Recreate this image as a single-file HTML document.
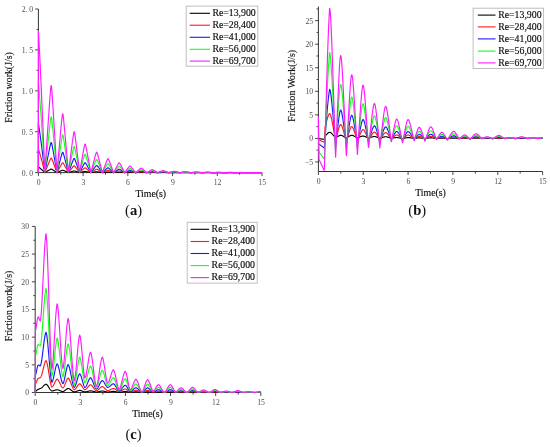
<!DOCTYPE html>
<html lang="en">
<head>
<meta charset="utf-8">
<title>Friction work versus time</title>
<style>
html,body{margin:0;padding:0;background:#fff;}
body{width:550px;height:447px;overflow:hidden;font-family:"Liberation Serif","Noto Serif CJK SC",serif;}
svg{display:block;}
</style>
</head>
<body>
<svg width="550" height="447" viewBox="0 0 550 447">
<rect width="550" height="447" fill="#fff"/>
<path d="M38.40 9.00 V172.60 H262.00" fill="none" stroke="#333" stroke-width="1"/>
<path d="M38.40 172.60 h-3.3 M38.40 131.70 h-3.3 M38.40 90.80 h-3.3 M38.40 49.90 h-3.3 M38.40 9.00 h-3.3 M38.40 152.15 h-1.9 M38.40 111.25 h-1.9 M38.40 70.35 h-1.9 M38.40 29.45 h-1.9 M38.40 172.60 v3.5 M83.12 172.60 v3.5 M127.84 172.60 v3.5 M172.56 172.60 v3.5 M217.28 172.60 v3.5 M262.00 172.60 v3.5 M60.76 172.60 v2.1 M105.48 172.60 v2.1 M150.20 172.60 v2.1 M194.92 172.60 v2.1 M239.64 172.60 v2.1" fill="none" stroke="#333" stroke-width="0.9"/>
<g font-family='"Liberation Serif", "Noto Serif CJK SC", serif' font-size="7.4" fill="#505050">
<text transform="translate(33.2 175.5) scale(1.04 1)" text-anchor="end">0. 0</text>
<text transform="translate(33.2 134.6) scale(1.04 1)" text-anchor="end">0. 5</text>
<text transform="translate(33.2 93.7) scale(1.04 1)" text-anchor="end">1. 0</text>
<text transform="translate(33.2 52.8) scale(1.04 1)" text-anchor="end">1. 5</text>
<text transform="translate(33.2 11.9) scale(1.04 1)" text-anchor="end">2. 0</text>
<text transform="translate(38.6 184.6) scale(1.04 1)" text-anchor="middle">0</text>
<text transform="translate(83.3 184.6) scale(1.04 1)" text-anchor="middle">3</text>
<text transform="translate(128.0 184.6) scale(1.04 1)" text-anchor="middle">6</text>
<text transform="translate(172.8 184.6) scale(1.04 1)" text-anchor="middle">9</text>
<text transform="translate(217.5 184.6) scale(1.04 1)" text-anchor="middle">12</text>
<text transform="translate(262.2 184.6) scale(1.04 1)" text-anchor="middle">15</text>
</g>
<g fill="none" stroke-width="1.15" stroke-linejoin="round" stroke-linecap="butt">
<path d="M38.40 172.60 L38.40 166.94 L38.62 167.10 L38.85 167.26 L39.07 167.43 L39.29 167.60 L39.52 167.77 L39.74 167.95 L39.97 168.13 L40.19 168.31 L40.41 168.50 L40.64 168.68 L40.86 168.88 L41.08 169.07 L41.31 169.27 L41.53 169.47 L41.75 169.67 L41.98 169.87 L42.20 170.08 L42.42 170.29 L42.65 170.50 L42.87 170.71 L43.10 170.93 L43.32 171.14 L43.54 171.36 L43.77 171.58 L43.99 171.79 L44.21 172.01 L44.44 172.23 L44.66 172.45 L44.88 172.56 L45.11 172.42 L45.33 172.29 L45.56 172.16 L45.78 172.03 L46.00 171.89 L46.23 171.76 L46.45 171.63 L46.67 171.50 L46.90 171.37 L47.12 171.23 L47.34 171.10 L47.57 170.97 L47.79 170.84 L48.01 170.71 L48.24 170.58 L48.46 170.45 L48.69 170.32 L48.91 170.19 L49.13 170.06 L49.36 169.93 L49.58 169.81 L49.80 169.68 L50.03 169.56 L50.25 169.44 L50.47 169.33 L50.70 169.23 L50.92 169.16 L51.15 169.12 L51.37 169.13 L51.59 169.20 L51.82 169.30 L52.04 169.42 L52.26 169.55 L52.49 169.68 L52.71 169.82 L52.93 169.96 L53.16 170.10 L53.38 170.25 L53.60 170.39 L53.83 170.54 L54.05 170.68 L54.28 170.83 L54.50 170.98 L54.72 171.12 L54.95 171.27 L55.17 171.42 L55.39 171.57 L55.62 171.71 L55.84 171.86 L56.06 172.01 L56.29 172.16 L56.51 172.30 L56.74 172.45 L56.96 172.60 L57.18 172.50 L57.41 172.40 L57.63 172.30 L57.85 172.20 L58.08 172.10 L58.30 172.00 L58.52 171.90 L58.75 171.80 L58.97 171.70 L59.19 171.60 L59.42 171.50 L59.64 171.40 L59.87 171.31 L60.09 171.21 L60.31 171.11 L60.54 171.01 L60.76 170.91 L60.98 170.82 L61.21 170.72 L61.43 170.63 L61.65 170.54 L61.88 170.45 L62.10 170.37 L62.33 170.30 L62.55 170.25 L62.77 170.25 L63.00 170.28 L63.22 170.34 L63.44 170.42 L63.67 170.51 L63.89 170.60 L64.11 170.69 L64.34 170.78 L64.56 170.88 L64.78 170.98 L65.01 171.08 L65.23 171.17 L65.46 171.27 L65.68 171.37 L65.90 171.47 L66.13 171.57 L66.35 171.67 L66.57 171.77 L66.80 171.87 L67.02 171.97 L67.24 172.07 L67.47 172.17 L67.69 172.27 L67.92 172.37 L68.14 172.47 L68.36 172.57 L68.59 172.55 L68.81 172.48 L69.03 172.41 L69.26 172.35 L69.48 172.28 L69.70 172.21 L69.93 172.14 L70.15 172.07 L70.37 172.00 L70.60 171.93 L70.82 171.86 L71.05 171.79 L71.27 171.72 L71.49 171.66 L71.72 171.59 L71.94 171.52 L72.16 171.45 L72.39 171.38 L72.61 171.32 L72.83 171.25 L73.06 171.19 L73.28 171.13 L73.51 171.07 L73.73 171.02 L73.95 170.98 L74.18 170.96 L74.40 170.98 L74.62 171.02 L74.85 171.08 L75.07 171.14 L75.29 171.20 L75.52 171.27 L75.74 171.34 L75.96 171.41 L76.19 171.48 L76.41 171.56 L76.64 171.63 L76.86 171.70 L77.08 171.77 L77.31 171.85 L77.53 171.92 L77.75 171.99 L77.98 172.06 L78.20 172.14 L78.42 172.21 L78.65 172.28 L78.87 172.36 L79.10 172.43 L79.32 172.50 L79.54 172.58 L79.77 172.57 L79.99 172.51 L80.21 172.46 L80.44 172.41 L80.66 172.36 L80.88 172.31 L81.11 172.26 L81.33 172.21 L81.55 172.16 L81.78 172.11 L82.00 172.05 L82.23 172.00 L82.45 171.95 L82.67 171.90 L82.90 171.85 L83.12 171.80 L83.34 171.75 L83.57 171.70 L83.79 171.65 L84.01 171.61 L84.24 171.56 L84.46 171.52 L84.69 171.48 L84.91 171.46 L85.13 171.46 L85.36 171.47 L85.58 171.50 L85.80 171.54 L86.03 171.58 L86.25 171.62 L86.47 171.67 L86.70 171.71 L86.92 171.76 L87.14 171.81 L87.37 171.85 L87.59 171.90 L87.82 171.95 L88.04 171.99 L88.26 172.04 L88.49 172.09 L88.71 172.14 L88.93 172.18 L89.16 172.23 L89.38 172.28 L89.60 172.33 L89.83 172.38 L90.05 172.42 L90.28 172.47 L90.50 172.52 L90.72 172.57 L90.95 172.59 L91.17 172.55 L91.39 172.52 L91.62 172.49 L91.84 172.45 L92.06 172.42 L92.29 172.38 L92.51 172.35 L92.73 172.31 L92.96 172.28 L93.18 172.25 L93.41 172.21 L93.63 172.18 L93.85 172.14 L94.08 172.11 L94.30 172.08 L94.52 172.04 L94.75 172.01 L94.97 171.98 L95.19 171.94 L95.42 171.91 L95.64 171.88 L95.87 171.85 L96.09 171.82 L96.31 171.80 L96.54 171.79 L96.76 171.78 L96.98 171.79 L97.21 171.82 L97.43 171.84 L97.65 171.87 L97.88 171.91 L98.10 171.94 L98.32 171.97 L98.55 172.01 L98.77 172.04 L99.00 172.08 L99.22 172.11 L99.44 172.14 L99.67 172.18 L99.89 172.21 L100.11 172.25 L100.34 172.28 L100.56 172.32 L100.78 172.35 L101.01 172.39 L101.23 172.42 L101.46 172.46 L101.68 172.49 L101.90 172.53 L102.13 172.56 L102.35 172.60 L102.57 172.58 L102.80 172.55 L103.02 172.53 L103.24 172.50 L103.47 172.48 L103.69 172.46 L103.91 172.43 L104.14 172.41 L104.36 172.39 L104.59 172.36 L104.81 172.34 L105.03 172.31 L105.26 172.29 L105.48 172.27 L105.70 172.24 L105.93 172.22 L106.15 172.20 L106.37 172.17 L106.60 172.15 L106.82 172.13 L107.05 172.11 L107.27 172.09 L107.49 172.07 L107.72 172.05 L107.94 172.04 L108.16 172.05 L108.39 172.06 L108.61 172.07 L108.83 172.09 L109.06 172.12 L109.28 172.14 L109.50 172.16 L109.73 172.18 L109.95 172.21 L110.18 172.23 L110.40 172.25 L110.62 172.28 L110.85 172.30 L111.07 172.33 L111.29 172.35 L111.52 172.37 L111.74 172.40 L111.96 172.42 L112.19 172.45 L112.41 172.47 L112.64 172.50 L112.86 172.52 L113.08 172.54 L113.31 172.57 L113.53 172.59 L113.75 172.59 L113.98 172.57 L114.20 172.55 L114.42 172.54 L114.65 172.52 L114.87 172.50 L115.09 172.49 L115.32 172.47 L115.54 172.45 L115.77 172.43 L115.99 172.42 L116.21 172.40 L116.44 172.38 L116.66 172.37 L116.88 172.35 L117.11 172.33 L117.33 172.32 L117.55 172.30 L117.78 172.28 L118.00 172.27 L118.23 172.25 L118.45 172.24 L118.67 172.22 L118.90 172.21 L119.12 172.21 L119.34 172.21 L119.57 172.22 L119.79 172.23 L120.01 172.24 L120.24 172.26 L120.46 172.28 L120.68 172.29 L120.91 172.31 L121.13 172.33 L121.36 172.34 L121.58 172.36 L121.80 172.38 L122.03 172.40 L122.25 172.41 L122.47 172.43 L122.70 172.45 L122.92 172.47 L123.14 172.48 L123.37 172.50 L123.59 172.52 L123.82 172.54 L124.04 172.55 L124.26 172.57 L124.49 172.59 L124.71 172.60 L124.93 172.58 L125.16 172.57 L125.38 172.56 L125.60 172.55 L125.83 172.54 L126.05 172.53 L126.27 172.51 L126.50 172.50 L126.72 172.49 L126.95 172.48 L127.17 172.47 L127.39 172.46 L127.62 172.44 L127.84 172.43 L128.06 172.42 L128.29 172.41 L128.51 172.40 L128.73 172.39 L128.96 172.38 L129.18 172.37 L129.41 172.36 L129.63 172.35 L129.85 172.34 L130.08 172.34 L130.30 172.34 L130.52 172.35 L130.75 172.36 L130.97 172.37 L131.19 172.38 L131.42 172.39 L131.64 172.40 L131.86 172.41 L132.09 172.42 L132.31 172.43 L132.54 172.44 L132.76 172.45 L132.98 172.46 L133.21 172.47 L133.43 172.49 L133.65 172.50 L133.88 172.51 L134.10 172.52 L134.32 172.53 L134.55 172.54 L134.77 172.55 L135.00 172.57 L135.22 172.58 L135.44 172.59 L135.67 172.60 L135.89 172.59 L136.11 172.58 L136.34 172.58 L136.56 172.57 L136.78 172.56 L137.01 172.55 L137.23 172.55 L137.45 172.54 L137.68 172.53 L137.90 172.52 L138.13 172.51 L138.35 172.51 L138.57 172.50 L138.80 172.49 L139.02 172.48 L139.24 172.48 L139.47 172.47 L139.69 172.46 L139.91 172.45 L140.14 172.45 L140.36 172.44 L140.59 172.43 L140.81 172.43 L141.03 172.42 L141.26 172.42 L141.48 172.42 L141.70 172.43 L141.93 172.43 L142.15 172.44 L142.37 172.45 L142.60 172.45 L142.82 172.46 L143.04 172.47 L143.27 172.48 L143.49 172.48 L143.72 172.49 L143.94 172.50 L144.16 172.51 L144.39 172.52 L144.61 172.52 L144.83 172.53 L145.06 172.54 L145.28 172.55 L145.50 172.56 L145.73 172.56 L145.95 172.57 L146.18 172.58 L146.40 172.59 L146.62 172.59 L146.85 172.60 L147.07 172.59 L147.29 172.59 L147.52 172.58 L147.74 172.58 L147.96 172.57 L148.19 172.57 L148.41 172.56 L148.63 172.56 L148.86 172.55 L149.08 172.55 L149.31 172.54 L149.53 172.54 L149.75 172.53 L149.98 172.53 L150.20 172.52 L150.42 172.52 L150.65 172.51 L150.87 172.51 L151.09 172.50 L151.32 172.50 L151.54 172.49 L151.77 172.49 L151.99 172.48 L152.21 172.48 L152.44 172.48 L152.66 172.49 L152.88 172.49 L153.11 172.49 L153.33 172.50 L153.55 172.50 L153.78 172.51 L154.00 172.51 L154.22 172.52 L154.45 172.52 L154.67 172.53 L154.90 172.53 L155.12 172.54 L155.34 172.54 L155.57 172.55 L155.79 172.55 L156.01 172.56 L156.24 172.56 L156.46 172.57 L156.68 172.58 L156.91 172.58 L157.13 172.59 L157.36 172.59 L157.58 172.60 L157.80 172.60 L158.03 172.60 L158.25 172.59 L158.47 172.59 L158.70 172.58 L158.92 172.58 L159.14 172.58 L159.37 172.57 L159.59 172.57 L159.81 172.57 L160.04 172.56 L160.26 172.56 L160.49 172.56 L160.71 172.55 L160.93 172.55 L161.16 172.54 L161.38 172.54 L161.60 172.54 L161.83 172.53 L162.05 172.53 L162.27 172.53 L162.50 172.52 L162.72 172.52 L162.95 172.52 L163.17 172.52 L163.39 172.52 L163.62 172.52 L163.84 172.52 L164.06 172.53 L164.29 172.53 L164.51 172.53 L164.73 172.54 L164.96 172.54 L165.18 172.54 L165.40 172.55 L165.63 172.55 L165.85 172.55 L166.08 172.56 L166.30 172.56 L166.52 172.57 L166.75 172.57 L166.97 172.57 L167.19 172.58 L167.42 172.58 L167.64 172.58 L167.86 172.59 L168.09 172.59 L168.31 172.59 L168.54 172.60 L168.76 172.60 L168.98 172.60 L169.21 172.59 L169.43 172.59 L169.65 172.59 L169.88 172.59 L170.10 172.59 L170.32 172.58 L170.55 172.58 L170.77 172.58 L170.99 172.58 L171.22 172.57 L171.44 172.57 L171.67 172.57 L171.89 172.57 L172.11 172.56 L172.34 172.56 L172.56 172.56 L172.78 172.56 L173.01 172.56 L173.23 172.55 L173.45 172.55 L173.68 172.55 L173.90 172.55 L174.13 172.55 L174.35 172.55 L174.57 172.55 L174.80 172.55 L175.02 172.55 L175.24 172.55 L175.47 172.56 L175.69 172.56 L175.91 172.56 L176.14 172.56 L176.36 172.57 L176.58 172.57 L176.81 172.57 L177.03 172.57 L177.26 172.57 L177.48 172.58 L177.70 172.58 L177.93 172.58 L178.15 172.58 L178.37 172.59 L178.60 172.59 L178.82 172.59 L179.04 172.59 L179.27 172.59 L179.49 172.60 L179.72 172.60 L179.94 172.60 L180.16 172.60 L180.39 172.60 L180.61 172.59 L180.83 172.59 L181.06 172.59 L181.28 172.59 L181.50 172.59 L181.73 172.59 L181.95 172.58 L182.17 172.58 L182.40 172.58 L182.62 172.58 L182.85 172.58 L183.07 172.58 L183.29 172.58 L183.52 172.57 L183.74 172.57 L183.96 172.57 L184.19 172.57 L184.41 172.57 L184.63 172.57 L184.86 172.57 L185.08 172.56 L185.31 172.56 L185.53 172.56 L185.75 172.56 L185.98 172.57 L186.20 172.57 L186.42 172.57 L186.65 172.57 L186.87 172.57 L187.09 172.57 L187.32 172.57 L187.54 172.58 L187.76 172.58 L187.99 172.58 L188.21 172.58 L188.44 172.58 L188.66 172.58 L188.88 172.59 L189.11 172.59 L189.33 172.59 L189.55 172.59 L189.78 172.59 L190.00 172.59 L190.22 172.59 L190.45 172.60 L190.67 172.60 L190.90 172.60 L191.12 172.60 L191.34 172.60 L191.57 172.60 L191.79 172.60 L192.01 172.59 L192.24 172.59 L192.46 172.59 L192.68 172.59 L192.91 172.59 L193.13 172.59 L193.35 172.59 L193.58 172.59 L193.80 172.59 L194.03 172.58 L194.25 172.58 L194.47 172.58 L194.70 172.58 L194.92 172.58 L195.14 172.58 L195.37 172.58 L195.59 172.58 L195.81 172.58 L196.04 172.57 L196.26 172.57 L196.49 172.57 L196.71 172.57 L196.93 172.57 L197.16 172.58 L197.38 172.58 L197.60 172.58 L197.83 172.58 L198.05 172.58 L198.27 172.58 L198.50 172.58 L198.72 172.58 L198.94 172.58 L199.17 172.58 L199.39 172.59 L199.62 172.59 L199.84 172.59 L200.06 172.59 L200.29 172.59 L200.51 172.59 L200.73 172.59 L200.96 172.59 L201.18 172.60 L201.40 172.60 L201.63 172.60 L201.85 172.60 L202.08 172.60 L202.30 172.60 L202.52 172.60 L202.75 172.60 L202.97 172.60 L203.19 172.60 L203.42 172.60 L203.64 172.59 L203.86 172.59 L204.09 172.59 L204.31 172.59 L204.53 172.59 L204.76 172.59 L204.98 172.59 L205.21 172.59 L205.43 172.59 L205.65 172.59 L205.88 172.59 L206.10 172.59 L206.32 172.58 L206.55 172.58 L206.77 172.58 L206.99 172.58 L207.22 172.58 L207.44 172.58 L207.67 172.58 L207.89 172.58 L208.11 172.58 L208.34 172.58 L208.56 172.58 L208.78 172.58 L209.01 172.58 L209.23 172.58 L209.45 172.59 L209.68 172.59 L209.90 172.59 L210.12 172.59 L210.35 172.59 L210.57 172.59 L210.80 172.59 L211.02 172.59 L211.24 172.59 L211.47 172.59 L211.69 172.59 L211.91 172.59 L212.14 172.60 L212.36 172.60 L212.58 172.60 L212.81 172.60 L213.03 172.60 L213.26 172.60 L213.48 172.60 L213.70 172.60 L213.93 172.60 L214.15 172.60 L214.37 172.60 L214.60 172.60 L214.82 172.60 L215.04 172.60 L215.27 172.60 L215.49 172.59 L215.71 172.59 L215.94 172.59 L216.16 172.59 L216.39 172.59 L216.61 172.59 L216.83 172.59 L217.06 172.59 L217.28 172.59 L217.50 172.59 L217.73 172.59 L217.95 172.59 L218.17 172.59 L218.40 172.59 L218.62 172.59 L218.85 172.59 L219.07 172.59 L219.29 172.59 L219.52 172.59 L219.74 172.59 L219.96 172.59 L220.19 172.59 L220.41 172.59 L220.63 172.59 L220.86 172.59 L221.08 172.59 L221.30 172.59 L221.53 172.59 L221.75 172.59 L221.98 172.59 L222.20 172.59 L222.42 172.59 L222.65 172.60 L222.87 172.60 L223.09 172.60 L223.32 172.60 L223.54 172.60 L223.76 172.60 L223.99 172.60 L224.21 172.60 L224.44 172.60 L224.66 172.60 L224.88 172.60 L225.11 172.60 L225.33 172.60 L225.55 172.60 L225.78 172.60 L226.00 172.60 L226.22 172.60 L226.45 172.60 L226.67 172.60 L226.89 172.60 L227.12 172.60 L227.34 172.59 L227.57 172.59 L227.79 172.59 L228.01 172.59 L228.24 172.59 L228.46 172.59 L228.68 172.59 L228.91 172.59 L229.13 172.59 L229.35 172.59 L229.58 172.59 L229.80 172.59 L230.03 172.59 L230.25 172.59 L230.47 172.59 L230.70 172.59 L230.92 172.59 L231.14 172.59 L231.37 172.59 L231.59 172.59 L231.81 172.59 L232.04 172.59 L232.26 172.59 L232.48 172.59 L232.71 172.59 L232.93 172.59 L233.16 172.60 L233.38 172.60 L233.60 172.60 L233.83 172.60 L234.05 172.60 L234.27 172.60 L234.50 172.60 L234.72 172.60 L234.94 172.60 L235.17 172.60 L235.39 172.60 L235.62 172.60 L235.84 172.60 L236.06 172.60 L236.29 172.60 L236.51 172.60 L236.73 172.60 L236.96 172.60 L237.18 172.60 L237.40 172.60 L237.63 172.60 L237.85 172.60 L238.07 172.60 L238.30 172.60 L238.52 172.60 L238.75 172.60 L238.97 172.60 L239.19 172.60 L239.42 172.60 L239.64 172.60 L239.86 172.59 L240.09 172.59 L240.31 172.59 L240.53 172.59 L240.76 172.59 L240.98 172.59 L241.21 172.59 L241.43 172.59 L241.65 172.59 L241.88 172.59 L242.10 172.59 L242.32 172.59 L242.55 172.59 L242.77 172.59 L242.99 172.60 L243.22 172.60 L243.44 172.60 L243.66 172.60 L243.89 172.60 L244.11 172.60 L244.34 172.60 L244.56 172.60 L244.78 172.60 L245.01 172.60 L245.23 172.60 L245.45 172.60 L245.68 172.60 L245.90 172.60 L246.12 172.60 L246.35 172.60 L246.57 172.60 L246.80 172.60 L247.02 172.60 L247.24 172.60 L247.47 172.60 L247.69 172.60 L247.91 172.60 L248.14 172.60 L248.36 172.60 L248.58 172.60 L248.81 172.60 L249.03 172.60 L249.25 172.60 L249.48 172.60 L249.70 172.60 L249.93 172.60 L250.15 172.60 L250.37 172.60 L250.60 172.60 L250.82 172.60 L251.04 172.60 L251.27 172.60 L251.49 172.60 L251.71 172.60 L251.94 172.60 L252.16 172.60 L252.39 172.60 L252.61 172.60 L252.83 172.60 L253.06 172.60 L253.28 172.60 L253.50 172.60 L253.73 172.60 L253.95 172.60 L254.17 172.60 L254.40 172.60 L254.62 172.60 L254.84 172.60 L255.07 172.60 L255.29 172.60 L255.52 172.60 L255.74 172.60 L255.96 172.60 L256.19 172.60 L256.41 172.60 L256.63 172.60 L256.86 172.60 L257.08 172.60 L257.30 172.60 L257.53 172.60 L257.75 172.60 L257.98 172.60 L258.20 172.60 L258.42 172.60 L258.65 172.60 L258.87 172.60 L259.09 172.60 L259.32 172.60 L259.54 172.60 L259.76 172.60 L259.99 172.60 L260.21 172.60 L260.43 172.60 L260.66 172.60 L260.88 172.60 L261.11 172.60 L261.33 172.60 L261.55 172.60 L261.78 172.60 L262.00 172.60" stroke="#000000"/>
<path d="M38.40 172.60 L38.40 149.11 L38.62 149.77 L38.85 150.45 L39.07 151.14 L39.29 151.84 L39.52 152.56 L39.74 153.29 L39.97 154.04 L40.19 154.80 L40.41 155.57 L40.64 156.35 L40.86 157.15 L41.08 157.96 L41.31 158.77 L41.53 159.60 L41.75 160.44 L41.98 161.29 L42.20 162.15 L42.42 163.01 L42.65 163.89 L42.87 164.77 L43.10 165.66 L43.32 166.55 L43.54 167.45 L43.77 168.35 L43.99 169.26 L44.21 170.17 L44.44 171.08 L44.66 171.99 L44.88 172.42 L45.11 171.87 L45.33 171.32 L45.56 170.77 L45.78 170.22 L46.00 169.67 L46.23 169.12 L46.45 168.57 L46.67 168.03 L46.90 167.48 L47.12 166.93 L47.34 166.39 L47.57 165.84 L47.79 165.30 L48.01 164.75 L48.24 164.21 L48.46 163.67 L48.69 163.13 L48.91 162.59 L49.13 162.06 L49.36 161.53 L49.58 161.01 L49.80 160.49 L50.03 159.98 L50.25 159.50 L50.47 159.04 L50.70 158.63 L50.92 158.32 L51.15 158.15 L51.37 158.20 L51.59 158.47 L51.82 158.89 L52.04 159.39 L52.26 159.92 L52.49 160.49 L52.71 161.06 L52.93 161.65 L53.16 162.24 L53.38 162.84 L53.60 163.44 L53.83 164.05 L54.05 164.65 L54.28 165.26 L54.50 165.87 L54.72 166.48 L54.95 167.09 L55.17 167.70 L55.39 168.31 L55.62 168.92 L55.84 169.53 L56.06 170.15 L56.29 170.76 L56.51 171.37 L56.74 171.99 L56.96 172.60 L57.18 172.19 L57.41 171.77 L57.63 171.36 L57.85 170.94 L58.08 170.53 L58.30 170.11 L58.52 169.70 L58.75 169.29 L58.97 168.87 L59.19 168.46 L59.42 168.05 L59.64 167.64 L59.87 167.23 L60.09 166.82 L60.31 166.41 L60.54 166.00 L60.76 165.60 L60.98 165.20 L61.21 164.80 L61.43 164.41 L61.65 164.03 L61.88 163.67 L62.10 163.33 L62.33 163.05 L62.55 162.86 L62.77 162.83 L63.00 162.97 L63.22 163.23 L63.44 163.55 L63.67 163.91 L63.89 164.28 L64.11 164.67 L64.34 165.06 L64.56 165.46 L64.78 165.87 L65.01 166.27 L65.23 166.68 L65.46 167.09 L65.68 167.50 L65.90 167.91 L66.13 168.32 L66.35 168.73 L66.57 169.15 L66.80 169.56 L67.02 169.97 L67.24 170.39 L67.47 170.80 L67.69 171.22 L67.92 171.63 L68.14 172.05 L68.36 172.46 L68.59 172.41 L68.81 172.12 L69.03 171.83 L69.26 171.54 L69.48 171.26 L69.70 170.97 L69.93 170.68 L70.15 170.39 L70.37 170.11 L70.60 169.82 L70.82 169.53 L71.05 169.25 L71.27 168.96 L71.49 168.68 L71.72 168.39 L71.94 168.11 L72.16 167.83 L72.39 167.55 L72.61 167.28 L72.83 167.00 L73.06 166.74 L73.28 166.48 L73.51 166.24 L73.73 166.03 L73.95 165.87 L74.18 165.81 L74.40 165.88 L74.62 166.05 L74.85 166.28 L75.07 166.53 L75.29 166.81 L75.52 167.09 L75.74 167.38 L75.96 167.67 L76.19 167.97 L76.41 168.27 L76.64 168.57 L76.86 168.87 L77.08 169.17 L77.31 169.47 L77.53 169.77 L77.75 170.07 L77.98 170.37 L78.20 170.68 L78.42 170.98 L78.65 171.28 L78.87 171.59 L79.10 171.89 L79.32 172.19 L79.54 172.50 L79.77 172.46 L79.99 172.25 L80.21 172.03 L80.44 171.82 L80.66 171.61 L80.88 171.40 L81.11 171.18 L81.33 170.97 L81.55 170.76 L81.78 170.55 L82.00 170.34 L82.23 170.13 L82.45 169.92 L82.67 169.71 L82.90 169.50 L83.12 169.29 L83.34 169.08 L83.57 168.88 L83.79 168.68 L84.01 168.48 L84.24 168.29 L84.46 168.12 L84.69 167.97 L84.91 167.87 L85.13 167.85 L85.36 167.92 L85.58 168.04 L85.80 168.19 L86.03 168.36 L86.25 168.54 L86.47 168.73 L86.70 168.92 L86.92 169.11 L87.14 169.30 L87.37 169.50 L87.59 169.69 L87.82 169.89 L88.04 170.09 L88.26 170.28 L88.49 170.48 L88.71 170.68 L88.93 170.88 L89.16 171.08 L89.38 171.27 L89.60 171.47 L89.83 171.67 L90.05 171.87 L90.28 172.07 L90.50 172.27 L90.72 172.47 L90.95 172.55 L91.17 172.41 L91.39 172.27 L91.62 172.13 L91.84 171.98 L92.06 171.84 L92.29 171.70 L92.51 171.56 L92.73 171.42 L92.96 171.28 L93.18 171.13 L93.41 170.99 L93.63 170.85 L93.85 170.71 L94.08 170.57 L94.30 170.43 L94.52 170.29 L94.75 170.15 L94.97 170.02 L95.19 169.88 L95.42 169.75 L95.64 169.62 L95.87 169.49 L96.09 169.38 L96.31 169.28 L96.54 169.22 L96.76 169.21 L96.98 169.26 L97.21 169.35 L97.43 169.46 L97.65 169.59 L97.88 169.72 L98.10 169.86 L98.32 170.00 L98.55 170.14 L98.77 170.28 L99.00 170.42 L99.22 170.57 L99.44 170.71 L99.67 170.85 L99.89 171.00 L100.11 171.14 L100.34 171.29 L100.56 171.43 L100.78 171.58 L101.01 171.73 L101.23 171.87 L101.46 172.02 L101.68 172.16 L101.90 172.31 L102.13 172.45 L102.35 172.60 L102.57 172.50 L102.80 172.40 L103.02 172.30 L103.24 172.20 L103.47 172.10 L103.69 172.01 L103.91 171.91 L104.14 171.81 L104.36 171.71 L104.59 171.61 L104.81 171.51 L105.03 171.41 L105.26 171.31 L105.48 171.22 L105.70 171.12 L105.93 171.02 L106.15 170.93 L106.37 170.83 L106.60 170.74 L106.82 170.64 L107.05 170.55 L107.27 170.47 L107.49 170.39 L107.72 170.33 L107.94 170.29 L108.16 170.30 L108.39 170.35 L108.61 170.42 L108.83 170.50 L109.06 170.59 L109.28 170.68 L109.50 170.78 L109.73 170.87 L109.95 170.97 L110.18 171.07 L110.40 171.17 L110.62 171.26 L110.85 171.36 L111.07 171.46 L111.29 171.56 L111.52 171.66 L111.74 171.76 L111.96 171.86 L112.19 171.96 L112.41 172.06 L112.64 172.16 L112.86 172.26 L113.08 172.37 L113.31 172.47 L113.53 172.57 L113.75 172.55 L113.98 172.48 L114.20 172.41 L114.42 172.34 L114.65 172.27 L114.87 172.20 L115.09 172.13 L115.32 172.06 L115.54 171.99 L115.77 171.92 L115.99 171.84 L116.21 171.77 L116.44 171.70 L116.66 171.63 L116.88 171.56 L117.11 171.49 L117.33 171.43 L117.55 171.36 L117.78 171.29 L118.00 171.22 L118.23 171.16 L118.45 171.10 L118.67 171.04 L118.90 171.00 L119.12 170.97 L119.34 170.98 L119.57 171.01 L119.79 171.06 L120.01 171.12 L120.24 171.19 L120.46 171.26 L120.68 171.32 L120.91 171.39 L121.13 171.46 L121.36 171.54 L121.58 171.61 L121.80 171.68 L122.03 171.75 L122.25 171.82 L122.47 171.90 L122.70 171.97 L122.92 172.04 L123.14 172.11 L123.37 172.19 L123.59 172.26 L123.82 172.33 L124.04 172.41 L124.26 172.48 L124.49 172.55 L124.71 172.58 L124.93 172.54 L125.16 172.49 L125.38 172.44 L125.60 172.39 L125.83 172.34 L126.05 172.29 L126.27 172.24 L126.50 172.20 L126.72 172.15 L126.95 172.10 L127.17 172.05 L127.39 172.00 L127.62 171.95 L127.84 171.91 L128.06 171.86 L128.29 171.81 L128.51 171.76 L128.73 171.72 L128.96 171.67 L129.18 171.63 L129.41 171.59 L129.63 171.55 L129.85 171.52 L130.08 171.51 L130.30 171.52 L130.52 171.55 L130.75 171.59 L130.97 171.62 L131.19 171.67 L131.42 171.71 L131.64 171.76 L131.86 171.80 L132.09 171.85 L132.31 171.89 L132.54 171.94 L132.76 171.99 L132.98 172.03 L133.21 172.08 L133.43 172.13 L133.65 172.17 L133.88 172.22 L134.10 172.27 L134.32 172.32 L134.55 172.36 L134.77 172.41 L135.00 172.46 L135.22 172.51 L135.44 172.55 L135.67 172.60 L135.89 172.57 L136.11 172.53 L136.34 172.50 L136.56 172.47 L136.78 172.44 L137.01 172.40 L137.23 172.37 L137.45 172.34 L137.68 172.31 L137.90 172.28 L138.13 172.24 L138.35 172.21 L138.57 172.18 L138.80 172.15 L139.02 172.11 L139.24 172.08 L139.47 172.05 L139.69 172.02 L139.91 171.99 L140.14 171.96 L140.36 171.93 L140.59 171.90 L140.81 171.88 L141.03 171.86 L141.26 171.85 L141.48 171.86 L141.70 171.88 L141.93 171.90 L142.15 171.93 L142.37 171.96 L142.60 171.99 L142.82 172.02 L143.04 172.05 L143.27 172.09 L143.49 172.12 L143.72 172.15 L143.94 172.18 L144.16 172.22 L144.39 172.25 L144.61 172.28 L144.83 172.31 L145.06 172.35 L145.28 172.38 L145.50 172.41 L145.73 172.45 L145.95 172.48 L146.18 172.51 L146.40 172.55 L146.62 172.58 L146.85 172.59 L147.07 172.57 L147.29 172.55 L147.52 172.53 L147.74 172.51 L147.96 172.48 L148.19 172.46 L148.41 172.44 L148.63 172.42 L148.86 172.40 L149.08 172.38 L149.31 172.36 L149.53 172.33 L149.75 172.31 L149.98 172.29 L150.20 172.27 L150.42 172.25 L150.65 172.23 L150.87 172.21 L151.09 172.19 L151.32 172.17 L151.54 172.15 L151.77 172.13 L151.99 172.12 L152.21 172.11 L152.44 172.11 L152.66 172.12 L152.88 172.14 L153.11 172.16 L153.33 172.18 L153.55 172.20 L153.78 172.22 L154.00 172.24 L154.22 172.26 L154.45 172.28 L154.67 172.30 L154.90 172.32 L155.12 172.35 L155.34 172.37 L155.57 172.39 L155.79 172.41 L156.01 172.43 L156.24 172.45 L156.46 172.48 L156.68 172.50 L156.91 172.52 L157.13 172.54 L157.36 172.56 L157.58 172.59 L157.80 172.59 L158.03 172.58 L158.25 172.56 L158.47 172.55 L158.70 172.53 L158.92 172.52 L159.14 172.50 L159.37 172.49 L159.59 172.47 L159.81 172.46 L160.04 172.44 L160.26 172.43 L160.49 172.41 L160.71 172.40 L160.93 172.38 L161.16 172.37 L161.38 172.35 L161.60 172.34 L161.83 172.32 L162.05 172.31 L162.27 172.30 L162.50 172.28 L162.72 172.27 L162.95 172.26 L163.17 172.26 L163.39 172.26 L163.62 172.27 L163.84 172.28 L164.06 172.30 L164.29 172.31 L164.51 172.32 L164.73 172.34 L164.96 172.35 L165.18 172.37 L165.40 172.38 L165.63 172.40 L165.85 172.41 L166.08 172.43 L166.30 172.44 L166.52 172.46 L166.75 172.47 L166.97 172.49 L167.19 172.50 L167.42 172.52 L167.64 172.53 L167.86 172.55 L168.09 172.56 L168.31 172.58 L168.54 172.59 L168.76 172.60 L168.98 172.59 L169.21 172.58 L169.43 172.57 L169.65 172.56 L169.88 172.55 L170.10 172.54 L170.32 172.53 L170.55 172.52 L170.77 172.51 L170.99 172.50 L171.22 172.49 L171.44 172.48 L171.67 172.47 L171.89 172.46 L172.11 172.45 L172.34 172.44 L172.56 172.44 L172.78 172.43 L173.01 172.42 L173.23 172.41 L173.45 172.40 L173.68 172.39 L173.90 172.39 L174.13 172.38 L174.35 172.38 L174.57 172.39 L174.80 172.39 L175.02 172.40 L175.24 172.41 L175.47 172.42 L175.69 172.43 L175.91 172.44 L176.14 172.45 L176.36 172.46 L176.58 172.46 L176.81 172.47 L177.03 172.48 L177.26 172.49 L177.48 172.50 L177.70 172.51 L177.93 172.52 L178.15 172.53 L178.37 172.54 L178.60 172.55 L178.82 172.56 L179.04 172.57 L179.27 172.58 L179.49 172.59 L179.72 172.60 L179.94 172.60 L180.16 172.59 L180.39 172.58 L180.61 172.58 L180.83 172.57 L181.06 172.56 L181.28 172.56 L181.50 172.55 L181.73 172.54 L181.95 172.54 L182.17 172.53 L182.40 172.52 L182.62 172.52 L182.85 172.51 L183.07 172.51 L183.29 172.50 L183.52 172.49 L183.74 172.49 L183.96 172.48 L184.19 172.47 L184.41 172.47 L184.63 172.46 L184.86 172.46 L185.08 172.45 L185.31 172.45 L185.53 172.45 L185.75 172.45 L185.98 172.46 L186.20 172.46 L186.42 172.47 L186.65 172.48 L186.87 172.48 L187.09 172.49 L187.32 172.49 L187.54 172.50 L187.76 172.51 L187.99 172.51 L188.21 172.52 L188.44 172.53 L188.66 172.53 L188.88 172.54 L189.11 172.55 L189.33 172.55 L189.55 172.56 L189.78 172.57 L190.00 172.57 L190.22 172.58 L190.45 172.58 L190.67 172.59 L190.90 172.60 L191.12 172.60 L191.34 172.59 L191.57 172.59 L191.79 172.58 L192.01 172.58 L192.24 172.57 L192.46 172.57 L192.68 172.56 L192.91 172.56 L193.13 172.55 L193.35 172.55 L193.58 172.54 L193.80 172.54 L194.03 172.54 L194.25 172.53 L194.47 172.53 L194.70 172.52 L194.92 172.52 L195.14 172.51 L195.37 172.51 L195.59 172.50 L195.81 172.50 L196.04 172.50 L196.26 172.49 L196.49 172.49 L196.71 172.49 L196.93 172.49 L197.16 172.50 L197.38 172.50 L197.60 172.51 L197.83 172.51 L198.05 172.51 L198.27 172.52 L198.50 172.52 L198.72 172.53 L198.94 172.53 L199.17 172.54 L199.39 172.54 L199.62 172.55 L199.84 172.55 L200.06 172.56 L200.29 172.56 L200.51 172.57 L200.73 172.57 L200.96 172.57 L201.18 172.58 L201.40 172.58 L201.63 172.59 L201.85 172.59 L202.08 172.60 L202.30 172.60 L202.52 172.59 L202.75 172.59 L202.97 172.59 L203.19 172.58 L203.42 172.58 L203.64 172.58 L203.86 172.57 L204.09 172.57 L204.31 172.57 L204.53 172.56 L204.76 172.56 L204.98 172.56 L205.21 172.55 L205.43 172.55 L205.65 172.54 L205.88 172.54 L206.10 172.54 L206.32 172.53 L206.55 172.53 L206.77 172.53 L206.99 172.52 L207.22 172.52 L207.44 172.52 L207.67 172.52 L207.89 172.52 L208.11 172.52 L208.34 172.52 L208.56 172.53 L208.78 172.53 L209.01 172.53 L209.23 172.54 L209.45 172.54 L209.68 172.54 L209.90 172.55 L210.12 172.55 L210.35 172.55 L210.57 172.56 L210.80 172.56 L211.02 172.56 L211.24 172.57 L211.47 172.57 L211.69 172.57 L211.91 172.58 L212.14 172.58 L212.36 172.58 L212.58 172.59 L212.81 172.59 L213.03 172.60 L213.26 172.60 L213.48 172.60 L213.70 172.60 L213.93 172.59 L214.15 172.59 L214.37 172.59 L214.60 172.59 L214.82 172.58 L215.04 172.58 L215.27 172.58 L215.49 172.58 L215.71 172.57 L215.94 172.57 L216.16 172.57 L216.39 172.57 L216.61 172.57 L216.83 172.56 L217.06 172.56 L217.28 172.56 L217.50 172.56 L217.73 172.55 L217.95 172.55 L218.17 172.55 L218.40 172.55 L218.62 172.55 L218.85 172.55 L219.07 172.55 L219.29 172.55 L219.52 172.55 L219.74 172.55 L219.96 172.55 L220.19 172.55 L220.41 172.56 L220.63 172.56 L220.86 172.56 L221.08 172.56 L221.30 172.57 L221.53 172.57 L221.75 172.57 L221.98 172.57 L222.20 172.58 L222.42 172.58 L222.65 172.58 L222.87 172.58 L223.09 172.59 L223.32 172.59 L223.54 172.59 L223.76 172.59 L223.99 172.59 L224.21 172.60 L224.44 172.60 L224.66 172.60 L224.88 172.60 L225.11 172.60 L225.33 172.59 L225.55 172.59 L225.78 172.59 L226.00 172.59 L226.22 172.59 L226.45 172.58 L226.67 172.58 L226.89 172.58 L227.12 172.58 L227.34 172.58 L227.57 172.58 L227.79 172.57 L228.01 172.57 L228.24 172.57 L228.46 172.57 L228.68 172.57 L228.91 172.57 L229.13 172.56 L229.35 172.56 L229.58 172.56 L229.80 172.56 L230.03 172.56 L230.25 172.56 L230.47 172.56 L230.70 172.56 L230.92 172.56 L231.14 172.56 L231.37 172.57 L231.59 172.57 L231.81 172.57 L232.04 172.57 L232.26 172.57 L232.48 172.57 L232.71 172.58 L232.93 172.58 L233.16 172.58 L233.38 172.58 L233.60 172.58 L233.83 172.59 L234.05 172.59 L234.27 172.59 L234.50 172.59 L234.72 172.59 L234.94 172.59 L235.17 172.60 L235.39 172.60 L235.62 172.60 L235.84 172.60 L236.06 172.60 L236.29 172.60 L236.51 172.60 L236.73 172.59 L236.96 172.59 L237.18 172.59 L237.40 172.59 L237.63 172.59 L237.85 172.59 L238.07 172.59 L238.30 172.59 L238.52 172.59 L238.75 172.58 L238.97 172.58 L239.19 172.58 L239.42 172.58 L239.64 172.58 L239.86 172.58 L240.09 172.58 L240.31 172.58 L240.53 172.57 L240.76 172.57 L240.98 172.57 L241.21 172.57 L241.43 172.57 L241.65 172.57 L241.88 172.57 L242.10 172.58 L242.32 172.58 L242.55 172.58 L242.77 172.58 L242.99 172.58 L243.22 172.58 L243.44 172.58 L243.66 172.58 L243.89 172.58 L244.11 172.59 L244.34 172.59 L244.56 172.59 L244.78 172.59 L245.01 172.59 L245.23 172.59 L245.45 172.59 L245.68 172.59 L245.90 172.59 L246.12 172.60 L246.35 172.60 L246.57 172.60 L246.80 172.60 L247.02 172.60 L247.24 172.60 L247.47 172.60 L247.69 172.60 L247.91 172.60 L248.14 172.59 L248.36 172.59 L248.58 172.59 L248.81 172.59 L249.03 172.59 L249.25 172.59 L249.48 172.59 L249.70 172.59 L249.93 172.59 L250.15 172.59 L250.37 172.59 L250.60 172.59 L250.82 172.58 L251.04 172.58 L251.27 172.58 L251.49 172.58 L251.71 172.58 L251.94 172.58 L252.16 172.58 L252.39 172.58 L252.61 172.58 L252.83 172.58 L253.06 172.58 L253.28 172.58 L253.50 172.58 L253.73 172.58 L253.95 172.58 L254.17 172.58 L254.40 172.59 L254.62 172.59 L254.84 172.59 L255.07 172.59 L255.29 172.59 L255.52 172.59 L255.74 172.59 L255.96 172.59 L256.19 172.59 L256.41 172.59 L256.63 172.59 L256.86 172.60 L257.08 172.60 L257.30 172.60 L257.53 172.60 L257.75 172.60 L257.98 172.60 L258.20 172.60 L258.42 172.60 L258.65 172.60 L258.87 172.60 L259.09 172.60 L259.32 172.60 L259.54 172.60 L259.76 172.60 L259.99 172.59 L260.21 172.59 L260.43 172.59 L260.66 172.59 L260.88 172.59 L261.11 172.59 L261.33 172.59 L261.55 172.59 L261.78 172.59 L262.00 172.59" stroke="#ff1a1a"/>
<path d="M38.40 172.60 L38.40 123.64 L38.62 125.02 L38.85 126.43 L39.07 127.87 L39.29 129.34 L39.52 130.83 L39.74 132.36 L39.97 133.91 L40.19 135.49 L40.41 137.10 L40.64 138.73 L40.86 140.39 L41.08 142.08 L41.31 143.78 L41.53 145.51 L41.75 147.26 L41.98 149.03 L42.20 150.82 L42.42 152.62 L42.65 154.44 L42.87 156.28 L43.10 158.13 L43.32 159.99 L43.54 161.86 L43.77 163.75 L43.99 165.64 L44.21 167.53 L44.44 169.43 L44.66 171.33 L44.88 172.22 L45.11 171.07 L45.33 169.93 L45.56 168.78 L45.78 167.64 L46.00 166.50 L46.23 165.35 L46.45 164.21 L46.67 163.07 L46.90 161.93 L47.12 160.79 L47.34 159.65 L47.57 158.51 L47.79 157.38 L48.01 156.24 L48.24 155.11 L48.46 153.98 L48.69 152.86 L48.91 151.74 L49.13 150.63 L49.36 149.52 L49.58 148.43 L49.80 147.36 L50.03 146.31 L50.25 145.29 L50.47 144.34 L50.70 143.49 L50.92 142.83 L51.15 142.48 L51.37 142.58 L51.59 143.15 L51.82 144.02 L52.04 145.06 L52.26 146.18 L52.49 147.35 L52.71 148.55 L52.93 149.78 L53.16 151.01 L53.38 152.26 L53.60 153.51 L53.83 154.77 L54.05 156.03 L54.28 157.30 L54.50 158.57 L54.72 159.84 L54.95 161.11 L55.17 162.38 L55.39 163.66 L55.62 164.93 L55.84 166.21 L56.06 167.49 L56.29 168.76 L56.51 170.04 L56.74 171.32 L56.96 172.60 L57.18 171.74 L57.41 170.87 L57.63 170.01 L57.85 169.14 L58.08 168.28 L58.30 167.42 L58.52 166.55 L58.75 165.69 L58.97 164.83 L59.19 163.97 L59.42 163.11 L59.64 162.25 L59.87 161.40 L60.09 160.55 L60.31 159.70 L60.54 158.85 L60.76 158.01 L60.98 157.17 L61.21 156.34 L61.43 155.53 L61.65 154.74 L61.88 153.98 L62.10 153.28 L62.33 152.69 L62.55 152.30 L62.77 152.24 L63.00 152.53 L63.22 153.07 L63.44 153.74 L63.67 154.48 L63.89 155.26 L64.11 156.07 L64.34 156.89 L64.56 157.73 L64.78 158.57 L65.01 159.41 L65.23 160.26 L65.46 161.11 L65.68 161.97 L65.90 162.83 L66.13 163.68 L66.35 164.54 L66.57 165.40 L66.80 166.27 L67.02 167.13 L67.24 167.99 L67.47 168.85 L67.69 169.72 L67.92 170.58 L68.14 171.45 L68.36 172.31 L68.59 172.20 L68.81 171.60 L69.03 171.00 L69.26 170.40 L69.48 169.80 L69.70 169.20 L69.93 168.60 L70.15 168.00 L70.37 167.40 L70.60 166.81 L70.82 166.21 L71.05 165.61 L71.27 165.02 L71.49 164.43 L71.72 163.84 L71.94 163.25 L72.16 162.66 L72.39 162.08 L72.61 161.50 L72.83 160.93 L73.06 160.38 L73.28 159.84 L73.51 159.34 L73.73 158.90 L73.95 158.57 L74.18 158.45 L74.40 158.59 L74.62 158.94 L74.85 159.42 L75.07 159.96 L75.29 160.53 L75.52 161.12 L75.74 161.72 L75.96 162.33 L76.19 162.95 L76.41 163.57 L76.64 164.19 L76.86 164.82 L77.08 165.44 L77.31 166.07 L77.53 166.70 L77.75 167.33 L77.98 167.96 L78.20 168.59 L78.42 169.22 L78.65 169.86 L78.87 170.49 L79.10 171.12 L79.32 171.76 L79.54 172.39 L79.77 172.30 L79.99 171.86 L80.21 171.42 L80.44 170.97 L80.66 170.53 L80.88 170.09 L81.11 169.65 L81.33 169.21 L81.55 168.76 L81.78 168.32 L82.00 167.88 L82.23 167.44 L82.45 167.01 L82.67 166.57 L82.90 166.13 L83.12 165.70 L83.34 165.27 L83.57 164.84 L83.79 164.42 L84.01 164.01 L84.24 163.62 L84.46 163.26 L84.69 162.94 L84.91 162.74 L85.13 162.70 L85.36 162.84 L85.58 163.10 L85.80 163.42 L86.03 163.77 L86.25 164.15 L86.47 164.53 L86.70 164.93 L86.92 165.33 L87.14 165.73 L87.37 166.13 L87.59 166.54 L87.82 166.95 L88.04 167.36 L88.26 167.77 L88.49 168.18 L88.71 168.60 L88.93 169.01 L89.16 169.42 L89.38 169.84 L89.60 170.25 L89.83 170.66 L90.05 171.08 L90.28 171.49 L90.50 171.91 L90.72 172.32 L90.95 172.50 L91.17 172.20 L91.39 171.91 L91.62 171.61 L91.84 171.32 L92.06 171.02 L92.29 170.72 L92.51 170.43 L92.73 170.13 L92.96 169.84 L93.18 169.54 L93.41 169.25 L93.63 168.96 L93.85 168.66 L94.08 168.37 L94.30 168.08 L94.52 167.79 L94.75 167.50 L94.97 167.21 L95.19 166.93 L95.42 166.65 L95.64 166.38 L95.87 166.12 L96.09 165.88 L96.31 165.68 L96.54 165.55 L96.76 165.53 L96.98 165.63 L97.21 165.82 L97.43 166.06 L97.65 166.32 L97.88 166.60 L98.10 166.88 L98.32 167.17 L98.55 167.47 L98.77 167.76 L99.00 168.06 L99.22 168.36 L99.44 168.66 L99.67 168.96 L99.89 169.26 L100.11 169.56 L100.34 169.87 L100.56 170.17 L100.78 170.47 L101.01 170.78 L101.23 171.08 L101.46 171.38 L101.68 171.69 L101.90 171.99 L102.13 172.30 L102.35 172.60 L102.57 172.39 L102.80 172.19 L103.02 171.98 L103.24 171.77 L103.47 171.57 L103.69 171.36 L103.91 171.15 L104.14 170.95 L104.36 170.74 L104.59 170.54 L104.81 170.33 L105.03 170.13 L105.26 169.92 L105.48 169.72 L105.70 169.51 L105.93 169.31 L106.15 169.11 L106.37 168.91 L106.60 168.71 L106.82 168.52 L107.05 168.33 L107.27 168.15 L107.49 167.99 L107.72 167.86 L107.94 167.79 L108.16 167.81 L108.39 167.90 L108.61 168.05 L108.83 168.22 L109.06 168.41 L109.28 168.60 L109.50 168.80 L109.73 169.00 L109.95 169.20 L110.18 169.40 L110.40 169.61 L110.62 169.82 L110.85 170.02 L111.07 170.23 L111.29 170.44 L111.52 170.65 L111.74 170.86 L111.96 171.06 L112.19 171.27 L112.41 171.48 L112.64 171.69 L112.86 171.90 L113.08 172.11 L113.31 172.32 L113.53 172.53 L113.75 172.50 L113.98 172.35 L114.20 172.21 L114.42 172.06 L114.65 171.91 L114.87 171.76 L115.09 171.61 L115.32 171.47 L115.54 171.32 L115.77 171.17 L115.99 171.03 L116.21 170.88 L116.44 170.73 L116.66 170.59 L116.88 170.44 L117.11 170.30 L117.33 170.15 L117.55 170.01 L117.78 169.87 L118.00 169.73 L118.23 169.59 L118.45 169.47 L118.67 169.35 L118.90 169.26 L119.12 169.21 L119.34 169.22 L119.57 169.29 L119.79 169.40 L120.01 169.52 L120.24 169.66 L120.46 169.80 L120.68 169.94 L120.91 170.09 L121.13 170.23 L121.36 170.38 L121.58 170.53 L121.80 170.68 L122.03 170.83 L122.25 170.98 L122.47 171.13 L122.70 171.28 L122.92 171.44 L123.14 171.59 L123.37 171.74 L123.59 171.89 L123.82 172.04 L124.04 172.19 L124.26 172.35 L124.49 172.50 L124.71 172.57 L124.93 172.46 L125.16 172.36 L125.38 172.26 L125.60 172.16 L125.83 172.06 L126.05 171.96 L126.27 171.86 L126.50 171.76 L126.72 171.66 L126.95 171.56 L127.17 171.45 L127.39 171.35 L127.62 171.25 L127.84 171.15 L128.06 171.06 L128.29 170.96 L128.51 170.86 L128.73 170.76 L128.96 170.67 L129.18 170.58 L129.41 170.49 L129.63 170.41 L129.85 170.36 L130.08 170.34 L130.30 170.36 L130.52 170.41 L130.75 170.48 L130.97 170.57 L131.19 170.66 L131.42 170.75 L131.64 170.84 L131.86 170.94 L132.09 171.03 L132.31 171.13 L132.54 171.23 L132.76 171.32 L132.98 171.42 L133.21 171.52 L133.43 171.62 L133.65 171.71 L133.88 171.81 L134.10 171.91 L134.32 172.01 L134.55 172.11 L134.77 172.21 L135.00 172.30 L135.22 172.40 L135.44 172.50 L135.67 172.60 L135.89 172.53 L136.11 172.46 L136.34 172.40 L136.56 172.33 L136.78 172.26 L137.01 172.19 L137.23 172.13 L137.45 172.06 L137.68 171.99 L137.90 171.92 L138.13 171.86 L138.35 171.79 L138.57 171.72 L138.80 171.65 L139.02 171.59 L139.24 171.52 L139.47 171.46 L139.69 171.39 L139.91 171.33 L140.14 171.26 L140.36 171.20 L140.59 171.15 L140.81 171.10 L141.03 171.06 L141.26 171.04 L141.48 171.06 L141.70 171.10 L141.93 171.15 L142.15 171.21 L142.37 171.27 L142.60 171.33 L142.82 171.40 L143.04 171.46 L143.27 171.53 L143.49 171.60 L143.72 171.66 L143.94 171.73 L144.16 171.80 L144.39 171.87 L144.61 171.94 L144.83 172.01 L145.06 172.07 L145.28 172.14 L145.50 172.21 L145.73 172.28 L145.95 172.35 L146.18 172.42 L146.40 172.49 L146.62 172.55 L146.85 172.58 L147.07 172.54 L147.29 172.50 L147.52 172.45 L147.74 172.41 L147.96 172.36 L148.19 172.32 L148.41 172.27 L148.63 172.23 L148.86 172.18 L149.08 172.14 L149.31 172.09 L149.53 172.05 L149.75 172.00 L149.98 171.96 L150.20 171.91 L150.42 171.87 L150.65 171.83 L150.87 171.78 L151.09 171.74 L151.32 171.70 L151.54 171.66 L151.77 171.63 L151.99 171.60 L152.21 171.58 L152.44 171.59 L152.66 171.61 L152.88 171.64 L153.11 171.68 L153.33 171.72 L153.55 171.76 L153.78 171.80 L154.00 171.85 L154.22 171.89 L154.45 171.93 L154.67 171.98 L154.90 172.02 L155.12 172.07 L155.34 172.11 L155.57 172.16 L155.79 172.21 L156.01 172.25 L156.24 172.30 L156.46 172.34 L156.68 172.39 L156.91 172.43 L157.13 172.48 L157.36 172.52 L157.58 172.57 L157.80 172.59 L158.03 172.56 L158.25 172.53 L158.47 172.49 L158.70 172.46 L158.92 172.43 L159.14 172.40 L159.37 172.37 L159.59 172.34 L159.81 172.31 L160.04 172.27 L160.26 172.24 L160.49 172.21 L160.71 172.18 L160.93 172.15 L161.16 172.12 L161.38 172.09 L161.60 172.06 L161.83 172.03 L162.05 172.00 L162.27 171.97 L162.50 171.94 L162.72 171.92 L162.95 171.90 L163.17 171.89 L163.39 171.90 L163.62 171.92 L163.84 171.94 L164.06 171.97 L164.29 171.99 L164.51 172.02 L164.73 172.05 L164.96 172.08 L165.18 172.11 L165.40 172.14 L165.63 172.17 L165.85 172.21 L166.08 172.24 L166.30 172.27 L166.52 172.30 L166.75 172.33 L166.97 172.36 L167.19 172.39 L167.42 172.42 L167.64 172.45 L167.86 172.49 L168.09 172.52 L168.31 172.55 L168.54 172.58 L168.76 172.59 L168.98 172.57 L169.21 172.55 L169.43 172.53 L169.65 172.51 L169.88 172.49 L170.10 172.47 L170.32 172.45 L170.55 172.43 L170.77 172.41 L170.99 172.39 L171.22 172.37 L171.44 172.35 L171.67 172.33 L171.89 172.31 L172.11 172.30 L172.34 172.28 L172.56 172.26 L172.78 172.24 L173.01 172.22 L173.23 172.20 L173.45 172.18 L173.68 172.17 L173.90 172.15 L174.13 172.15 L174.35 172.15 L174.57 172.16 L174.80 172.17 L175.02 172.19 L175.24 172.21 L175.47 172.22 L175.69 172.24 L175.91 172.26 L176.14 172.28 L176.36 172.30 L176.58 172.32 L176.81 172.34 L177.03 172.36 L177.26 172.38 L177.48 172.40 L177.70 172.42 L177.93 172.44 L178.15 172.46 L178.37 172.48 L178.60 172.49 L178.82 172.51 L179.04 172.53 L179.27 172.55 L179.49 172.57 L179.72 172.59 L179.94 172.59 L180.16 172.58 L180.39 172.56 L180.61 172.55 L180.83 172.54 L181.06 172.52 L181.28 172.51 L181.50 172.50 L181.73 172.48 L181.95 172.47 L182.17 172.46 L182.40 172.44 L182.62 172.43 L182.85 172.42 L183.07 172.40 L183.29 172.39 L183.52 172.38 L183.74 172.36 L183.96 172.35 L184.19 172.34 L184.41 172.32 L184.63 172.31 L184.86 172.30 L185.08 172.29 L185.31 172.29 L185.53 172.29 L185.75 172.30 L185.98 172.31 L186.20 172.32 L186.42 172.33 L186.65 172.34 L186.87 172.35 L187.09 172.37 L187.32 172.38 L187.54 172.39 L187.76 172.41 L187.99 172.42 L188.21 172.43 L188.44 172.45 L188.66 172.46 L188.88 172.47 L189.11 172.49 L189.33 172.50 L189.55 172.51 L189.78 172.53 L190.00 172.54 L190.22 172.55 L190.45 172.57 L190.67 172.58 L190.90 172.60 L191.12 172.59 L191.34 172.58 L191.57 172.57 L191.79 172.56 L192.01 172.55 L192.24 172.54 L192.46 172.53 L192.68 172.52 L192.91 172.51 L193.13 172.50 L193.35 172.50 L193.58 172.49 L193.80 172.48 L194.03 172.47 L194.25 172.46 L194.47 172.45 L194.70 172.44 L194.92 172.43 L195.14 172.42 L195.37 172.41 L195.59 172.40 L195.81 172.39 L196.04 172.38 L196.26 172.38 L196.49 172.37 L196.71 172.37 L196.93 172.38 L197.16 172.39 L197.38 172.39 L197.60 172.40 L197.83 172.41 L198.05 172.42 L198.27 172.43 L198.50 172.44 L198.72 172.45 L198.94 172.46 L199.17 172.47 L199.39 172.48 L199.62 172.49 L199.84 172.50 L200.06 172.51 L200.29 172.52 L200.51 172.53 L200.73 172.54 L200.96 172.55 L201.18 172.56 L201.40 172.57 L201.63 172.58 L201.85 172.59 L202.08 172.60 L202.30 172.60 L202.52 172.59 L202.75 172.58 L202.97 172.57 L203.19 172.57 L203.42 172.56 L203.64 172.55 L203.86 172.54 L204.09 172.54 L204.31 172.53 L204.53 172.52 L204.76 172.51 L204.98 172.51 L205.21 172.50 L205.43 172.49 L205.65 172.48 L205.88 172.48 L206.10 172.47 L206.32 172.46 L206.55 172.46 L206.77 172.45 L206.99 172.44 L207.22 172.44 L207.44 172.43 L207.67 172.43 L207.89 172.43 L208.11 172.43 L208.34 172.44 L208.56 172.45 L208.78 172.45 L209.01 172.46 L209.23 172.47 L209.45 172.47 L209.68 172.48 L209.90 172.49 L210.12 172.49 L210.35 172.50 L210.57 172.51 L210.80 172.52 L211.02 172.52 L211.24 172.53 L211.47 172.54 L211.69 172.55 L211.91 172.55 L212.14 172.56 L212.36 172.57 L212.58 172.58 L212.81 172.58 L213.03 172.59 L213.26 172.60 L213.48 172.60 L213.70 172.59 L213.93 172.59 L214.15 172.58 L214.37 172.58 L214.60 172.57 L214.82 172.57 L215.04 172.56 L215.27 172.56 L215.49 172.55 L215.71 172.55 L215.94 172.54 L216.16 172.54 L216.39 172.53 L216.61 172.53 L216.83 172.52 L217.06 172.52 L217.28 172.51 L217.50 172.51 L217.73 172.50 L217.95 172.50 L218.17 172.50 L218.40 172.49 L218.62 172.49 L218.85 172.49 L219.07 172.49 L219.29 172.49 L219.52 172.49 L219.74 172.50 L219.96 172.50 L220.19 172.51 L220.41 172.51 L220.63 172.52 L220.86 172.52 L221.08 172.52 L221.30 172.53 L221.53 172.53 L221.75 172.54 L221.98 172.54 L222.20 172.55 L222.42 172.55 L222.65 172.56 L222.87 172.56 L223.09 172.57 L223.32 172.57 L223.54 172.58 L223.76 172.58 L223.99 172.59 L224.21 172.59 L224.44 172.60 L224.66 172.60 L224.88 172.59 L225.11 172.59 L225.33 172.59 L225.55 172.58 L225.78 172.58 L226.00 172.58 L226.22 172.57 L226.45 172.57 L226.67 172.56 L226.89 172.56 L227.12 172.56 L227.34 172.55 L227.57 172.55 L227.79 172.55 L228.01 172.54 L228.24 172.54 L228.46 172.54 L228.68 172.53 L228.91 172.53 L229.13 172.52 L229.35 172.52 L229.58 172.52 L229.80 172.52 L230.03 172.52 L230.25 172.52 L230.47 172.52 L230.70 172.52 L230.92 172.52 L231.14 172.53 L231.37 172.53 L231.59 172.53 L231.81 172.54 L232.04 172.54 L232.26 172.54 L232.48 172.55 L232.71 172.55 L232.93 172.55 L233.16 172.56 L233.38 172.56 L233.60 172.57 L233.83 172.57 L234.05 172.57 L234.27 172.58 L234.50 172.58 L234.72 172.58 L234.94 172.59 L235.17 172.59 L235.39 172.60 L235.62 172.60 L235.84 172.60 L236.06 172.60 L236.29 172.59 L236.51 172.59 L236.73 172.59 L236.96 172.59 L237.18 172.58 L237.40 172.58 L237.63 172.58 L237.85 172.58 L238.07 172.57 L238.30 172.57 L238.52 172.57 L238.75 172.57 L238.97 172.56 L239.19 172.56 L239.42 172.56 L239.64 172.56 L239.86 172.55 L240.09 172.55 L240.31 172.55 L240.53 172.55 L240.76 172.55 L240.98 172.54 L241.21 172.54 L241.43 172.54 L241.65 172.54 L241.88 172.55 L242.10 172.55 L242.32 172.55 L242.55 172.55 L242.77 172.56 L242.99 172.56 L243.22 172.56 L243.44 172.56 L243.66 172.56 L243.89 172.57 L244.11 172.57 L244.34 172.57 L244.56 172.57 L244.78 172.58 L245.01 172.58 L245.23 172.58 L245.45 172.58 L245.68 172.59 L245.90 172.59 L246.12 172.59 L246.35 172.59 L246.57 172.60 L246.80 172.60 L247.02 172.60 L247.24 172.60 L247.47 172.60 L247.69 172.59 L247.91 172.59 L248.14 172.59 L248.36 172.59 L248.58 172.59 L248.81 172.58 L249.03 172.58 L249.25 172.58 L249.48 172.58 L249.70 172.58 L249.93 172.57 L250.15 172.57 L250.37 172.57 L250.60 172.57 L250.82 172.57 L251.04 172.57 L251.27 172.56 L251.49 172.56 L251.71 172.56 L251.94 172.56 L252.16 172.56 L252.39 172.56 L252.61 172.56 L252.83 172.56 L253.06 172.56 L253.28 172.56 L253.50 172.56 L253.73 172.56 L253.95 172.57 L254.17 172.57 L254.40 172.57 L254.62 172.57 L254.84 172.57 L255.07 172.58 L255.29 172.58 L255.52 172.58 L255.74 172.58 L255.96 172.58 L256.19 172.58 L256.41 172.59 L256.63 172.59 L256.86 172.59 L257.08 172.59 L257.30 172.59 L257.53 172.60 L257.75 172.60 L257.98 172.60 L258.20 172.60 L258.42 172.60 L258.65 172.60 L258.87 172.60 L259.09 172.59 L259.32 172.59 L259.54 172.59 L259.76 172.59 L259.99 172.59 L260.21 172.59 L260.43 172.59 L260.66 172.59 L260.88 172.58 L261.11 172.58 L261.33 172.58 L261.55 172.58 L261.78 172.58 L262.00 172.58" stroke="#1a1aff"/>
<path d="M38.40 172.60 L38.40 82.03 L38.62 84.59 L38.85 87.19 L39.07 89.86 L39.29 92.57 L39.52 95.34 L39.74 98.17 L39.97 101.04 L40.19 103.96 L40.41 106.94 L40.64 109.96 L40.86 113.03 L41.08 116.14 L41.31 119.29 L41.53 122.49 L41.75 125.73 L41.98 129.00 L42.20 132.31 L42.42 135.65 L42.65 139.02 L42.87 142.41 L43.10 145.83 L43.32 149.28 L43.54 152.74 L43.77 156.22 L43.99 159.72 L44.21 163.22 L44.44 166.74 L44.66 170.25 L44.88 171.89 L45.11 169.77 L45.33 167.66 L45.56 165.54 L45.78 163.42 L46.00 161.31 L46.23 159.19 L46.45 157.08 L46.67 154.97 L46.90 152.86 L47.12 150.75 L47.34 148.64 L47.57 146.54 L47.79 144.44 L48.01 142.34 L48.24 140.25 L48.46 138.17 L48.69 136.09 L48.91 134.02 L49.13 131.96 L49.36 129.92 L49.58 127.90 L49.80 125.91 L50.03 123.96 L50.25 122.09 L50.47 120.32 L50.70 118.76 L50.92 117.53 L51.15 116.89 L51.37 117.07 L51.59 118.12 L51.82 119.74 L52.04 121.65 L52.26 123.73 L52.49 125.90 L52.71 128.12 L52.93 130.38 L53.16 132.67 L53.38 134.98 L53.60 137.29 L53.83 139.62 L54.05 141.95 L54.28 144.30 L54.50 146.64 L54.72 148.99 L54.95 151.34 L55.17 153.70 L55.39 156.06 L55.62 158.42 L55.84 160.78 L56.06 163.14 L56.29 165.50 L56.51 167.87 L56.74 170.23 L56.96 172.60 L57.18 171.00 L57.41 169.40 L57.63 167.80 L57.85 166.20 L58.08 164.61 L58.30 163.01 L58.52 161.42 L58.75 159.82 L58.97 158.23 L59.19 156.64 L59.42 155.05 L59.64 153.46 L59.87 151.88 L60.09 150.30 L60.31 148.73 L60.54 147.16 L60.76 145.61 L60.98 144.06 L61.21 142.53 L61.43 141.03 L61.65 139.56 L61.88 138.16 L62.10 136.86 L62.33 135.77 L62.55 135.06 L62.77 134.95 L63.00 135.48 L63.22 136.47 L63.44 137.71 L63.67 139.08 L63.89 140.53 L64.11 142.03 L64.34 143.55 L64.56 145.09 L64.78 146.64 L65.01 148.21 L65.23 149.78 L65.46 151.36 L65.68 152.94 L65.90 154.52 L66.13 156.11 L66.35 157.70 L66.57 159.29 L66.80 160.88 L67.02 162.48 L67.24 164.07 L67.47 165.67 L67.69 167.27 L67.92 168.87 L68.14 170.47 L68.36 172.07 L68.59 171.86 L68.81 170.75 L69.03 169.64 L69.26 168.53 L69.48 167.42 L69.70 166.31 L69.93 165.20 L70.15 164.09 L70.37 162.99 L70.60 161.88 L70.82 160.78 L71.05 159.68 L71.27 158.58 L71.49 157.48 L71.72 156.39 L71.94 155.30 L72.16 154.21 L72.39 153.14 L72.61 152.07 L72.83 151.02 L73.06 149.99 L73.28 149.00 L73.51 148.07 L73.73 147.26 L73.95 146.66 L74.18 146.42 L74.40 146.68 L74.62 147.34 L74.85 148.22 L75.07 149.21 L75.29 150.27 L75.52 151.36 L75.74 152.48 L75.96 153.61 L76.19 154.75 L76.41 155.89 L76.64 157.05 L76.86 158.20 L77.08 159.36 L77.31 160.52 L77.53 161.69 L77.75 162.85 L77.98 164.02 L78.20 165.19 L78.42 166.36 L78.65 167.53 L78.87 168.70 L79.10 169.87 L79.32 171.04 L79.54 172.21 L79.77 172.05 L79.99 171.23 L80.21 170.41 L80.44 169.59 L80.66 168.77 L80.88 167.96 L81.11 167.14 L81.33 166.32 L81.55 165.50 L81.78 164.69 L82.00 163.88 L82.23 163.06 L82.45 162.25 L82.67 161.44 L82.90 160.64 L83.12 159.84 L83.34 159.04 L83.57 158.25 L83.79 157.48 L84.01 156.72 L84.24 155.99 L84.46 155.32 L84.69 154.74 L84.91 154.36 L85.13 154.30 L85.36 154.55 L85.58 155.02 L85.80 155.61 L86.03 156.27 L86.25 156.96 L86.47 157.68 L86.70 158.41 L86.92 159.15 L87.14 159.89 L87.37 160.64 L87.59 161.40 L87.82 162.15 L88.04 162.91 L88.26 163.67 L88.49 164.43 L88.71 165.19 L88.93 165.96 L89.16 166.72 L89.38 167.49 L89.60 168.25 L89.83 169.02 L90.05 169.79 L90.28 170.55 L90.50 171.32 L90.72 172.09 L90.95 172.42 L91.17 171.87 L91.39 171.32 L91.62 170.77 L91.84 170.23 L92.06 169.68 L92.29 169.13 L92.51 168.58 L92.73 168.04 L92.96 167.49 L93.18 166.95 L93.41 166.40 L93.63 165.86 L93.85 165.32 L94.08 164.78 L94.30 164.24 L94.52 163.70 L94.75 163.17 L94.97 162.64 L95.19 162.11 L95.42 161.60 L95.64 161.10 L95.87 160.62 L96.09 160.18 L96.31 159.81 L96.54 159.56 L96.76 159.53 L96.98 159.72 L97.21 160.07 L97.43 160.51 L97.65 160.99 L97.88 161.50 L98.10 162.03 L98.32 162.56 L98.55 163.11 L98.77 163.65 L99.00 164.20 L99.22 164.76 L99.44 165.31 L99.67 165.87 L99.89 166.43 L100.11 166.99 L100.34 167.54 L100.56 168.10 L100.78 168.67 L101.01 169.23 L101.23 169.79 L101.46 170.35 L101.68 170.91 L101.90 171.47 L102.13 172.04 L102.35 172.60 L102.57 172.22 L102.80 171.83 L103.02 171.45 L103.24 171.07 L103.47 170.69 L103.69 170.31 L103.91 169.92 L104.14 169.54 L104.36 169.16 L104.59 168.78 L104.81 168.40 L105.03 168.02 L105.26 167.64 L105.48 167.27 L105.70 166.89 L105.93 166.52 L106.15 166.14 L106.37 165.78 L106.60 165.41 L106.82 165.05 L107.05 164.71 L107.27 164.38 L107.49 164.08 L107.72 163.84 L107.94 163.71 L108.16 163.74 L108.39 163.91 L108.61 164.18 L108.83 164.50 L109.06 164.84 L109.28 165.20 L109.50 165.56 L109.73 165.94 L109.95 166.31 L110.18 166.69 L110.40 167.07 L110.62 167.45 L110.85 167.83 L111.07 168.22 L111.29 168.60 L111.52 168.99 L111.74 169.37 L111.96 169.76 L112.19 170.15 L112.41 170.53 L112.64 170.92 L112.86 171.31 L113.08 171.70 L113.31 172.08 L113.53 172.47 L113.75 172.42 L113.98 172.14 L114.20 171.87 L114.42 171.60 L114.65 171.32 L114.87 171.05 L115.09 170.78 L115.32 170.50 L115.54 170.23 L115.77 169.96 L115.99 169.69 L116.21 169.42 L116.44 169.15 L116.66 168.88 L116.88 168.61 L117.11 168.34 L117.33 168.07 L117.55 167.81 L117.78 167.55 L118.00 167.29 L118.23 167.04 L118.45 166.80 L118.67 166.59 L118.90 166.42 L119.12 166.32 L119.34 166.35 L119.57 166.48 L119.79 166.67 L120.01 166.91 L120.24 167.16 L120.46 167.42 L120.68 167.68 L120.91 167.95 L121.13 168.22 L121.36 168.50 L121.58 168.77 L121.80 169.05 L122.03 169.33 L122.25 169.61 L122.47 169.89 L122.70 170.17 L122.92 170.45 L123.14 170.73 L123.37 171.01 L123.59 171.29 L123.82 171.57 L124.04 171.85 L124.26 172.13 L124.49 172.41 L124.71 172.54 L124.93 172.35 L125.16 172.16 L125.38 171.98 L125.60 171.79 L125.83 171.60 L126.05 171.41 L126.27 171.23 L126.50 171.04 L126.72 170.85 L126.95 170.67 L127.17 170.48 L127.39 170.30 L127.62 170.11 L127.84 169.93 L128.06 169.74 L128.29 169.56 L128.51 169.38 L128.73 169.20 L128.96 169.03 L129.18 168.86 L129.41 168.70 L129.63 168.56 L129.85 168.45 L130.08 168.41 L130.30 168.45 L130.52 168.55 L130.75 168.69 L130.97 168.84 L131.19 169.00 L131.42 169.17 L131.64 169.35 L131.86 169.52 L132.09 169.70 L132.31 169.88 L132.54 170.06 L132.76 170.24 L132.98 170.42 L133.21 170.60 L133.43 170.78 L133.65 170.96 L133.88 171.14 L134.10 171.32 L134.32 171.51 L134.55 171.69 L134.77 171.87 L135.00 172.05 L135.22 172.24 L135.44 172.42 L135.67 172.60 L135.89 172.47 L136.11 172.35 L136.34 172.22 L136.56 172.10 L136.78 171.97 L137.01 171.85 L137.23 171.72 L137.45 171.60 L137.68 171.47 L137.90 171.35 L138.13 171.22 L138.35 171.10 L138.57 170.98 L138.80 170.85 L139.02 170.73 L139.24 170.61 L139.47 170.48 L139.69 170.36 L139.91 170.24 L140.14 170.13 L140.36 170.02 L140.59 169.91 L140.81 169.82 L141.03 169.75 L141.26 169.72 L141.48 169.75 L141.70 169.82 L141.93 169.91 L142.15 170.02 L142.37 170.14 L142.60 170.25 L142.82 170.37 L143.04 170.50 L143.27 170.62 L143.49 170.75 L143.72 170.87 L143.94 171.00 L144.16 171.12 L144.39 171.25 L144.61 171.37 L144.83 171.50 L145.06 171.63 L145.28 171.75 L145.50 171.88 L145.73 172.01 L145.95 172.13 L146.18 172.26 L146.40 172.39 L146.62 172.52 L146.85 172.57 L147.07 172.49 L147.29 172.41 L147.52 172.32 L147.74 172.24 L147.96 172.16 L148.19 172.07 L148.41 171.99 L148.63 171.91 L148.86 171.82 L149.08 171.74 L149.31 171.66 L149.53 171.58 L149.75 171.50 L149.98 171.41 L150.20 171.33 L150.42 171.25 L150.65 171.17 L150.87 171.09 L151.09 171.01 L151.32 170.94 L151.54 170.86 L151.77 170.80 L151.99 170.75 L152.21 170.72 L152.44 170.72 L152.66 170.76 L152.88 170.82 L153.11 170.89 L153.33 170.97 L153.55 171.04 L153.78 171.12 L154.00 171.21 L154.22 171.29 L154.45 171.37 L154.67 171.45 L154.90 171.54 L155.12 171.62 L155.34 171.70 L155.57 171.79 L155.79 171.87 L156.01 171.95 L156.24 172.04 L156.46 172.12 L156.68 172.21 L156.91 172.29 L157.13 172.38 L157.36 172.46 L157.58 172.54 L157.80 172.58 L158.03 172.52 L158.25 172.46 L158.47 172.40 L158.70 172.35 L158.92 172.29 L159.14 172.23 L159.37 172.17 L159.59 172.11 L159.81 172.05 L160.04 172.00 L160.26 171.94 L160.49 171.88 L160.71 171.82 L160.93 171.76 L161.16 171.71 L161.38 171.65 L161.60 171.59 L161.83 171.54 L162.05 171.48 L162.27 171.43 L162.50 171.38 L162.72 171.34 L162.95 171.30 L163.17 171.29 L163.39 171.30 L163.62 171.34 L163.84 171.38 L164.06 171.43 L164.29 171.48 L164.51 171.53 L164.73 171.59 L164.96 171.64 L165.18 171.70 L165.40 171.76 L165.63 171.81 L165.85 171.87 L166.08 171.93 L166.30 171.99 L166.52 172.04 L166.75 172.10 L166.97 172.16 L167.19 172.22 L167.42 172.27 L167.64 172.33 L167.86 172.39 L168.09 172.45 L168.31 172.50 L168.54 172.56 L168.76 172.59 L168.98 172.55 L169.21 172.51 L169.43 172.48 L169.65 172.44 L169.88 172.40 L170.10 172.37 L170.32 172.33 L170.55 172.29 L170.77 172.26 L170.99 172.22 L171.22 172.18 L171.44 172.15 L171.67 172.11 L171.89 172.07 L172.11 172.04 L172.34 172.00 L172.56 171.96 L172.78 171.93 L173.01 171.89 L173.23 171.86 L173.45 171.83 L173.68 171.80 L173.90 171.78 L174.13 171.76 L174.35 171.77 L174.57 171.78 L174.80 171.81 L175.02 171.84 L175.24 171.87 L175.47 171.90 L175.69 171.94 L175.91 171.97 L176.14 172.01 L176.36 172.04 L176.58 172.08 L176.81 172.12 L177.03 172.15 L177.26 172.19 L177.48 172.22 L177.70 172.26 L177.93 172.30 L178.15 172.33 L178.37 172.37 L178.60 172.41 L178.82 172.44 L179.04 172.48 L179.27 172.51 L179.49 172.55 L179.72 172.59 L179.94 172.58 L180.16 172.56 L180.39 172.53 L180.61 172.51 L180.83 172.48 L181.06 172.46 L181.28 172.43 L181.50 172.41 L181.73 172.38 L181.95 172.36 L182.17 172.33 L182.40 172.31 L182.62 172.28 L182.85 172.26 L183.07 172.23 L183.29 172.21 L183.52 172.18 L183.74 172.16 L183.96 172.14 L184.19 172.11 L184.41 172.09 L184.63 172.07 L184.86 172.05 L185.08 172.03 L185.31 172.02 L185.53 172.03 L185.75 172.04 L185.98 172.06 L186.20 172.08 L186.42 172.10 L186.65 172.12 L186.87 172.14 L187.09 172.17 L187.32 172.19 L187.54 172.22 L187.76 172.24 L187.99 172.27 L188.21 172.29 L188.44 172.32 L188.66 172.34 L188.88 172.37 L189.11 172.39 L189.33 172.42 L189.55 172.44 L189.78 172.47 L190.00 172.49 L190.22 172.52 L190.45 172.54 L190.67 172.57 L190.90 172.59 L191.12 172.59 L191.34 172.57 L191.57 172.55 L191.79 172.53 L192.01 172.51 L192.24 172.50 L192.46 172.48 L192.68 172.46 L192.91 172.44 L193.13 172.42 L193.35 172.41 L193.58 172.39 L193.80 172.37 L194.03 172.35 L194.25 172.33 L194.47 172.32 L194.70 172.30 L194.92 172.28 L195.14 172.26 L195.37 172.25 L195.59 172.23 L195.81 172.21 L196.04 172.20 L196.26 172.19 L196.49 172.18 L196.71 172.18 L196.93 172.19 L197.16 172.20 L197.38 172.22 L197.60 172.23 L197.83 172.25 L198.05 172.27 L198.27 172.29 L198.50 172.30 L198.72 172.32 L198.94 172.34 L199.17 172.36 L199.39 172.38 L199.62 172.39 L199.84 172.41 L200.06 172.43 L200.29 172.45 L200.51 172.47 L200.73 172.48 L200.96 172.50 L201.18 172.52 L201.40 172.54 L201.63 172.56 L201.85 172.58 L202.08 172.59 L202.30 172.59 L202.52 172.58 L202.75 172.56 L202.97 172.55 L203.19 172.54 L203.42 172.52 L203.64 172.51 L203.86 172.50 L204.09 172.48 L204.31 172.47 L204.53 172.45 L204.76 172.44 L204.98 172.43 L205.21 172.41 L205.43 172.40 L205.65 172.39 L205.88 172.37 L206.10 172.36 L206.32 172.35 L206.55 172.33 L206.77 172.32 L206.99 172.31 L207.22 172.30 L207.44 172.29 L207.67 172.29 L207.89 172.29 L208.11 172.29 L208.34 172.30 L208.56 172.31 L208.78 172.33 L209.01 172.34 L209.23 172.35 L209.45 172.36 L209.68 172.38 L209.90 172.39 L210.12 172.40 L210.35 172.42 L210.57 172.43 L210.80 172.45 L211.02 172.46 L211.24 172.47 L211.47 172.49 L211.69 172.50 L211.91 172.51 L212.14 172.53 L212.36 172.54 L212.58 172.55 L212.81 172.57 L213.03 172.58 L213.26 172.60 L213.48 172.59 L213.70 172.58 L213.93 172.58 L214.15 172.57 L214.37 172.56 L214.60 172.55 L214.82 172.54 L215.04 172.53 L215.27 172.52 L215.49 172.51 L215.71 172.50 L215.94 172.49 L216.16 172.48 L216.39 172.48 L216.61 172.47 L216.83 172.46 L217.06 172.45 L217.28 172.44 L217.50 172.43 L217.73 172.42 L217.95 172.41 L218.17 172.41 L218.40 172.40 L218.62 172.39 L218.85 172.39 L219.07 172.39 L219.29 172.40 L219.52 172.40 L219.74 172.41 L219.96 172.42 L220.19 172.43 L220.41 172.43 L220.63 172.44 L220.86 172.45 L221.08 172.46 L221.30 172.47 L221.53 172.48 L221.75 172.49 L221.98 172.50 L222.20 172.51 L222.42 172.52 L222.65 172.52 L222.87 172.53 L223.09 172.54 L223.32 172.55 L223.54 172.56 L223.76 172.57 L223.99 172.58 L224.21 172.59 L224.44 172.60 L224.66 172.60 L224.88 172.59 L225.11 172.58 L225.33 172.57 L225.55 172.57 L225.78 172.56 L226.00 172.55 L226.22 172.55 L226.45 172.54 L226.67 172.53 L226.89 172.53 L227.12 172.52 L227.34 172.51 L227.57 172.51 L227.79 172.50 L228.01 172.49 L228.24 172.49 L228.46 172.48 L228.68 172.47 L228.91 172.47 L229.13 172.46 L229.35 172.46 L229.58 172.45 L229.80 172.45 L230.03 172.44 L230.25 172.44 L230.47 172.45 L230.70 172.45 L230.92 172.46 L231.14 172.46 L231.37 172.47 L231.59 172.48 L231.81 172.48 L232.04 172.49 L232.26 172.50 L232.48 172.50 L232.71 172.51 L232.93 172.52 L233.16 172.52 L233.38 172.53 L233.60 172.54 L233.83 172.54 L234.05 172.55 L234.27 172.56 L234.50 172.56 L234.72 172.57 L234.94 172.58 L235.17 172.58 L235.39 172.59 L235.62 172.60 L235.84 172.60 L236.06 172.59 L236.29 172.59 L236.51 172.58 L236.73 172.58 L236.96 172.57 L237.18 172.57 L237.40 172.57 L237.63 172.56 L237.85 172.56 L238.07 172.55 L238.30 172.55 L238.52 172.54 L238.75 172.54 L238.97 172.53 L239.19 172.53 L239.42 172.52 L239.64 172.52 L239.86 172.52 L240.09 172.51 L240.31 172.51 L240.53 172.50 L240.76 172.50 L240.98 172.50 L241.21 172.50 L241.43 172.50 L241.65 172.50 L241.88 172.50 L242.10 172.50 L242.32 172.51 L242.55 172.51 L242.77 172.52 L242.99 172.52 L243.22 172.53 L243.44 172.53 L243.66 172.53 L243.89 172.54 L244.11 172.54 L244.34 172.55 L244.56 172.55 L244.78 172.56 L245.01 172.56 L245.23 172.57 L245.45 172.57 L245.68 172.58 L245.90 172.58 L246.12 172.58 L246.35 172.59 L246.57 172.59 L246.80 172.60 L247.02 172.60 L247.24 172.59 L247.47 172.59 L247.69 172.59 L247.91 172.58 L248.14 172.58 L248.36 172.58 L248.58 172.57 L248.81 172.57 L249.03 172.57 L249.25 172.56 L249.48 172.56 L249.70 172.56 L249.93 172.55 L250.15 172.55 L250.37 172.55 L250.60 172.54 L250.82 172.54 L251.04 172.54 L251.27 172.53 L251.49 172.53 L251.71 172.53 L251.94 172.52 L252.16 172.52 L252.39 172.52 L252.61 172.52 L252.83 172.52 L253.06 172.53 L253.28 172.53 L253.50 172.53 L253.73 172.53 L253.95 172.54 L254.17 172.54 L254.40 172.54 L254.62 172.55 L254.84 172.55 L255.07 172.55 L255.29 172.56 L255.52 172.56 L255.74 172.56 L255.96 172.57 L256.19 172.57 L256.41 172.57 L256.63 172.58 L256.86 172.58 L257.08 172.59 L257.30 172.59 L257.53 172.59 L257.75 172.60 L257.98 172.60 L258.20 172.60 L258.42 172.60 L258.65 172.59 L258.87 172.59 L259.09 172.59 L259.32 172.59 L259.54 172.58 L259.76 172.58 L259.99 172.58 L260.21 172.58 L260.43 172.58 L260.66 172.57 L260.88 172.57 L261.11 172.57 L261.33 172.57 L261.55 172.56 L261.78 172.56 L262.00 172.56" stroke="#1aff1a"/>
<path d="M38.40 172.60 L38.40 31.09 L38.62 35.08 L38.85 39.15 L39.07 43.32 L39.29 47.56 L39.52 51.89 L39.74 56.30 L39.97 60.79 L40.19 65.36 L40.41 70.00 L40.64 74.72 L40.86 79.51 L41.08 84.38 L41.31 89.31 L41.53 94.30 L41.75 99.36 L41.98 104.47 L42.20 109.64 L42.42 114.86 L42.65 120.12 L42.87 125.43 L43.10 130.78 L43.32 136.16 L43.54 141.57 L43.77 147.01 L43.99 152.47 L44.21 157.95 L44.44 163.44 L44.66 168.93 L44.88 171.50 L45.11 168.19 L45.33 164.88 L45.56 161.57 L45.78 158.26 L46.00 154.96 L46.23 151.65 L46.45 148.35 L46.67 145.05 L46.90 141.75 L47.12 138.46 L47.34 135.17 L47.57 131.88 L47.79 128.60 L48.01 125.33 L48.24 122.06 L48.46 118.80 L48.69 115.55 L48.91 112.32 L49.13 109.10 L49.36 105.91 L49.58 102.75 L49.80 99.64 L50.03 96.60 L50.25 93.67 L50.47 90.92 L50.70 88.47 L50.92 86.56 L51.15 85.55 L51.37 85.83 L51.59 87.48 L51.82 90.01 L52.04 93.00 L52.26 96.24 L52.49 99.63 L52.71 103.10 L52.93 106.64 L53.16 110.21 L53.38 113.81 L53.60 117.43 L53.83 121.07 L54.05 124.72 L54.28 128.37 L54.50 132.04 L54.72 135.71 L54.95 139.39 L55.17 143.07 L55.39 146.75 L55.62 150.44 L55.84 154.13 L56.06 157.82 L56.29 161.51 L56.51 165.21 L56.74 168.90 L56.96 172.60 L57.18 170.10 L57.41 167.60 L57.63 165.10 L57.85 162.61 L58.08 160.11 L58.30 157.62 L58.52 155.12 L58.75 152.63 L58.97 150.15 L59.19 147.66 L59.42 145.18 L59.64 142.70 L59.87 140.23 L60.09 137.76 L60.31 135.30 L60.54 132.86 L60.76 130.42 L60.98 128.01 L61.21 125.62 L61.43 123.27 L61.65 120.98 L61.88 118.78 L62.10 116.76 L62.33 115.06 L62.55 113.94 L62.77 113.76 L63.00 114.60 L63.22 116.15 L63.44 118.09 L63.67 120.23 L63.89 122.50 L64.11 124.83 L64.34 127.21 L64.56 129.61 L64.78 132.04 L65.01 134.49 L65.23 136.94 L65.46 139.41 L65.68 141.88 L65.90 144.35 L66.13 146.83 L66.35 149.32 L66.57 151.80 L66.80 154.29 L67.02 156.79 L67.24 159.28 L67.47 161.77 L67.69 164.27 L67.92 166.77 L68.14 169.27 L68.36 171.77 L68.59 171.44 L68.81 169.71 L69.03 167.97 L69.26 166.24 L69.48 164.50 L69.70 162.77 L69.93 161.04 L70.15 159.31 L70.37 157.58 L70.60 155.86 L70.82 154.13 L71.05 152.41 L71.27 150.69 L71.49 148.98 L71.72 147.27 L71.94 145.57 L72.16 143.87 L72.39 142.19 L72.61 140.52 L72.83 138.88 L73.06 137.27 L73.28 135.73 L73.51 134.27 L73.73 133.00 L73.95 132.06 L74.18 131.70 L74.40 132.10 L74.62 133.13 L74.85 134.50 L75.07 136.06 L75.29 137.71 L75.52 139.42 L75.74 141.16 L75.96 142.93 L76.19 144.71 L76.41 146.50 L76.64 148.30 L76.86 150.10 L77.08 151.92 L77.31 153.73 L77.53 155.55 L77.75 157.37 L77.98 159.19 L78.20 161.02 L78.42 162.84 L78.65 164.67 L78.87 166.50 L79.10 168.33 L79.32 170.16 L79.54 171.99 L79.77 171.75 L79.99 170.46 L80.21 169.18 L80.44 167.90 L80.66 166.62 L80.88 165.34 L81.11 164.07 L81.33 162.79 L81.55 161.51 L81.78 160.24 L82.00 158.97 L82.23 157.70 L82.45 156.43 L82.67 155.17 L82.90 153.91 L83.12 152.66 L83.34 151.41 L83.57 150.18 L83.79 148.97 L84.01 147.79 L84.24 146.65 L84.46 145.59 L84.69 144.69 L84.91 144.10 L85.13 144.00 L85.36 144.40 L85.58 145.13 L85.80 146.06 L86.03 147.08 L86.25 148.17 L86.47 149.28 L86.70 150.42 L86.92 151.58 L87.14 152.74 L87.37 153.91 L87.59 155.09 L87.82 156.27 L88.04 157.46 L88.26 158.65 L88.49 159.84 L88.71 161.03 L88.93 162.22 L89.16 163.42 L89.38 164.61 L89.60 165.81 L89.83 167.01 L90.05 168.20 L90.28 169.40 L90.50 170.60 L90.72 171.80 L90.95 172.31 L91.17 171.46 L91.39 170.60 L91.62 169.74 L91.84 168.89 L92.06 168.03 L92.29 167.18 L92.51 166.32 L92.73 165.47 L92.96 164.62 L93.18 163.77 L93.41 162.92 L93.63 162.07 L93.85 161.22 L94.08 160.38 L94.30 159.53 L94.52 158.69 L94.75 157.86 L94.97 157.03 L95.19 156.22 L95.42 155.41 L95.64 154.63 L95.87 153.88 L96.09 153.19 L96.31 152.61 L96.54 152.23 L96.76 152.17 L96.98 152.47 L97.21 153.02 L97.43 153.70 L97.65 154.46 L97.88 155.26 L98.10 156.08 L98.32 156.92 L98.55 157.77 L98.77 158.62 L99.00 159.48 L99.22 160.35 L99.44 161.21 L99.67 162.08 L99.89 162.95 L100.11 163.83 L100.34 164.70 L100.56 165.58 L100.78 166.45 L101.01 167.33 L101.23 168.21 L101.46 169.08 L101.68 169.96 L101.90 170.84 L102.13 171.72 L102.35 172.60 L102.57 172.00 L102.80 171.40 L103.02 170.81 L103.24 170.21 L103.47 169.61 L103.69 169.02 L103.91 168.42 L104.14 167.82 L104.36 167.23 L104.59 166.63 L104.81 166.04 L105.03 165.45 L105.26 164.86 L105.48 164.27 L105.70 163.68 L105.93 163.09 L106.15 162.51 L106.37 161.94 L106.60 161.37 L106.82 160.81 L107.05 160.27 L107.27 159.75 L107.49 159.28 L107.72 158.91 L107.94 158.71 L108.16 158.75 L108.39 159.03 L108.61 159.45 L108.83 159.94 L109.06 160.48 L109.28 161.04 L109.50 161.61 L109.73 162.19 L109.95 162.77 L110.18 163.36 L110.40 163.96 L110.62 164.56 L110.85 165.15 L111.07 165.75 L111.29 166.35 L111.52 166.96 L111.74 167.56 L111.96 168.16 L112.19 168.77 L112.41 169.37 L112.64 169.98 L112.86 170.58 L113.08 171.19 L113.31 171.79 L113.53 172.40 L113.75 172.31 L113.98 171.89 L114.20 171.46 L114.42 171.03 L114.65 170.61 L114.87 170.18 L115.09 169.75 L115.32 169.33 L115.54 168.90 L115.77 168.47 L115.99 168.05 L116.21 167.63 L116.44 167.20 L116.66 166.78 L116.88 166.36 L117.11 165.94 L117.33 165.53 L117.55 165.11 L117.78 164.70 L118.00 164.30 L118.23 163.91 L118.45 163.55 L118.67 163.21 L118.90 162.94 L119.12 162.79 L119.34 162.83 L119.57 163.03 L119.79 163.34 L120.01 163.70 L120.24 164.09 L120.46 164.50 L120.68 164.91 L120.91 165.34 L121.13 165.76 L121.36 166.19 L121.58 166.62 L121.80 167.06 L122.03 167.49 L122.25 167.93 L122.47 168.36 L122.70 168.80 L122.92 169.24 L123.14 169.67 L123.37 170.11 L123.59 170.55 L123.82 170.99 L124.04 171.43 L124.26 171.87 L124.49 172.31 L124.71 172.50 L124.93 172.21 L125.16 171.92 L125.38 171.62 L125.60 171.33 L125.83 171.04 L126.05 170.75 L126.27 170.45 L126.50 170.16 L126.72 169.87 L126.95 169.58 L127.17 169.29 L127.39 169.00 L127.62 168.71 L127.84 168.42 L128.06 168.14 L128.29 167.85 L128.51 167.57 L128.73 167.29 L128.96 167.02 L129.18 166.75 L129.41 166.50 L129.63 166.28 L129.85 166.12 L130.08 166.06 L130.30 166.12 L130.52 166.27 L130.75 166.49 L130.97 166.73 L131.19 166.98 L131.42 167.25 L131.64 167.52 L131.86 167.79 L132.09 168.07 L132.31 168.35 L132.54 168.63 L132.76 168.91 L132.98 169.19 L133.21 169.47 L133.43 169.76 L133.65 170.04 L133.88 170.32 L134.10 170.61 L134.32 170.89 L134.55 171.18 L134.77 171.46 L135.00 171.74 L135.22 172.03 L135.44 172.31 L135.67 172.60 L135.89 172.40 L136.11 172.21 L136.34 172.01 L136.56 171.82 L136.78 171.62 L137.01 171.42 L137.23 171.23 L137.45 171.03 L137.68 170.84 L137.90 170.64 L138.13 170.45 L138.35 170.26 L138.57 170.06 L138.80 169.87 L139.02 169.68 L139.24 169.48 L139.47 169.29 L139.69 169.11 L139.91 168.92 L140.14 168.74 L140.36 168.56 L140.59 168.40 L140.81 168.25 L141.03 168.14 L141.26 168.10 L141.48 168.14 L141.70 168.25 L141.93 168.40 L142.15 168.57 L142.37 168.75 L142.60 168.93 L142.82 169.12 L143.04 169.31 L143.27 169.51 L143.49 169.70 L143.72 169.90 L143.94 170.09 L144.16 170.29 L144.39 170.49 L144.61 170.68 L144.83 170.88 L145.06 171.08 L145.28 171.28 L145.50 171.48 L145.73 171.67 L145.95 171.87 L146.18 172.07 L146.40 172.27 L146.62 172.47 L146.85 172.56 L147.07 172.43 L147.29 172.30 L147.52 172.17 L147.74 172.04 L147.96 171.91 L148.19 171.78 L148.41 171.65 L148.63 171.52 L148.86 171.39 L149.08 171.26 L149.31 171.13 L149.53 171.00 L149.75 170.87 L149.98 170.75 L150.20 170.62 L150.42 170.49 L150.65 170.37 L150.87 170.24 L151.09 170.12 L151.32 170.00 L151.54 169.89 L151.77 169.79 L151.99 169.70 L152.21 169.66 L152.44 169.67 L152.66 169.73 L152.88 169.82 L153.11 169.93 L153.33 170.05 L153.55 170.17 L153.78 170.29 L154.00 170.42 L154.22 170.55 L154.45 170.68 L154.67 170.81 L154.90 170.94 L155.12 171.07 L155.34 171.20 L155.57 171.33 L155.79 171.46 L156.01 171.59 L156.24 171.72 L156.46 171.85 L156.68 171.99 L156.91 172.12 L157.13 172.25 L157.36 172.38 L157.58 172.51 L157.80 172.57 L158.03 172.48 L158.25 172.39 L158.47 172.29 L158.70 172.20 L158.92 172.11 L159.14 172.02 L159.37 171.93 L159.59 171.84 L159.81 171.75 L160.04 171.66 L160.26 171.57 L160.49 171.48 L160.71 171.38 L160.93 171.29 L161.16 171.21 L161.38 171.12 L161.60 171.03 L161.83 170.94 L162.05 170.86 L162.27 170.77 L162.50 170.70 L162.72 170.63 L162.95 170.57 L163.17 170.56 L163.39 170.57 L163.62 170.62 L163.84 170.69 L164.06 170.77 L164.29 170.85 L164.51 170.93 L164.73 171.02 L164.96 171.11 L165.18 171.19 L165.40 171.28 L165.63 171.37 L165.85 171.46 L166.08 171.55 L166.30 171.64 L166.52 171.73 L166.75 171.82 L166.97 171.91 L167.19 172.00 L167.42 172.09 L167.64 172.18 L167.86 172.27 L168.09 172.36 L168.31 172.45 L168.54 172.54 L168.76 172.58 L168.98 172.52 L169.21 172.47 L169.43 172.41 L169.65 172.35 L169.88 172.29 L170.10 172.23 L170.32 172.18 L170.55 172.12 L170.77 172.06 L170.99 172.00 L171.22 171.95 L171.44 171.89 L171.67 171.83 L171.89 171.78 L172.11 171.72 L172.34 171.66 L172.56 171.61 L172.78 171.55 L173.01 171.50 L173.23 171.44 L173.45 171.39 L173.68 171.35 L173.90 171.31 L174.13 171.29 L174.35 171.30 L174.57 171.32 L174.80 171.36 L175.02 171.41 L175.24 171.46 L175.47 171.51 L175.69 171.57 L175.91 171.62 L176.14 171.68 L176.36 171.73 L176.58 171.79 L176.81 171.84 L177.03 171.90 L177.26 171.96 L177.48 172.01 L177.70 172.07 L177.93 172.13 L178.15 172.18 L178.37 172.24 L178.60 172.30 L178.82 172.35 L179.04 172.41 L179.27 172.47 L179.49 172.52 L179.72 172.58 L179.94 172.57 L180.16 172.53 L180.39 172.50 L180.61 172.46 L180.83 172.42 L181.06 172.38 L181.28 172.34 L181.50 172.30 L181.73 172.26 L181.95 172.22 L182.17 172.18 L182.40 172.14 L182.62 172.11 L182.85 172.07 L183.07 172.03 L183.29 171.99 L183.52 171.95 L183.74 171.91 L183.96 171.88 L184.19 171.84 L184.41 171.80 L184.63 171.77 L184.86 171.74 L185.08 171.71 L185.31 171.70 L185.53 171.70 L185.75 171.72 L185.98 171.75 L186.20 171.78 L186.42 171.82 L186.65 171.85 L186.87 171.89 L187.09 171.93 L187.32 171.96 L187.54 172.00 L187.76 172.04 L187.99 172.08 L188.21 172.12 L188.44 172.16 L188.66 172.20 L188.88 172.23 L189.11 172.27 L189.33 172.31 L189.55 172.35 L189.78 172.39 L190.00 172.43 L190.22 172.47 L190.45 172.51 L190.67 172.55 L190.90 172.59 L191.12 172.58 L191.34 172.55 L191.57 172.52 L191.79 172.50 L192.01 172.47 L192.24 172.44 L192.46 172.41 L192.68 172.38 L192.91 172.35 L193.13 172.32 L193.35 172.30 L193.58 172.27 L193.80 172.24 L194.03 172.21 L194.25 172.18 L194.47 172.16 L194.70 172.13 L194.92 172.10 L195.14 172.07 L195.37 172.05 L195.59 172.02 L195.81 172.00 L196.04 171.97 L196.26 171.96 L196.49 171.95 L196.71 171.95 L196.93 171.96 L197.16 171.98 L197.38 172.00 L197.60 172.03 L197.83 172.06 L198.05 172.08 L198.27 172.11 L198.50 172.14 L198.72 172.17 L198.94 172.19 L199.17 172.22 L199.39 172.25 L199.62 172.28 L199.84 172.31 L200.06 172.33 L200.29 172.36 L200.51 172.39 L200.73 172.42 L200.96 172.45 L201.18 172.48 L201.40 172.50 L201.63 172.53 L201.85 172.56 L202.08 172.59 L202.30 172.59 L202.52 172.56 L202.75 172.54 L202.97 172.52 L203.19 172.50 L203.42 172.48 L203.64 172.46 L203.86 172.44 L204.09 172.41 L204.31 172.39 L204.53 172.37 L204.76 172.35 L204.98 172.33 L205.21 172.31 L205.43 172.29 L205.65 172.27 L205.88 172.25 L206.10 172.23 L206.32 172.21 L206.55 172.19 L206.77 172.17 L206.99 172.15 L207.22 172.13 L207.44 172.12 L207.67 172.11 L207.89 172.11 L208.11 172.12 L208.34 172.14 L208.56 172.15 L208.78 172.17 L209.01 172.19 L209.23 172.21 L209.45 172.23 L209.68 172.25 L209.90 172.27 L210.12 172.30 L210.35 172.32 L210.57 172.34 L210.80 172.36 L211.02 172.38 L211.24 172.40 L211.47 172.42 L211.69 172.44 L211.91 172.46 L212.14 172.49 L212.36 172.51 L212.58 172.53 L212.81 172.55 L213.03 172.57 L213.26 172.59 L213.48 172.59 L213.70 172.58 L213.93 172.56 L214.15 172.55 L214.37 172.53 L214.60 172.52 L214.82 172.51 L215.04 172.49 L215.27 172.48 L215.49 172.46 L215.71 172.45 L215.94 172.43 L216.16 172.42 L216.39 172.41 L216.61 172.39 L216.83 172.38 L217.06 172.36 L217.28 172.35 L217.50 172.34 L217.73 172.32 L217.95 172.31 L218.17 172.30 L218.40 172.29 L218.62 172.28 L218.85 172.27 L219.07 172.27 L219.29 172.28 L219.52 172.29 L219.74 172.30 L219.96 172.31 L220.19 172.33 L220.41 172.34 L220.63 172.35 L220.86 172.37 L221.08 172.38 L221.30 172.40 L221.53 172.41 L221.75 172.42 L221.98 172.44 L222.20 172.45 L222.42 172.47 L222.65 172.48 L222.87 172.50 L223.09 172.51 L223.32 172.52 L223.54 172.54 L223.76 172.55 L223.99 172.57 L224.21 172.58 L224.44 172.60 L224.66 172.59 L224.88 172.58 L225.11 172.57 L225.33 172.56 L225.55 172.55 L225.78 172.54 L226.00 172.53 L226.22 172.52 L226.45 172.51 L226.67 172.50 L226.89 172.49 L227.12 172.48 L227.34 172.47 L227.57 172.45 L227.79 172.44 L228.01 172.43 L228.24 172.42 L228.46 172.41 L228.68 172.40 L228.91 172.39 L229.13 172.38 L229.35 172.37 L229.58 172.37 L229.80 172.36 L230.03 172.35 L230.25 172.36 L230.47 172.36 L230.70 172.37 L230.92 172.38 L231.14 172.39 L231.37 172.40 L231.59 172.41 L231.81 172.42 L232.04 172.43 L232.26 172.44 L232.48 172.45 L232.71 172.46 L232.93 172.47 L233.16 172.48 L233.38 172.49 L233.60 172.50 L233.83 172.51 L234.05 172.52 L234.27 172.53 L234.50 172.54 L234.72 172.55 L234.94 172.56 L235.17 172.58 L235.39 172.59 L235.62 172.60 L235.84 172.60 L236.06 172.59 L236.29 172.58 L236.51 172.57 L236.73 172.57 L236.96 172.56 L237.18 172.55 L237.40 172.55 L237.63 172.54 L237.85 172.53 L238.07 172.52 L238.30 172.52 L238.52 172.51 L238.75 172.50 L238.97 172.50 L239.19 172.49 L239.42 172.48 L239.64 172.48 L239.86 172.47 L240.09 172.46 L240.31 172.46 L240.53 172.45 L240.76 172.44 L240.98 172.44 L241.21 172.44 L241.43 172.44 L241.65 172.44 L241.88 172.45 L242.10 172.45 L242.32 172.46 L242.55 172.46 L242.77 172.47 L242.99 172.48 L243.22 172.48 L243.44 172.49 L243.66 172.50 L243.89 172.51 L244.11 172.51 L244.34 172.52 L244.56 172.53 L244.78 172.53 L245.01 172.54 L245.23 172.55 L245.45 172.55 L245.68 172.56 L245.90 172.57 L246.12 172.58 L246.35 172.58 L246.57 172.59 L246.80 172.60 L247.02 172.60 L247.24 172.59 L247.47 172.59 L247.69 172.58 L247.91 172.58 L248.14 172.57 L248.36 172.56 L248.58 172.56 L248.81 172.55 L249.03 172.55 L249.25 172.54 L249.48 172.54 L249.70 172.53 L249.93 172.53 L250.15 172.52 L250.37 172.52 L250.60 172.51 L250.82 172.51 L251.04 172.50 L251.27 172.50 L251.49 172.49 L251.71 172.49 L251.94 172.48 L252.16 172.48 L252.39 172.48 L252.61 172.48 L252.83 172.48 L253.06 172.48 L253.28 172.49 L253.50 172.49 L253.73 172.50 L253.95 172.50 L254.17 172.51 L254.40 172.51 L254.62 172.52 L254.84 172.52 L255.07 172.53 L255.29 172.53 L255.52 172.54 L255.74 172.54 L255.96 172.55 L256.19 172.56 L256.41 172.56 L256.63 172.57 L256.86 172.57 L257.08 172.58 L257.30 172.58 L257.53 172.59 L257.75 172.59 L257.98 172.60 L258.20 172.60 L258.42 172.59 L258.65 172.59 L258.87 172.59 L259.09 172.58 L259.32 172.58 L259.54 172.58 L259.76 172.57 L259.99 172.57 L260.21 172.57 L260.43 172.56 L260.66 172.56 L260.88 172.56 L261.11 172.55 L261.33 172.55 L261.55 172.54 L261.78 172.54 L262.00 172.54" stroke="#ff1aff"/>
</g>
<rect x="186.2" y="6.1" width="71.6" height="60.1" fill="#fff" stroke="#b8b8b8" stroke-width="0.9"/>
<path d="M189.7 13.3 H210.0" stroke="#000000" stroke-width="1.1"/>
<path d="M189.7 25.2 H210.0" stroke="#ff1a1a" stroke-width="1.1"/>
<path d="M189.7 37.3 H210.0" stroke="#1a1aff" stroke-width="1.1"/>
<path d="M189.7 49.3 H210.0" stroke="#1aff1a" stroke-width="1.1"/>
<path d="M189.7 61.1 H210.0" stroke="#ff1aff" stroke-width="1.1"/>
<g font-family='"Liberation Serif", "Noto Serif CJK SC", serif' font-size="9.8" fill="#111" stroke="#111" stroke-width="0.18">
<text x="212.4" y="16.1">Re=13,900</text>
<text x="212.4" y="28.0">Re=28,400</text>
<text x="212.4" y="40.1">Re=41,000</text>
<text x="212.4" y="52.1">Re=56,000</text>
<text x="212.4" y="63.9">Re=69,700</text>
</g>
<g font-family='"Liberation Serif", "Noto Serif CJK SC", serif' font-size="9.8" fill="#111" stroke="#111" stroke-width="0.15">
<text transform="translate(11.8 87.5) rotate(-90)" text-anchor="middle">Friction work(J/s)</text>
<text x="150.8" y="197.4" text-anchor="middle">Time(s)</text>
</g>
<text x="133.6" y="215.0" text-anchor="middle" font-family='"Liberation Serif", "Noto Serif CJK SC", serif' font-size="14.6" fill="#111">(<tspan font-weight="bold">a</tspan>)</text>
<path d="M318.40 6.50 V171.50 H542.60" fill="none" stroke="#333" stroke-width="1"/>
<path d="M318.40 161.95 h-3.3 M318.40 138.40 h-3.3 M318.40 114.85 h-3.3 M318.40 91.30 h-3.3 M318.40 67.75 h-3.3 M318.40 44.20 h-3.3 M318.40 20.65 h-3.3 M318.40 150.18 h-1.9 M318.40 126.62 h-1.9 M318.40 103.08 h-1.9 M318.40 79.53 h-1.9 M318.40 55.98 h-1.9 M318.40 32.43 h-1.9 M318.40 8.88 h-1.9 M318.40 171.50 v3.5 M363.24 171.50 v3.5 M408.08 171.50 v3.5 M452.92 171.50 v3.5 M497.76 171.50 v3.5 M542.60 171.50 v3.5 M340.82 171.50 v2.1 M385.66 171.50 v2.1 M430.50 171.50 v2.1 M475.34 171.50 v2.1 M520.18 171.50 v2.1" fill="none" stroke="#333" stroke-width="0.9"/>
<g font-family='"Liberation Serif", "Noto Serif CJK SC", serif' font-size="7.4" fill="#505050">
<text transform="translate(313.2 164.9) scale(1.04 1)" text-anchor="end">−5</text>
<text transform="translate(313.2 141.3) scale(1.04 1)" text-anchor="end">0</text>
<text transform="translate(313.2 117.8) scale(1.04 1)" text-anchor="end">5</text>
<text transform="translate(313.2 94.2) scale(1.04 1)" text-anchor="end">10</text>
<text transform="translate(313.2 70.7) scale(1.04 1)" text-anchor="end">15</text>
<text transform="translate(313.2 47.1) scale(1.04 1)" text-anchor="end">20</text>
<text transform="translate(313.2 23.6) scale(1.04 1)" text-anchor="end">25</text>
<text transform="translate(318.6 183.5) scale(1.04 1)" text-anchor="middle">0</text>
<text transform="translate(363.4 183.5) scale(1.04 1)" text-anchor="middle">3</text>
<text transform="translate(408.3 183.5) scale(1.04 1)" text-anchor="middle">6</text>
<text transform="translate(453.1 183.5) scale(1.04 1)" text-anchor="middle">9</text>
<text transform="translate(498.0 183.5) scale(1.04 1)" text-anchor="middle">12</text>
<text transform="translate(542.8 183.5) scale(1.04 1)" text-anchor="middle">15</text>
</g>
<g fill="none" stroke-width="1.15" stroke-linejoin="round" stroke-linecap="butt">
<path d="M318.40 138.64 L318.62 138.64 L318.85 138.64 L319.07 138.65 L319.30 138.68 L319.52 138.71 L319.75 138.74 L319.97 138.77 L320.19 138.80 L320.42 138.83 L320.64 138.86 L320.87 138.89 L321.09 138.92 L321.31 138.95 L321.54 138.97 L321.76 139.00 L321.99 139.03 L322.21 139.06 L322.44 139.09 L322.66 139.12 L322.88 139.15 L323.11 139.18 L323.33 139.21 L323.56 139.24 L323.78 139.26 L324.00 139.29 L324.23 139.32 L324.45 139.01 L324.68 138.02 L324.90 137.03 L325.13 136.05 L325.35 135.80 L325.57 135.56 L325.80 135.32 L326.02 135.08 L326.25 134.85 L326.47 134.61 L326.70 134.38 L326.92 134.15 L327.14 133.93 L327.37 133.71 L327.59 133.50 L327.82 133.29 L328.04 133.09 L328.26 132.91 L328.49 132.74 L328.71 132.58 L328.94 132.46 L329.16 132.36 L329.39 132.30 L329.61 132.28 L329.83 132.29 L330.06 132.35 L330.28 132.43 L330.51 132.55 L330.73 132.69 L330.96 132.85 L331.18 133.03 L331.40 133.22 L331.63 133.43 L331.85 133.65 L332.08 133.87 L332.30 134.11 L332.52 134.35 L332.75 134.59 L332.97 134.84 L333.20 135.09 L333.42 135.35 L333.65 135.61 L333.87 135.87 L334.09 136.13 L334.32 136.40 L334.54 136.67 L334.77 136.94 L334.99 137.20 L335.21 137.48 L335.44 137.75 L335.66 137.88 L335.89 137.73 L336.11 137.58 L336.34 137.43 L336.56 137.29 L336.78 137.14 L337.01 136.99 L337.23 136.85 L337.46 136.71 L337.68 136.57 L337.91 136.43 L338.13 136.29 L338.35 136.16 L338.58 136.03 L338.80 135.91 L339.03 135.79 L339.25 135.68 L339.47 135.58 L339.70 135.49 L339.92 135.41 L340.15 135.35 L340.37 135.31 L340.60 135.29 L340.82 135.30 L341.04 135.32 L341.27 135.36 L341.49 135.42 L341.72 135.49 L341.94 135.57 L342.17 135.67 L342.39 135.77 L342.61 135.88 L342.84 136.00 L343.06 136.12 L343.29 136.24 L343.51 136.37 L343.73 136.50 L343.96 136.63 L344.18 136.76 L344.41 136.90 L344.63 137.04 L344.86 137.17 L345.08 137.31 L345.30 137.45 L345.53 137.59 L345.75 137.74 L345.98 137.88 L346.20 138.02 L346.43 138.07 L346.65 137.92 L346.87 137.77 L347.10 137.62 L347.32 137.47 L347.55 137.32 L347.77 137.17 L347.99 137.03 L348.22 136.88 L348.44 136.74 L348.67 136.60 L348.89 136.46 L349.12 136.32 L349.34 136.19 L349.56 136.06 L349.79 135.94 L350.01 135.82 L350.24 135.70 L350.46 135.60 L350.68 135.51 L350.91 135.43 L351.13 135.37 L351.36 135.32 L351.58 135.30 L351.81 135.29 L352.03 135.31 L352.25 135.34 L352.48 135.39 L352.70 135.45 L352.93 135.53 L353.15 135.61 L353.38 135.71 L353.60 135.81 L353.82 135.91 L354.05 136.02 L354.27 136.14 L354.50 136.26 L354.72 136.38 L354.94 136.50 L355.17 136.62 L355.39 136.75 L355.62 136.88 L355.84 137.01 L356.07 137.13 L356.29 137.27 L356.51 137.40 L356.74 137.53 L356.96 137.66 L357.19 137.80 L357.41 137.93 L357.63 137.83 L357.86 137.74 L358.08 137.64 L358.31 137.55 L358.53 137.46 L358.76 137.36 L358.98 137.27 L359.20 137.18 L359.43 137.09 L359.65 137.00 L359.88 136.91 L360.10 136.82 L360.33 136.73 L360.55 136.65 L360.77 136.57 L361.00 136.49 L361.22 136.41 L361.45 136.34 L361.67 136.27 L361.89 136.21 L362.12 136.16 L362.34 136.11 L362.57 136.08 L362.79 136.06 L363.02 136.05 L363.24 136.05 L363.46 136.07 L363.69 136.10 L363.91 136.15 L364.14 136.21 L364.36 136.28 L364.59 136.36 L364.81 136.44 L365.03 136.53 L365.26 136.62 L365.48 136.72 L365.71 136.82 L365.93 136.92 L366.15 137.02 L366.38 137.13 L366.60 137.24 L366.83 137.35 L367.05 137.45 L367.28 137.57 L367.50 137.68 L367.72 137.79 L367.95 137.90 L368.17 138.01 L368.40 138.13 L368.62 138.11 L368.84 138.03 L369.07 137.95 L369.29 137.87 L369.52 137.80 L369.74 137.72 L369.97 137.64 L370.19 137.56 L370.41 137.49 L370.64 137.41 L370.86 137.34 L371.09 137.26 L371.31 137.19 L371.54 137.12 L371.76 137.05 L371.98 136.98 L372.21 136.92 L372.43 136.85 L372.66 136.79 L372.88 136.73 L373.10 136.68 L373.33 136.64 L373.55 136.59 L373.78 136.56 L374.00 136.54 L374.23 136.52 L374.45 136.52 L374.67 136.52 L374.90 136.54 L375.12 136.58 L375.35 136.63 L375.57 136.68 L375.80 136.75 L376.02 136.82 L376.24 136.89 L376.47 136.97 L376.69 137.06 L376.92 137.14 L377.14 137.23 L377.36 137.32 L377.59 137.42 L377.81 137.51 L378.04 137.61 L378.26 137.70 L378.49 137.80 L378.71 137.90 L378.93 138.00 L379.16 138.10 L379.38 138.20 L379.61 138.30 L379.83 138.40 L380.06 138.32 L380.28 138.24 L380.50 138.16 L380.73 138.08 L380.95 138.00 L381.18 137.92 L381.40 137.84 L381.62 137.76 L381.85 137.68 L382.07 137.60 L382.30 137.53 L382.52 137.45 L382.75 137.38 L382.97 137.31 L383.19 137.24 L383.42 137.17 L383.64 137.10 L383.87 137.04 L384.09 136.98 L384.31 136.93 L384.54 136.88 L384.76 136.83 L384.99 136.80 L385.21 136.77 L385.44 136.76 L385.66 136.75 L385.88 136.76 L386.11 136.77 L386.33 136.80 L386.56 136.84 L386.78 136.88 L387.01 136.93 L387.23 136.99 L387.45 137.05 L387.68 137.12 L387.90 137.19 L388.13 137.26 L388.35 137.33 L388.57 137.40 L388.80 137.48 L389.02 137.56 L389.25 137.64 L389.47 137.72 L389.70 137.80 L389.92 137.88 L390.14 137.96 L390.37 138.04 L390.59 138.12 L390.82 138.21 L391.04 138.29 L391.26 138.37 L391.49 138.37 L391.71 138.32 L391.94 138.28 L392.16 138.23 L392.39 138.18 L392.61 138.14 L392.83 138.09 L393.06 138.05 L393.28 138.00 L393.51 137.96 L393.73 137.92 L393.96 137.88 L394.18 137.83 L394.40 137.79 L394.63 137.75 L394.85 137.72 L395.08 137.68 L395.30 137.65 L395.52 137.62 L395.75 137.59 L395.97 137.57 L396.20 137.55 L396.42 137.54 L396.65 137.53 L396.87 137.53 L397.09 137.54 L397.32 137.56 L397.54 137.58 L397.77 137.60 L397.99 137.63 L398.22 137.67 L398.44 137.71 L398.66 137.75 L398.89 137.79 L399.11 137.83 L399.34 137.88 L399.56 137.93 L399.78 137.97 L400.01 138.02 L400.23 138.07 L400.46 138.12 L400.68 138.17 L400.91 138.23 L401.13 138.28 L401.35 138.33 L401.58 138.38 L401.80 138.43 L402.03 138.49 L402.25 138.54 L402.48 138.59 L402.70 138.58 L402.92 138.52 L403.15 138.47 L403.37 138.41 L403.60 138.36 L403.82 138.30 L404.04 138.25 L404.27 138.20 L404.49 138.14 L404.72 138.09 L404.94 138.04 L405.17 137.99 L405.39 137.94 L405.61 137.89 L405.84 137.84 L406.06 137.80 L406.29 137.75 L406.51 137.71 L406.73 137.68 L406.96 137.64 L407.18 137.61 L407.41 137.59 L407.63 137.57 L407.86 137.56 L408.08 137.55 L408.30 137.56 L408.53 137.56 L408.75 137.58 L408.98 137.60 L409.20 137.62 L409.43 137.65 L409.65 137.68 L409.87 137.71 L410.10 137.75 L410.32 137.79 L410.55 137.82 L410.77 137.86 L410.99 137.91 L411.22 137.95 L411.44 137.99 L411.67 138.03 L411.89 138.08 L412.12 138.12 L412.34 138.17 L412.56 138.21 L412.79 138.26 L413.01 138.30 L413.24 138.35 L413.46 138.39 L413.69 138.44 L413.91 138.49 L414.13 138.51 L414.36 138.47 L414.58 138.44 L414.81 138.40 L415.03 138.37 L415.25 138.34 L415.48 138.30 L415.70 138.27 L415.93 138.24 L416.15 138.21 L416.38 138.18 L416.60 138.15 L416.82 138.12 L417.05 138.09 L417.27 138.06 L417.50 138.03 L417.72 138.00 L417.94 137.98 L418.17 137.96 L418.39 137.94 L418.62 137.92 L418.84 137.91 L419.07 137.90 L419.29 137.90 L419.51 137.90 L419.74 137.91 L419.96 137.92 L420.19 137.94 L420.41 137.95 L420.64 137.97 L420.86 137.99 L421.08 138.02 L421.31 138.04 L421.53 138.07 L421.76 138.10 L421.98 138.12 L422.20 138.15 L422.43 138.18 L422.65 138.21 L422.88 138.24 L423.10 138.27 L423.33 138.30 L423.55 138.34 L423.77 138.37 L424.00 138.40 L424.22 138.43 L424.45 138.46 L424.67 138.49 L424.89 138.53 L425.12 138.52 L425.34 138.48 L425.57 138.45 L425.79 138.42 L426.02 138.39 L426.24 138.36 L426.46 138.32 L426.69 138.29 L426.91 138.26 L427.14 138.23 L427.36 138.20 L427.59 138.17 L427.81 138.14 L428.03 138.11 L428.26 138.08 L428.48 138.06 L428.71 138.03 L428.93 138.00 L429.15 137.98 L429.38 137.96 L429.60 137.94 L429.83 137.92 L430.05 137.90 L430.28 137.89 L430.50 137.88 L430.72 137.88 L430.95 137.88 L431.17 137.89 L431.40 137.89 L431.62 137.91 L431.85 137.92 L432.07 137.94 L432.29 137.96 L432.52 137.98 L432.74 138.00 L432.97 138.03 L433.19 138.05 L433.41 138.08 L433.64 138.10 L433.86 138.13 L434.09 138.16 L434.31 138.18 L434.54 138.21 L434.76 138.24 L434.98 138.27 L435.21 138.30 L435.43 138.33 L435.66 138.36 L435.88 138.38 L436.11 138.41 L436.33 138.44 L436.55 138.46 L436.78 138.44 L437.00 138.42 L437.23 138.40 L437.45 138.39 L437.67 138.37 L437.90 138.35 L438.12 138.33 L438.35 138.32 L438.57 138.30 L438.80 138.28 L439.02 138.26 L439.24 138.25 L439.47 138.23 L439.69 138.22 L439.92 138.20 L440.14 138.19 L440.36 138.17 L440.59 138.16 L440.81 138.15 L441.04 138.14 L441.26 138.13 L441.49 138.13 L441.71 138.13 L441.93 138.12 L442.16 138.13 L442.38 138.13 L442.61 138.14 L442.83 138.15 L443.06 138.16 L443.28 138.17 L443.50 138.18 L443.73 138.20 L443.95 138.21 L444.18 138.23 L444.40 138.24 L444.62 138.26 L444.85 138.28 L445.07 138.30 L445.30 138.31 L445.52 138.33 L445.75 138.35 L445.97 138.37 L446.19 138.39 L446.42 138.40 L446.64 138.42 L446.87 138.44 L447.09 138.46 L447.31 138.48 L447.54 138.47 L447.76 138.45 L447.99 138.44 L448.21 138.42 L448.44 138.40 L448.66 138.38 L448.88 138.36 L449.11 138.34 L449.33 138.33 L449.56 138.31 L449.78 138.29 L450.01 138.27 L450.23 138.26 L450.45 138.24 L450.68 138.22 L450.90 138.21 L451.13 138.19 L451.35 138.18 L451.57 138.16 L451.80 138.15 L452.02 138.14 L452.25 138.12 L452.47 138.11 L452.70 138.10 L452.92 138.09 L453.14 138.09 L453.37 138.08 L453.59 138.08 L453.82 138.08 L454.04 138.09 L454.27 138.09 L454.49 138.10 L454.71 138.11 L454.94 138.12 L455.16 138.13 L455.39 138.14 L455.61 138.16 L455.83 138.17 L456.06 138.19 L456.28 138.20 L456.51 138.22 L456.73 138.24 L456.96 138.25 L457.18 138.27 L457.40 138.29 L457.63 138.31 L457.85 138.32 L458.08 138.34 L458.30 138.36 L458.52 138.38 L458.75 138.40 L458.97 138.41 L459.20 138.43 L459.42 138.42 L459.65 138.41 L459.87 138.40 L460.09 138.39 L460.32 138.38 L460.54 138.37 L460.77 138.36 L460.99 138.35 L461.22 138.35 L461.44 138.34 L461.66 138.33 L461.89 138.32 L462.11 138.31 L462.34 138.30 L462.56 138.29 L462.78 138.28 L463.01 138.28 L463.23 138.27 L463.46 138.26 L463.68 138.26 L463.91 138.25 L464.13 138.25 L464.35 138.25 L464.58 138.24 L464.80 138.24 L465.03 138.24 L465.25 138.25 L465.48 138.25 L465.70 138.26 L465.92 138.26 L466.15 138.27 L466.37 138.28 L466.60 138.29 L466.82 138.30 L467.04 138.31 L467.27 138.32 L467.49 138.33 L467.72 138.34 L467.94 138.35 L468.17 138.36 L468.39 138.37 L468.61 138.38 L468.84 138.39 L469.06 138.40 L469.29 138.42 L469.51 138.43 L469.74 138.44 L469.96 138.45 L470.18 138.45 L470.41 138.44 L470.63 138.43 L470.86 138.42 L471.08 138.40 L471.30 138.39 L471.53 138.38 L471.75 138.37 L471.98 138.35 L472.20 138.34 L472.43 138.33 L472.65 138.32 L472.87 138.31 L473.10 138.29 L473.32 138.28 L473.55 138.27 L473.77 138.26 L473.99 138.25 L474.22 138.24 L474.44 138.23 L474.67 138.22 L474.89 138.21 L475.12 138.21 L475.34 138.20 L475.56 138.20 L475.79 138.19 L476.01 138.19 L476.24 138.19 L476.46 138.19 L476.69 138.19 L476.91 138.20 L477.13 138.20 L477.36 138.21 L477.58 138.22 L477.81 138.23 L478.03 138.23 L478.25 138.24 L478.48 138.25 L478.70 138.27 L478.93 138.28 L479.15 138.29 L479.38 138.30 L479.60 138.31 L479.82 138.32 L480.05 138.34 L480.27 138.35 L480.50 138.36 L480.72 138.37 L480.95 138.38 L481.17 138.40 L481.39 138.41 L481.62 138.42 L481.84 138.42 L482.07 138.41 L482.29 138.41 L482.51 138.40 L482.74 138.40 L482.96 138.39 L483.19 138.39 L483.41 138.38 L483.64 138.38 L483.86 138.37 L484.08 138.37 L484.31 138.36 L484.53 138.36 L484.76 138.35 L484.98 138.35 L485.20 138.35 L485.43 138.34 L485.65 138.34 L485.88 138.34 L486.10 138.33 L486.33 138.33 L486.55 138.33 L486.77 138.33 L487.00 138.33 L487.22 138.33 L487.45 138.33 L487.67 138.33 L487.90 138.33 L488.12 138.33 L488.34 138.34 L488.57 138.34 L488.79 138.34 L489.02 138.35 L489.24 138.35 L489.46 138.36 L489.69 138.36 L489.91 138.37 L490.14 138.37 L490.36 138.38 L490.59 138.38 L490.81 138.39 L491.03 138.39 L491.26 138.40 L491.48 138.40 L491.71 138.41 L491.93 138.41 L492.16 138.42 L492.38 138.42 L492.60 138.43 L492.83 138.43 L493.05 138.42 L493.28 138.41 L493.50 138.40 L493.72 138.40 L493.95 138.39 L494.17 138.38 L494.40 138.37 L494.62 138.37 L494.85 138.36 L495.07 138.35 L495.29 138.34 L495.52 138.34 L495.74 138.33 L495.97 138.32 L496.19 138.32 L496.41 138.31 L496.64 138.30 L496.86 138.30 L497.09 138.29 L497.31 138.29 L497.54 138.28 L497.76 138.28 L497.98 138.27 L498.21 138.27 L498.43 138.27 L498.66 138.27 L498.88 138.27 L499.11 138.27 L499.33 138.27 L499.55 138.27 L499.78 138.28 L500.00 138.28 L500.23 138.28 L500.45 138.29 L500.67 138.30 L500.90 138.30 L501.12 138.31 L501.35 138.31 L501.57 138.32 L501.80 138.33 L502.02 138.34 L502.24 138.34 L502.47 138.35 L502.69 138.36 L502.92 138.36 L503.14 138.37 L503.37 138.38 L503.59 138.39 L503.81 138.39 L504.04 138.40 L504.26 138.41 L504.49 138.42 L504.71 138.41 L504.93 138.41 L505.16 138.41 L505.38 138.41 L505.61 138.40 L505.83 138.40 L506.06 138.40 L506.28 138.40 L506.50 138.40 L506.73 138.39 L506.95 138.39 L507.18 138.39 L507.40 138.39 L507.62 138.38 L507.85 138.38 L508.07 138.38 L508.30 138.38 L508.52 138.38 L508.75 138.37 L508.97 138.37 L509.19 138.37 L509.42 138.37 L509.64 138.37 L509.87 138.37 L510.09 138.37 L510.32 138.37 L510.54 138.37 L510.76 138.37 L510.99 138.37 L511.21 138.37 L511.44 138.37 L511.66 138.38 L511.88 138.38 L512.11 138.38 L512.33 138.38 L512.56 138.38 L512.78 138.39 L513.01 138.39 L513.23 138.39 L513.45 138.39 L513.68 138.40 L513.90 138.40 L514.13 138.40 L514.35 138.40 L514.58 138.41 L514.80 138.41 L515.02 138.41 L515.25 138.42 L515.47 138.42 L515.70 138.42 L515.92 138.42 L516.14 138.41 L516.37 138.41 L516.59 138.40 L516.82 138.40 L517.04 138.39 L517.27 138.39 L517.49 138.38 L517.71 138.38 L517.94 138.38 L518.16 138.37 L518.39 138.37 L518.61 138.36 L518.83 138.36 L519.06 138.36 L519.28 138.35 L519.51 138.35 L519.73 138.34 L519.96 138.34 L520.18 138.34 L520.40 138.33 L520.63 138.33 L520.85 138.33 L521.08 138.33 L521.30 138.33 L521.53 138.33 L521.75 138.33 L521.97 138.33 L522.20 138.33 L522.42 138.33 L522.65 138.33 L522.87 138.33 L523.09 138.34 L523.32 138.34 L523.54 138.34 L523.77 138.35 L523.99 138.35 L524.22 138.35 L524.44 138.36 L524.66 138.36 L524.89 138.36 L525.11 138.37 L525.34 138.37 L525.56 138.38 L525.79 138.38 L526.01 138.39 L526.23 138.39 L526.46 138.39 L526.68 138.40 L526.91 138.40 L527.13 138.41 L527.35 138.41 L527.58 138.41 L527.80 138.41 L528.03 138.41 L528.25 138.40 L528.48 138.40 L528.70 138.40 L528.92 138.40 L529.15 138.40 L529.37 138.40 L529.60 138.40 L529.82 138.40 L530.04 138.39 L530.27 138.39 L530.49 138.39 L530.72 138.39 L530.94 138.39 L531.17 138.39 L531.39 138.39 L531.61 138.39 L531.84 138.39 L532.06 138.38 L532.29 138.38 L532.51 138.38 L532.74 138.38 L532.96 138.38 L533.18 138.38 L533.41 138.38 L533.63 138.38 L533.86 138.39 L534.08 138.39 L534.30 138.39 L534.53 138.39 L534.75 138.39 L534.98 138.39 L535.20 138.39 L535.43 138.39 L535.65 138.39 L535.87 138.40 L536.10 138.40 L536.32 138.40 L536.55 138.40 L536.77 138.40 L537.00 138.40 L537.22 138.40 L537.44 138.41 L537.67 138.41 L537.89 138.41 L538.12 138.41 L538.34 138.41 L538.56 138.41 L538.79 138.40 L539.01 138.40 L539.24 138.40 L539.46 138.39 L539.69 138.39 L539.91 138.39 L540.13 138.39 L540.36 138.38 L540.58 138.38 L540.81 138.38 L541.03 138.38 L541.25 138.37 L541.48 138.37 L541.70 138.37 L541.93 138.37 L542.15 138.37 L542.38 138.37 L542.60 138.36" stroke="#000000"/>
<path d="M318.40 139.81 L318.62 139.81 L318.85 139.81 L319.07 139.88 L319.30 139.99 L319.52 140.10 L319.75 140.20 L319.97 140.31 L320.19 140.42 L320.42 140.52 L320.64 140.63 L320.87 140.74 L321.09 140.84 L321.31 140.95 L321.54 141.06 L321.76 141.16 L321.99 141.27 L322.21 141.37 L322.44 141.48 L322.66 141.59 L322.88 141.69 L323.11 141.80 L323.33 141.91 L323.56 142.01 L323.78 142.12 L324.00 142.23 L324.23 142.33 L324.45 140.83 L324.68 136.09 L324.90 131.36 L325.13 126.63 L325.35 125.79 L325.57 124.97 L325.80 124.14 L326.02 123.32 L326.25 122.51 L326.47 121.71 L326.70 120.91 L326.92 120.13 L327.14 119.36 L327.37 118.60 L327.59 117.87 L327.82 117.15 L328.04 116.47 L328.26 115.84 L328.49 115.25 L328.71 114.73 L328.94 114.29 L329.16 113.96 L329.39 113.74 L329.61 113.67 L329.83 113.76 L330.06 114.01 L330.28 114.42 L330.51 114.96 L330.73 115.63 L330.96 116.40 L331.18 117.26 L331.40 118.20 L331.63 119.19 L331.85 120.23 L332.08 121.32 L332.30 122.44 L332.52 123.59 L332.75 124.76 L332.97 125.96 L333.20 127.17 L333.42 128.40 L333.65 129.64 L333.87 130.89 L334.09 132.16 L334.32 133.43 L334.54 134.71 L334.77 135.99 L334.99 137.28 L335.21 138.58 L335.44 139.88 L335.66 140.45 L335.89 139.53 L336.11 138.62 L336.34 137.72 L336.56 136.82 L336.78 135.92 L337.01 135.03 L337.23 134.15 L337.46 133.28 L337.68 132.42 L337.91 131.58 L338.13 130.75 L338.35 129.94 L338.58 129.15 L338.80 128.39 L339.03 127.67 L339.25 126.99 L339.47 126.36 L339.70 125.81 L339.92 125.34 L340.15 124.97 L340.37 124.72 L340.60 124.61 L340.82 124.63 L341.04 124.76 L341.27 125.01 L341.49 125.36 L341.72 125.80 L341.94 126.31 L342.17 126.88 L342.39 127.50 L342.61 128.16 L342.84 128.86 L343.06 129.59 L343.29 130.34 L343.51 131.11 L343.73 131.89 L343.96 132.69 L344.18 133.50 L344.41 134.32 L344.63 135.15 L344.86 135.99 L345.08 136.83 L345.30 137.68 L345.53 138.53 L345.75 139.39 L345.98 140.25 L346.20 141.12 L346.43 141.43 L346.65 140.61 L346.87 139.80 L347.10 138.99 L347.32 138.19 L347.55 137.39 L347.77 136.60 L347.99 135.82 L348.22 135.04 L348.44 134.27 L348.67 133.51 L348.89 132.76 L349.12 132.03 L349.34 131.31 L349.56 130.62 L349.79 129.95 L350.01 129.31 L350.24 128.71 L350.46 128.16 L350.68 127.66 L350.91 127.23 L351.13 126.89 L351.36 126.65 L351.58 126.51 L351.81 126.49 L352.03 126.57 L352.25 126.76 L352.48 127.03 L352.70 127.38 L352.93 127.80 L353.15 128.28 L353.38 128.80 L353.60 129.36 L353.82 129.95 L354.05 130.57 L354.27 131.21 L354.50 131.87 L354.72 132.54 L354.94 133.23 L355.17 133.92 L355.39 134.63 L355.62 135.34 L355.84 136.06 L356.07 136.79 L356.29 137.52 L356.51 138.25 L356.74 138.99 L356.96 139.73 L357.19 140.48 L357.41 141.23 L357.63 140.64 L357.86 140.05 L358.08 139.47 L358.31 138.89 L358.53 138.31 L358.76 137.74 L358.98 137.17 L359.20 136.60 L359.43 136.04 L359.65 135.49 L359.88 134.94 L360.10 134.40 L360.33 133.87 L360.55 133.36 L360.77 132.85 L361.00 132.37 L361.22 131.90 L361.45 131.46 L361.67 131.05 L361.89 130.67 L362.12 130.35 L362.34 130.07 L362.57 129.85 L362.79 129.71 L363.02 129.64 L363.24 129.66 L363.46 129.75 L363.69 129.92 L363.91 130.16 L364.14 130.46 L364.36 130.80 L364.59 131.19 L364.81 131.61 L365.03 132.05 L365.26 132.52 L365.48 133.00 L365.71 133.50 L365.93 134.01 L366.15 134.53 L366.38 135.06 L366.60 135.59 L366.83 136.13 L367.05 136.68 L367.28 137.23 L367.50 137.78 L367.72 138.34 L367.95 138.90 L368.17 139.47 L368.40 140.03 L368.62 139.96 L368.84 139.57 L369.07 139.19 L369.29 138.80 L369.52 138.41 L369.74 138.03 L369.97 137.65 L370.19 137.27 L370.41 136.90 L370.64 136.53 L370.86 136.16 L371.09 135.80 L371.31 135.44 L371.54 135.09 L371.76 134.75 L371.98 134.41 L372.21 134.09 L372.43 133.78 L372.66 133.48 L372.88 133.20 L373.10 132.94 L373.33 132.71 L373.55 132.51 L373.78 132.35 L374.00 132.23 L374.23 132.15 L374.45 132.13 L374.67 132.16 L374.90 132.25 L375.12 132.40 L375.35 132.59 L375.57 132.83 L375.80 133.10 L376.02 133.40 L376.24 133.72 L376.47 134.07 L376.69 134.42 L376.92 134.79 L377.14 135.17 L377.36 135.56 L377.59 135.96 L377.81 136.36 L378.04 136.77 L378.26 137.18 L378.49 137.59 L378.71 138.01 L378.93 138.43 L379.16 138.86 L379.38 139.28 L379.61 139.71 L379.83 140.14 L380.06 139.77 L380.28 139.40 L380.50 139.03 L380.73 138.66 L380.95 138.30 L381.18 137.94 L381.40 137.58 L381.62 137.22 L381.85 136.86 L382.07 136.51 L382.30 136.17 L382.52 135.83 L382.75 135.49 L382.97 135.16 L383.19 134.84 L383.42 134.53 L383.64 134.23 L383.87 133.94 L384.09 133.67 L384.31 133.43 L384.54 133.20 L384.76 133.01 L384.99 132.85 L385.21 132.73 L385.44 132.66 L385.66 132.63 L385.88 132.66 L386.11 132.72 L386.33 132.83 L386.56 132.98 L386.78 133.15 L387.01 133.35 L387.23 133.58 L387.45 133.82 L387.68 134.07 L387.90 134.34 L388.13 134.62 L388.35 134.91 L388.57 135.20 L388.80 135.50 L389.02 135.81 L389.25 136.11 L389.47 136.43 L389.70 136.74 L389.92 137.06 L390.14 137.38 L390.37 137.70 L390.59 138.03 L390.82 138.35 L391.04 138.68 L391.26 139.01 L391.49 138.97 L391.71 138.75 L391.94 138.52 L392.16 138.30 L392.39 138.08 L392.61 137.86 L392.83 137.64 L393.06 137.43 L393.28 137.21 L393.51 137.00 L393.73 136.79 L393.96 136.59 L394.18 136.39 L394.40 136.19 L394.63 136.00 L394.85 135.82 L395.08 135.65 L395.30 135.49 L395.52 135.34 L395.75 135.21 L395.97 135.10 L396.20 135.01 L396.42 134.95 L396.65 134.93 L396.87 134.93 L397.09 134.96 L397.32 135.02 L397.54 135.11 L397.77 135.21 L397.99 135.34 L398.22 135.47 L398.44 135.63 L398.66 135.79 L398.89 135.96 L399.11 136.13 L399.34 136.32 L399.56 136.51 L399.78 136.70 L400.01 136.89 L400.23 137.09 L400.46 137.29 L400.68 137.50 L400.91 137.70 L401.13 137.91 L401.35 138.12 L401.58 138.33 L401.80 138.54 L402.03 138.75 L402.25 138.96 L402.48 139.18 L402.70 139.10 L402.92 138.88 L403.15 138.66 L403.37 138.44 L403.60 138.23 L403.82 138.01 L404.04 137.79 L404.27 137.58 L404.49 137.37 L404.72 137.16 L404.94 136.96 L405.17 136.75 L405.39 136.56 L405.61 136.36 L405.84 136.17 L406.06 135.99 L406.29 135.82 L406.51 135.65 L406.73 135.50 L406.96 135.36 L407.18 135.24 L407.41 135.14 L407.63 135.07 L407.86 135.02 L408.08 135.01 L408.30 135.02 L408.53 135.06 L408.75 135.11 L408.98 135.19 L409.20 135.29 L409.43 135.40 L409.65 135.52 L409.87 135.65 L410.10 135.79 L410.32 135.94 L410.55 136.10 L410.77 136.26 L410.99 136.42 L411.22 136.59 L411.44 136.76 L411.67 136.93 L411.89 137.11 L412.12 137.28 L412.34 137.46 L412.56 137.64 L412.79 137.82 L413.01 138.00 L413.24 138.19 L413.46 138.37 L413.69 138.56 L413.91 138.74 L414.13 138.82 L414.36 138.69 L414.58 138.55 L414.81 138.42 L415.03 138.28 L415.25 138.15 L415.48 138.02 L415.70 137.89 L415.93 137.76 L416.15 137.63 L416.38 137.51 L416.60 137.38 L416.82 137.26 L417.05 137.15 L417.27 137.03 L417.50 136.92 L417.72 136.82 L417.94 136.72 L418.17 136.63 L418.39 136.56 L418.62 136.49 L418.84 136.45 L419.07 136.42 L419.29 136.41 L419.51 136.42 L419.74 136.44 L419.96 136.48 L420.19 136.54 L420.41 136.61 L420.64 136.69 L420.86 136.78 L421.08 136.87 L421.31 136.97 L421.53 137.08 L421.76 137.19 L421.98 137.30 L422.20 137.41 L422.43 137.53 L422.65 137.65 L422.88 137.77 L423.10 137.89 L423.33 138.02 L423.55 138.14 L423.77 138.27 L424.00 138.40 L424.22 138.52 L424.45 138.65 L424.67 138.78 L424.89 138.91 L425.12 138.86 L425.34 138.73 L425.57 138.61 L425.79 138.48 L426.02 138.35 L426.24 138.22 L426.46 138.10 L426.69 137.97 L426.91 137.85 L427.14 137.72 L427.36 137.60 L427.59 137.48 L427.81 137.36 L428.03 137.25 L428.26 137.13 L428.48 137.02 L428.71 136.92 L428.93 136.81 L429.15 136.72 L429.38 136.63 L429.60 136.55 L429.83 136.48 L430.05 136.42 L430.28 136.37 L430.50 136.34 L430.72 136.32 L430.95 136.33 L431.17 136.35 L431.40 136.38 L431.62 136.43 L431.85 136.49 L432.07 136.56 L432.29 136.63 L432.52 136.72 L432.74 136.81 L432.97 136.90 L433.19 137.00 L433.41 137.11 L433.64 137.21 L433.86 137.32 L434.09 137.43 L434.31 137.54 L434.54 137.65 L434.76 137.76 L434.98 137.88 L435.21 137.99 L435.43 138.11 L435.66 138.22 L435.88 138.34 L436.11 138.46 L436.33 138.58 L436.55 138.63 L436.78 138.56 L437.00 138.49 L437.23 138.41 L437.45 138.34 L437.67 138.27 L437.90 138.20 L438.12 138.13 L438.35 138.06 L438.57 137.99 L438.80 137.92 L439.02 137.86 L439.24 137.79 L439.47 137.73 L439.69 137.67 L439.92 137.61 L440.14 137.55 L440.36 137.50 L440.59 137.45 L440.81 137.40 L441.04 137.36 L441.26 137.33 L441.49 137.31 L441.71 137.30 L441.93 137.30 L442.16 137.31 L442.38 137.33 L442.61 137.35 L442.83 137.39 L443.06 137.43 L443.28 137.48 L443.50 137.53 L443.73 137.59 L443.95 137.65 L444.18 137.71 L444.40 137.78 L444.62 137.85 L444.85 137.91 L445.07 137.98 L445.30 138.05 L445.52 138.12 L445.75 138.20 L445.97 138.27 L446.19 138.34 L446.42 138.42 L446.64 138.49 L446.87 138.56 L447.09 138.64 L447.31 138.71 L447.54 138.69 L447.76 138.62 L447.99 138.54 L448.21 138.47 L448.44 138.40 L448.66 138.32 L448.88 138.25 L449.11 138.18 L449.33 138.11 L449.56 138.04 L449.78 137.97 L450.01 137.90 L450.23 137.83 L450.45 137.76 L450.68 137.70 L450.90 137.63 L451.13 137.57 L451.35 137.51 L451.57 137.45 L451.80 137.39 L452.02 137.34 L452.25 137.29 L452.47 137.25 L452.70 137.21 L452.92 137.18 L453.14 137.15 L453.37 137.14 L453.59 137.13 L453.82 137.13 L454.04 137.14 L454.27 137.16 L454.49 137.19 L454.71 137.23 L454.94 137.27 L455.16 137.32 L455.39 137.38 L455.61 137.43 L455.83 137.49 L456.06 137.55 L456.28 137.62 L456.51 137.68 L456.73 137.75 L456.96 137.82 L457.18 137.88 L457.40 137.95 L457.63 138.02 L457.85 138.09 L458.08 138.17 L458.30 138.24 L458.52 138.31 L458.75 138.38 L458.97 138.45 L459.20 138.53 L459.42 138.49 L459.65 138.45 L459.87 138.41 L460.09 138.37 L460.32 138.33 L460.54 138.29 L460.77 138.26 L460.99 138.22 L461.22 138.18 L461.44 138.14 L461.66 138.11 L461.89 138.07 L462.11 138.04 L462.34 138.00 L462.56 137.97 L462.78 137.94 L463.01 137.91 L463.23 137.88 L463.46 137.85 L463.68 137.83 L463.91 137.81 L464.13 137.79 L464.35 137.78 L464.58 137.77 L464.80 137.77 L465.03 137.78 L465.25 137.79 L465.48 137.81 L465.70 137.83 L465.92 137.86 L466.15 137.89 L466.37 137.92 L466.60 137.96 L466.82 137.99 L467.04 138.03 L467.27 138.07 L467.49 138.11 L467.72 138.15 L467.94 138.20 L468.17 138.24 L468.39 138.28 L468.61 138.33 L468.84 138.37 L469.06 138.42 L469.29 138.46 L469.51 138.51 L469.74 138.55 L469.96 138.60 L470.18 138.61 L470.41 138.56 L470.63 138.51 L470.86 138.46 L471.08 138.41 L471.30 138.36 L471.53 138.31 L471.75 138.26 L471.98 138.21 L472.20 138.17 L472.43 138.12 L472.65 138.07 L472.87 138.02 L473.10 137.98 L473.32 137.93 L473.55 137.89 L473.77 137.84 L473.99 137.80 L474.22 137.76 L474.44 137.72 L474.67 137.69 L474.89 137.66 L475.12 137.63 L475.34 137.60 L475.56 137.58 L475.79 137.56 L476.01 137.56 L476.24 137.55 L476.46 137.56 L476.69 137.57 L476.91 137.58 L477.13 137.61 L477.36 137.63 L477.58 137.67 L477.81 137.70 L478.03 137.74 L478.25 137.78 L478.48 137.82 L478.70 137.86 L478.93 137.91 L479.15 137.95 L479.38 138.00 L479.60 138.05 L479.82 138.09 L480.05 138.14 L480.27 138.19 L480.50 138.24 L480.72 138.29 L480.95 138.34 L481.17 138.39 L481.39 138.43 L481.62 138.48 L481.84 138.46 L482.07 138.45 L482.29 138.43 L482.51 138.41 L482.74 138.39 L482.96 138.37 L483.19 138.35 L483.41 138.33 L483.64 138.31 L483.86 138.29 L484.08 138.27 L484.31 138.25 L484.53 138.24 L484.76 138.22 L484.98 138.20 L485.20 138.19 L485.43 138.17 L485.65 138.16 L485.88 138.14 L486.10 138.13 L486.33 138.12 L486.55 138.11 L486.77 138.11 L487.00 138.10 L487.22 138.10 L487.45 138.11 L487.67 138.11 L487.90 138.12 L488.12 138.13 L488.34 138.14 L488.57 138.16 L488.79 138.17 L489.02 138.19 L489.24 138.21 L489.46 138.23 L489.69 138.24 L489.91 138.26 L490.14 138.28 L490.36 138.30 L490.59 138.33 L490.81 138.35 L491.03 138.37 L491.26 138.39 L491.48 138.41 L491.71 138.43 L491.93 138.45 L492.16 138.48 L492.38 138.50 L492.60 138.52 L492.83 138.51 L493.05 138.48 L493.28 138.44 L493.50 138.41 L493.72 138.38 L493.95 138.35 L494.17 138.32 L494.40 138.29 L494.62 138.26 L494.85 138.23 L495.07 138.20 L495.29 138.17 L495.52 138.15 L495.74 138.12 L495.97 138.09 L496.19 138.06 L496.41 138.04 L496.64 138.01 L496.86 137.99 L497.09 137.96 L497.31 137.94 L497.54 137.92 L497.76 137.91 L497.98 137.89 L498.21 137.88 L498.43 137.87 L498.66 137.87 L498.88 137.87 L499.11 137.87 L499.33 137.88 L499.55 137.89 L499.78 137.90 L500.00 137.92 L500.23 137.94 L500.45 137.96 L500.67 137.98 L500.90 138.01 L501.12 138.03 L501.35 138.06 L501.57 138.09 L501.80 138.11 L502.02 138.14 L502.24 138.17 L502.47 138.20 L502.69 138.23 L502.92 138.26 L503.14 138.29 L503.37 138.32 L503.59 138.35 L503.81 138.38 L504.04 138.41 L504.26 138.44 L504.49 138.47 L504.71 138.46 L504.93 138.45 L505.16 138.44 L505.38 138.43 L505.61 138.42 L505.83 138.41 L506.06 138.40 L506.28 138.39 L506.50 138.38 L506.73 138.37 L506.95 138.36 L507.18 138.35 L507.40 138.34 L507.62 138.34 L507.85 138.33 L508.07 138.32 L508.30 138.31 L508.52 138.30 L508.75 138.30 L508.97 138.29 L509.19 138.28 L509.42 138.28 L509.64 138.28 L509.87 138.27 L510.09 138.27 L510.32 138.27 L510.54 138.27 L510.76 138.28 L510.99 138.28 L511.21 138.29 L511.44 138.30 L511.66 138.30 L511.88 138.31 L512.11 138.32 L512.33 138.33 L512.56 138.34 L512.78 138.35 L513.01 138.36 L513.23 138.37 L513.45 138.38 L513.68 138.39 L513.90 138.40 L514.13 138.41 L514.35 138.42 L514.58 138.43 L514.80 138.44 L515.02 138.45 L515.25 138.46 L515.47 138.47 L515.70 138.48 L515.92 138.47 L516.14 138.45 L516.37 138.43 L516.59 138.41 L516.82 138.39 L517.04 138.38 L517.27 138.36 L517.49 138.34 L517.71 138.32 L517.94 138.30 L518.16 138.29 L518.39 138.27 L518.61 138.25 L518.83 138.24 L519.06 138.22 L519.28 138.21 L519.51 138.19 L519.73 138.18 L519.96 138.16 L520.18 138.15 L520.40 138.14 L520.63 138.13 L520.85 138.12 L521.08 138.11 L521.30 138.11 L521.53 138.10 L521.75 138.10 L521.97 138.11 L522.20 138.11 L522.42 138.12 L522.65 138.12 L522.87 138.13 L523.09 138.14 L523.32 138.16 L523.54 138.17 L523.77 138.18 L523.99 138.20 L524.22 138.21 L524.44 138.23 L524.66 138.24 L524.89 138.26 L525.11 138.27 L525.34 138.29 L525.56 138.31 L525.79 138.32 L526.01 138.34 L526.23 138.36 L526.46 138.37 L526.68 138.39 L526.91 138.41 L527.13 138.43 L527.35 138.44 L527.58 138.44 L527.80 138.43 L528.03 138.43 L528.25 138.42 L528.48 138.41 L528.70 138.41 L528.92 138.40 L529.15 138.40 L529.37 138.39 L529.60 138.39 L529.82 138.38 L530.04 138.38 L530.27 138.37 L530.49 138.37 L530.72 138.36 L530.94 138.36 L531.17 138.35 L531.39 138.35 L531.61 138.34 L531.84 138.34 L532.06 138.34 L532.29 138.33 L532.51 138.33 L532.74 138.33 L532.96 138.33 L533.18 138.33 L533.41 138.33 L533.63 138.34 L533.86 138.34 L534.08 138.34 L534.30 138.35 L534.53 138.35 L534.75 138.36 L534.98 138.36 L535.20 138.37 L535.43 138.37 L535.65 138.38 L535.87 138.38 L536.10 138.39 L536.32 138.39 L536.55 138.40 L536.77 138.41 L537.00 138.41 L537.22 138.42 L537.44 138.42 L537.67 138.43 L537.89 138.44 L538.12 138.44 L538.34 138.43 L538.56 138.42 L538.79 138.41 L539.01 138.40 L539.24 138.39 L539.46 138.38 L539.69 138.37 L539.91 138.36 L540.13 138.35 L540.36 138.34 L540.58 138.33 L540.81 138.32 L541.03 138.31 L541.25 138.30 L541.48 138.29 L541.70 138.28 L541.93 138.27 L542.15 138.27 L542.38 138.26 L542.60 138.26" stroke="#ff1a1a"/>
<path d="M318.40 144.05 L318.62 144.05 L318.85 144.05 L319.07 144.16 L319.30 144.33 L319.52 144.49 L319.75 144.66 L319.97 144.82 L320.19 144.98 L320.42 145.15 L320.64 145.31 L320.87 145.48 L321.09 145.64 L321.31 145.81 L321.54 145.97 L321.76 146.14 L321.99 146.30 L322.21 146.47 L322.44 146.63 L322.66 146.79 L322.88 146.96 L323.11 147.12 L323.33 147.29 L323.56 147.45 L323.78 147.62 L324.00 147.78 L324.23 147.95 L324.45 146.98 L324.68 143.75 L324.90 140.54 L325.13 137.34 L325.35 134.18 L325.57 131.05 L325.80 127.97 L326.02 124.95 L326.25 121.99 L326.47 119.09 L326.70 116.28 L326.92 113.55 L327.14 110.92 L327.37 108.38 L327.59 105.94 L327.82 103.62 L328.04 101.41 L328.26 99.31 L328.49 97.34 L328.71 95.50 L328.94 93.78 L329.16 92.19 L329.39 90.74 L329.61 89.42 L329.83 89.59 L330.06 90.12 L330.28 90.96 L330.51 92.10 L330.73 93.50 L330.96 95.11 L331.18 96.90 L331.40 98.84 L331.63 100.91 L331.85 103.09 L332.08 105.35 L332.30 107.69 L332.52 110.08 L332.75 112.53 L332.97 115.02 L333.20 117.55 L333.42 120.11 L333.65 122.69 L333.87 125.31 L334.09 127.94 L334.32 130.59 L334.54 133.25 L334.77 135.93 L334.99 138.63 L335.21 141.33 L335.44 144.05 L335.66 145.18 L335.89 143.16 L336.11 141.15 L336.34 139.15 L336.56 137.15 L336.78 135.17 L337.01 133.21 L337.23 131.26 L337.46 129.34 L337.68 127.44 L337.91 125.57 L338.13 123.73 L338.35 121.94 L338.58 120.20 L338.80 118.52 L339.03 116.92 L339.25 115.42 L339.47 114.04 L339.70 112.82 L339.92 111.78 L340.15 110.96 L340.37 110.41 L340.60 110.16 L340.82 110.19 L341.04 110.48 L341.27 110.98 L341.49 111.70 L341.72 112.59 L341.94 113.64 L342.17 114.81 L342.39 116.08 L342.61 117.44 L342.84 118.87 L343.06 120.36 L343.29 121.90 L343.51 123.47 L343.73 125.08 L343.96 126.72 L344.18 128.38 L344.41 130.07 L344.63 131.77 L344.86 133.48 L345.08 135.21 L345.30 136.95 L345.53 138.70 L345.75 140.46 L345.98 142.22 L346.20 144.00 L346.43 144.65 L346.65 143.05 L346.87 141.46 L347.10 139.88 L347.32 138.30 L347.55 136.74 L347.77 135.18 L347.99 133.64 L348.22 132.11 L348.44 130.60 L348.67 129.11 L348.89 127.65 L349.12 126.21 L349.34 124.80 L349.56 123.44 L349.79 122.12 L350.01 120.87 L350.24 119.69 L350.46 118.60 L350.68 117.63 L350.91 116.79 L351.13 116.12 L351.36 115.64 L351.58 115.37 L351.81 115.33 L352.03 115.50 L352.25 115.86 L352.48 116.39 L352.70 117.08 L352.93 117.90 L353.15 118.83 L353.38 119.85 L353.60 120.95 L353.82 122.11 L354.05 123.32 L354.27 124.57 L354.50 125.86 L354.72 127.18 L354.94 128.52 L355.17 129.88 L355.39 131.26 L355.62 132.65 L355.84 134.06 L356.07 135.48 L356.29 136.91 L356.51 138.35 L356.74 139.79 L356.96 141.24 L357.19 142.70 L357.41 144.17 L357.63 142.92 L357.86 141.67 L358.08 140.43 L358.31 139.20 L358.53 137.98 L358.76 136.76 L358.98 135.55 L359.20 134.35 L359.43 133.16 L359.65 131.98 L359.88 130.82 L360.10 129.67 L360.33 128.55 L360.55 127.45 L360.77 126.38 L361.00 125.35 L361.22 124.36 L361.45 123.43 L361.67 122.55 L361.89 121.76 L362.12 121.06 L362.34 120.47 L362.57 120.02 L362.79 119.71 L363.02 119.57 L363.24 119.60 L363.46 119.80 L363.69 120.16 L363.91 120.67 L364.14 121.30 L364.36 122.03 L364.59 122.85 L364.81 123.74 L365.03 124.68 L365.26 125.67 L365.48 126.70 L365.71 127.76 L365.93 128.84 L366.15 129.95 L366.38 131.07 L366.60 132.20 L366.83 133.36 L367.05 134.52 L367.28 135.69 L367.50 136.87 L367.72 138.05 L367.95 139.24 L368.17 140.44 L368.40 141.64 L368.62 141.52 L368.84 140.75 L369.07 139.97 L369.29 139.20 L369.52 138.43 L369.74 137.66 L369.97 136.90 L370.19 136.15 L370.41 135.40 L370.64 134.66 L370.86 133.92 L371.09 133.20 L371.31 132.48 L371.54 131.78 L371.76 131.09 L371.98 130.42 L372.21 129.78 L372.43 129.15 L372.66 128.56 L372.88 128.00 L373.10 127.48 L373.33 127.02 L373.55 126.62 L373.78 126.30 L374.00 126.05 L374.23 125.90 L374.45 125.85 L374.67 125.91 L374.90 126.10 L375.12 126.39 L375.35 126.78 L375.57 127.26 L375.80 127.80 L376.02 128.40 L376.24 129.05 L376.47 129.73 L376.69 130.45 L376.92 131.19 L377.14 131.95 L377.36 132.73 L377.59 133.52 L377.81 134.32 L378.04 135.14 L378.26 135.96 L378.49 136.79 L378.71 137.62 L378.93 138.47 L379.16 139.31 L379.38 140.16 L379.61 141.02 L379.83 141.88 L380.06 141.13 L380.28 140.40 L380.50 139.66 L380.73 138.93 L380.95 138.20 L381.18 137.47 L381.40 136.75 L381.62 136.04 L381.85 135.33 L382.07 134.63 L382.30 133.93 L382.52 133.25 L382.75 132.58 L382.97 131.92 L383.19 131.28 L383.42 130.66 L383.64 130.06 L383.87 129.49 L384.09 128.95 L384.31 128.45 L384.54 128.01 L384.76 127.62 L384.99 127.30 L385.21 127.07 L385.44 126.92 L385.66 126.87 L385.88 126.92 L386.11 127.05 L386.33 127.26 L386.56 127.55 L386.78 127.90 L387.01 128.30 L387.23 128.75 L387.45 129.23 L387.68 129.75 L387.90 130.28 L388.13 130.84 L388.35 131.41 L388.57 132.00 L388.80 132.60 L389.02 133.21 L389.25 133.83 L389.47 134.45 L389.70 135.09 L389.92 135.72 L390.14 136.36 L390.37 137.01 L390.59 137.66 L390.82 138.31 L391.04 138.96 L391.26 139.62 L391.49 139.54 L391.71 139.09 L391.94 138.65 L392.16 138.20 L392.39 137.76 L392.61 137.32 L392.83 136.89 L393.06 136.45 L393.28 136.03 L393.51 135.60 L393.73 135.19 L393.96 134.78 L394.18 134.37 L394.40 133.98 L394.63 133.60 L394.85 133.24 L395.08 132.89 L395.30 132.57 L395.52 132.28 L395.75 132.01 L395.97 131.79 L396.20 131.62 L396.42 131.51 L396.65 131.45 L396.87 131.46 L397.09 131.53 L397.32 131.65 L397.54 131.81 L397.77 132.02 L397.99 132.27 L398.22 132.55 L398.44 132.85 L398.66 133.17 L398.89 133.51 L399.11 133.87 L399.34 134.23 L399.56 134.61 L399.78 135.00 L400.01 135.39 L400.23 135.78 L400.46 136.19 L400.68 136.59 L400.91 137.00 L401.13 137.42 L401.35 137.84 L401.58 138.26 L401.80 138.68 L402.03 139.10 L402.25 139.53 L402.48 139.95 L402.70 139.80 L402.92 139.36 L403.15 138.92 L403.37 138.48 L403.60 138.05 L403.82 137.62 L404.04 137.19 L404.27 136.76 L404.49 136.34 L404.72 135.93 L404.94 135.51 L405.17 135.11 L405.39 134.71 L405.61 134.32 L405.84 133.95 L406.06 133.58 L406.29 133.23 L406.51 132.90 L406.73 132.60 L406.96 132.32 L407.18 132.09 L407.41 131.89 L407.63 131.74 L407.86 131.65 L408.08 131.62 L408.30 131.64 L408.53 131.71 L408.75 131.83 L408.98 131.98 L409.20 132.18 L409.43 132.40 L409.65 132.64 L409.87 132.91 L410.10 133.19 L410.32 133.49 L410.55 133.80 L410.77 134.11 L410.99 134.44 L411.22 134.78 L411.44 135.12 L411.67 135.46 L411.89 135.81 L412.12 136.17 L412.34 136.52 L412.56 136.88 L412.79 137.25 L413.01 137.61 L413.24 137.98 L413.46 138.34 L413.69 138.71 L413.91 139.08 L414.13 139.24 L414.36 138.97 L414.58 138.70 L414.81 138.43 L415.03 138.17 L415.25 137.90 L415.48 137.64 L415.70 137.38 L415.93 137.12 L416.15 136.87 L416.38 136.61 L416.60 136.37 L416.82 136.13 L417.05 135.89 L417.27 135.66 L417.50 135.44 L417.72 135.24 L417.94 135.04 L418.17 134.87 L418.39 134.72 L418.62 134.59 L418.84 134.49 L419.07 134.44 L419.29 134.42 L419.51 134.43 L419.74 134.49 L419.96 134.57 L420.19 134.68 L420.41 134.82 L420.64 134.98 L420.86 135.15 L421.08 135.34 L421.31 135.54 L421.53 135.75 L421.76 135.97 L421.98 136.20 L422.20 136.43 L422.43 136.66 L422.65 136.90 L422.88 137.14 L423.10 137.39 L423.33 137.64 L423.55 137.89 L423.77 138.14 L424.00 138.39 L424.22 138.65 L424.45 138.90 L424.67 139.16 L424.89 139.42 L425.12 139.33 L425.34 139.07 L425.57 138.81 L425.79 138.55 L426.02 138.30 L426.24 138.04 L426.46 137.79 L426.69 137.54 L426.91 137.29 L427.14 137.04 L427.36 136.80 L427.59 136.56 L427.81 136.32 L428.03 136.09 L428.26 135.86 L428.48 135.64 L428.71 135.43 L428.93 135.23 L429.15 135.04 L429.38 134.86 L429.60 134.69 L429.83 134.55 L430.05 134.43 L430.28 134.34 L430.50 134.28 L430.72 134.25 L430.95 134.25 L431.17 134.29 L431.40 134.36 L431.62 134.45 L431.85 134.57 L432.07 134.71 L432.29 134.87 L432.52 135.04 L432.74 135.22 L432.97 135.41 L433.19 135.61 L433.41 135.81 L433.64 136.02 L433.86 136.23 L434.09 136.45 L434.31 136.67 L434.54 136.90 L434.76 137.12 L434.98 137.35 L435.21 137.58 L435.43 137.81 L435.66 138.05 L435.88 138.28 L436.11 138.51 L436.33 138.75 L436.55 138.86 L436.78 138.72 L437.00 138.57 L437.23 138.43 L437.45 138.28 L437.67 138.14 L437.90 138.00 L438.12 137.86 L438.35 137.72 L438.57 137.58 L438.80 137.45 L439.02 137.32 L439.24 137.18 L439.47 137.06 L439.69 136.93 L439.92 136.81 L440.14 136.70 L440.36 136.59 L440.59 136.49 L440.81 136.41 L441.04 136.33 L441.26 136.27 L441.49 136.22 L441.71 136.20 L441.93 136.20 L442.16 136.21 L442.38 136.25 L442.61 136.31 L442.83 136.38 L443.06 136.47 L443.28 136.56 L443.50 136.67 L443.73 136.78 L443.95 136.90 L444.18 137.03 L444.40 137.16 L444.62 137.29 L444.85 137.43 L445.07 137.57 L445.30 137.71 L445.52 137.85 L445.75 137.99 L445.97 138.14 L446.19 138.28 L446.42 138.43 L446.64 138.58 L446.87 138.73 L447.09 138.88 L447.31 139.03 L447.54 138.98 L447.76 138.83 L447.99 138.68 L448.21 138.54 L448.44 138.39 L448.66 138.25 L448.88 138.10 L449.11 137.96 L449.33 137.82 L449.56 137.68 L449.78 137.54 L450.01 137.40 L450.23 137.26 L450.45 137.13 L450.68 136.99 L450.90 136.87 L451.13 136.74 L451.35 136.62 L451.57 136.50 L451.80 136.39 L452.02 136.28 L452.25 136.18 L452.47 136.10 L452.70 136.02 L452.92 135.96 L453.14 135.91 L453.37 135.87 L453.59 135.86 L453.82 135.86 L454.04 135.88 L454.27 135.93 L454.49 135.99 L454.71 136.06 L454.94 136.15 L455.16 136.25 L455.39 136.35 L455.61 136.47 L455.83 136.58 L456.06 136.71 L456.28 136.83 L456.51 136.96 L456.73 137.10 L456.96 137.23 L457.18 137.37 L457.40 137.51 L457.63 137.65 L457.85 137.79 L458.08 137.93 L458.30 138.07 L458.52 138.22 L458.75 138.36 L458.97 138.51 L459.20 138.65 L459.42 138.58 L459.65 138.50 L459.87 138.42 L460.09 138.34 L460.32 138.26 L460.54 138.19 L460.77 138.11 L460.99 138.04 L461.22 137.96 L461.44 137.89 L461.66 137.81 L461.89 137.74 L462.11 137.67 L462.34 137.60 L462.56 137.54 L462.78 137.47 L463.01 137.41 L463.23 137.36 L463.46 137.30 L463.68 137.26 L463.91 137.22 L464.13 137.18 L464.35 137.16 L464.58 137.15 L464.80 137.15 L465.03 137.16 L465.25 137.18 L465.48 137.22 L465.70 137.26 L465.92 137.31 L466.15 137.37 L466.37 137.44 L466.60 137.51 L466.82 137.59 L467.04 137.66 L467.27 137.74 L467.49 137.82 L467.72 137.91 L467.94 137.99 L468.17 138.08 L468.39 138.17 L468.61 138.25 L468.84 138.34 L469.06 138.43 L469.29 138.52 L469.51 138.61 L469.74 138.71 L469.96 138.80 L470.18 138.82 L470.41 138.72 L470.63 138.62 L470.86 138.52 L471.08 138.42 L471.30 138.32 L471.53 138.22 L471.75 138.12 L471.98 138.03 L472.20 137.93 L472.43 137.83 L472.65 137.74 L472.87 137.65 L473.10 137.55 L473.32 137.46 L473.55 137.38 L473.77 137.29 L473.99 137.21 L474.22 137.13 L474.44 137.05 L474.67 136.98 L474.89 136.91 L475.12 136.85 L475.34 136.80 L475.56 136.76 L475.79 136.73 L476.01 136.71 L476.24 136.70 L476.46 136.71 L476.69 136.73 L476.91 136.77 L477.13 136.81 L477.36 136.87 L477.58 136.93 L477.81 137.00 L478.03 137.08 L478.25 137.16 L478.48 137.24 L478.70 137.33 L478.93 137.41 L479.15 137.50 L479.38 137.60 L479.60 137.69 L479.82 137.78 L480.05 137.88 L480.27 137.98 L480.50 138.07 L480.72 138.17 L480.95 138.27 L481.17 138.37 L481.39 138.47 L481.62 138.57 L481.84 138.53 L482.07 138.49 L482.29 138.45 L482.51 138.41 L482.74 138.37 L482.96 138.33 L483.19 138.30 L483.41 138.26 L483.64 138.22 L483.86 138.18 L484.08 138.15 L484.31 138.11 L484.53 138.07 L484.76 138.04 L484.98 138.01 L485.20 137.97 L485.43 137.94 L485.65 137.91 L485.88 137.89 L486.10 137.86 L486.33 137.84 L486.55 137.83 L486.77 137.81 L487.00 137.81 L487.22 137.81 L487.45 137.81 L487.67 137.82 L487.90 137.84 L488.12 137.86 L488.34 137.89 L488.57 137.91 L488.79 137.95 L489.02 137.98 L489.24 138.01 L489.46 138.05 L489.69 138.09 L489.91 138.13 L490.14 138.17 L490.36 138.21 L490.59 138.25 L490.81 138.29 L491.03 138.34 L491.26 138.38 L491.48 138.42 L491.71 138.46 L491.93 138.51 L492.16 138.55 L492.38 138.60 L492.60 138.64 L492.83 138.61 L493.05 138.55 L493.28 138.49 L493.50 138.43 L493.72 138.37 L493.95 138.31 L494.17 138.24 L494.40 138.18 L494.62 138.12 L494.85 138.07 L495.07 138.01 L495.29 137.95 L495.52 137.89 L495.74 137.83 L495.97 137.78 L496.19 137.73 L496.41 137.67 L496.64 137.62 L496.86 137.57 L497.09 137.53 L497.31 137.49 L497.54 137.45 L497.76 137.41 L497.98 137.38 L498.21 137.36 L498.43 137.34 L498.66 137.33 L498.88 137.33 L499.11 137.34 L499.33 137.35 L499.55 137.38 L499.78 137.41 L500.00 137.44 L500.23 137.48 L500.45 137.52 L500.67 137.57 L500.90 137.62 L501.12 137.67 L501.35 137.72 L501.57 137.77 L501.80 137.83 L502.02 137.88 L502.24 137.94 L502.47 138.00 L502.69 138.06 L502.92 138.11 L503.14 138.17 L503.37 138.23 L503.59 138.29 L503.81 138.35 L504.04 138.41 L504.26 138.47 L504.49 138.54 L504.71 138.52 L504.93 138.50 L505.16 138.48 L505.38 138.46 L505.61 138.44 L505.83 138.42 L506.06 138.40 L506.28 138.38 L506.50 138.36 L506.73 138.34 L506.95 138.32 L507.18 138.31 L507.40 138.29 L507.62 138.27 L507.85 138.25 L508.07 138.24 L508.30 138.22 L508.52 138.21 L508.75 138.19 L508.97 138.18 L509.19 138.17 L509.42 138.16 L509.64 138.15 L509.87 138.15 L510.09 138.15 L510.32 138.15 L510.54 138.15 L510.76 138.16 L510.99 138.17 L511.21 138.18 L511.44 138.19 L511.66 138.20 L511.88 138.22 L512.11 138.24 L512.33 138.26 L512.56 138.27 L512.78 138.29 L513.01 138.31 L513.23 138.33 L513.45 138.35 L513.68 138.37 L513.90 138.40 L514.13 138.42 L514.35 138.44 L514.58 138.46 L514.80 138.48 L515.02 138.50 L515.25 138.53 L515.47 138.55 L515.70 138.57 L515.92 138.53 L516.14 138.50 L516.37 138.46 L516.59 138.42 L516.82 138.39 L517.04 138.35 L517.27 138.32 L517.49 138.28 L517.71 138.24 L517.94 138.21 L518.16 138.18 L518.39 138.14 L518.61 138.11 L518.83 138.08 L519.06 138.04 L519.28 138.01 L519.51 137.98 L519.73 137.95 L519.96 137.93 L520.18 137.90 L520.40 137.88 L520.63 137.86 L520.85 137.84 L521.08 137.82 L521.30 137.81 L521.53 137.81 L521.75 137.81 L521.97 137.81 L522.20 137.82 L522.42 137.83 L522.65 137.85 L522.87 137.87 L523.09 137.89 L523.32 137.91 L523.54 137.94 L523.77 137.97 L523.99 137.99 L524.22 138.02 L524.44 138.05 L524.66 138.09 L524.89 138.12 L525.11 138.15 L525.34 138.18 L525.56 138.21 L525.79 138.25 L526.01 138.28 L526.23 138.31 L526.46 138.35 L526.68 138.38 L526.91 138.42 L527.13 138.45 L527.35 138.48 L527.58 138.47 L527.80 138.46 L528.03 138.45 L528.25 138.44 L528.48 138.43 L528.70 138.42 L528.92 138.41 L529.15 138.39 L529.37 138.38 L529.60 138.37 L529.82 138.36 L530.04 138.35 L530.27 138.34 L530.49 138.33 L530.72 138.32 L530.94 138.31 L531.17 138.30 L531.39 138.30 L531.61 138.29 L531.84 138.28 L532.06 138.27 L532.29 138.27 L532.51 138.27 L532.74 138.26 L532.96 138.26 L533.18 138.27 L533.41 138.27 L533.63 138.27 L533.86 138.28 L534.08 138.29 L534.30 138.30 L534.53 138.30 L534.75 138.31 L534.98 138.32 L535.20 138.33 L535.43 138.34 L535.65 138.36 L535.87 138.37 L536.10 138.38 L536.32 138.39 L536.55 138.40 L536.77 138.41 L537.00 138.42 L537.22 138.44 L537.44 138.45 L537.67 138.46 L537.89 138.47 L538.12 138.48 L538.34 138.46 L538.56 138.44 L538.79 138.42 L539.01 138.40 L539.24 138.38 L539.46 138.36 L539.69 138.34 L539.91 138.32 L540.13 138.30 L540.36 138.28 L540.58 138.26 L540.81 138.24 L541.03 138.22 L541.25 138.20 L541.48 138.18 L541.70 138.17 L541.93 138.15 L542.15 138.14 L542.38 138.12 L542.60 138.11" stroke="#1a1aff"/>
<path d="M318.40 124.74 L318.62 136.45 L318.85 148.16 L319.07 152.25 L319.30 152.54 L319.52 152.83 L319.75 153.12 L319.97 153.41 L320.19 153.70 L320.42 153.99 L320.64 154.28 L320.87 154.58 L321.09 154.87 L321.31 155.16 L321.54 155.45 L321.76 155.74 L321.99 156.03 L322.21 156.32 L322.44 156.61 L322.66 156.90 L322.88 157.19 L323.11 157.48 L323.33 157.77 L323.56 158.06 L323.78 158.35 L324.00 158.64 L324.23 158.93 L324.45 157.17 L324.68 151.31 L324.90 145.48 L325.13 139.68 L325.35 133.93 L325.57 128.26 L325.80 122.67 L326.02 117.18 L326.25 111.80 L326.47 106.55 L326.70 101.44 L326.92 96.49 L327.14 91.71 L327.37 87.10 L327.59 82.68 L327.82 78.46 L328.04 74.45 L328.26 70.65 L328.49 67.07 L328.71 63.72 L328.94 60.60 L329.16 57.72 L329.39 55.08 L329.61 52.68 L329.83 52.99 L330.06 53.91 L330.28 55.40 L330.51 57.40 L330.73 59.85 L330.96 62.68 L331.18 65.83 L331.40 69.24 L331.63 72.88 L331.85 76.71 L332.08 80.68 L332.30 84.79 L332.52 89.00 L332.75 93.30 L332.97 97.67 L333.20 102.11 L333.42 106.61 L333.65 111.16 L333.87 115.75 L334.09 120.37 L334.32 125.03 L334.54 129.72 L334.77 134.43 L334.99 139.16 L335.21 143.91 L335.44 148.68 L335.66 150.60 L335.89 146.78 L336.11 142.99 L336.34 139.21 L336.56 135.45 L336.78 131.72 L337.01 128.02 L337.23 124.35 L337.46 120.72 L337.68 117.14 L337.91 113.61 L338.13 110.14 L338.35 106.76 L338.58 103.48 L338.80 100.32 L339.03 97.30 L339.25 94.47 L339.47 91.87 L339.70 89.56 L339.92 87.60 L340.15 86.07 L340.37 85.03 L340.60 84.55 L340.82 84.62 L341.04 85.15 L341.27 86.11 L341.49 87.46 L341.72 89.14 L341.94 91.11 L342.17 93.32 L342.39 95.73 L342.61 98.29 L342.84 100.99 L343.06 103.80 L343.29 106.70 L343.51 109.68 L343.73 112.72 L343.96 115.81 L344.18 118.94 L344.41 122.12 L344.63 125.33 L344.86 128.56 L345.08 131.82 L345.30 135.11 L345.53 138.41 L345.75 141.73 L345.98 145.06 L346.20 148.41 L346.43 149.69 L346.65 146.82 L346.87 143.97 L347.10 141.13 L347.32 138.30 L347.55 135.50 L347.77 132.71 L347.99 129.94 L348.22 127.20 L348.44 124.49 L348.67 121.81 L348.89 119.18 L349.12 116.60 L349.34 114.08 L349.56 111.63 L349.79 109.27 L350.01 107.02 L350.24 104.91 L350.46 102.96 L350.68 101.21 L350.91 99.71 L351.13 98.50 L351.36 97.64 L351.58 97.16 L351.81 97.09 L352.03 97.39 L352.25 98.03 L352.48 98.99 L352.70 100.22 L352.93 101.69 L353.15 103.36 L353.38 105.20 L353.60 107.17 L353.82 109.25 L354.05 111.42 L354.27 113.66 L354.50 115.97 L354.72 118.34 L354.94 120.74 L355.17 123.18 L355.39 125.66 L355.62 128.16 L355.84 130.69 L356.07 133.23 L356.29 135.79 L356.51 138.37 L356.74 140.96 L356.96 143.57 L357.19 146.18 L357.41 148.81 L357.63 146.53 L357.86 144.25 L358.08 141.99 L358.31 139.73 L358.53 137.49 L358.76 135.26 L358.98 133.04 L359.20 130.85 L359.43 128.67 L359.65 126.52 L359.88 124.40 L360.10 122.30 L360.33 120.25 L360.55 118.24 L360.77 116.29 L361.00 114.40 L361.22 112.59 L361.45 110.88 L361.67 109.28 L361.89 107.83 L362.12 106.55 L362.34 105.47 L362.57 104.64 L362.79 104.08 L363.02 103.82 L363.24 103.88 L363.46 104.24 L363.69 104.91 L363.91 105.83 L364.14 106.99 L364.36 108.33 L364.59 109.83 L364.81 111.46 L365.03 113.18 L365.26 115.00 L365.48 116.88 L365.71 118.82 L365.93 120.80 L366.15 122.82 L366.38 124.88 L366.60 126.96 L366.83 129.07 L367.05 131.19 L367.28 133.34 L367.50 135.50 L367.72 137.67 L367.95 139.85 L368.17 142.04 L368.40 144.25 L368.62 144.04 L368.84 142.64 L369.07 141.24 L369.29 139.84 L369.52 138.45 L369.74 137.07 L369.97 135.70 L370.19 134.34 L370.41 132.98 L370.64 131.64 L370.86 130.32 L371.09 129.01 L371.31 127.72 L371.54 126.45 L371.76 125.21 L371.98 124.00 L372.21 122.83 L372.43 121.70 L372.66 120.63 L372.88 119.62 L373.10 118.69 L373.33 117.86 L373.55 117.14 L373.78 116.55 L374.00 116.11 L374.23 115.84 L374.45 115.74 L374.67 115.86 L374.90 116.19 L375.12 116.72 L375.35 117.42 L375.57 118.28 L375.80 119.26 L376.02 120.35 L376.24 121.52 L376.47 122.75 L376.69 124.04 L376.92 125.38 L377.14 126.75 L377.36 128.16 L377.59 129.59 L377.81 131.04 L378.04 132.51 L378.26 133.99 L378.49 135.49 L378.71 137.00 L378.93 138.52 L379.16 140.05 L379.38 141.58 L379.61 143.13 L379.83 144.68 L380.06 143.34 L380.28 142.00 L380.50 140.67 L380.73 139.35 L380.95 138.03 L381.18 136.72 L381.40 135.42 L381.62 134.13 L381.85 132.85 L382.07 131.59 L382.30 130.34 L382.52 129.10 L382.75 127.89 L382.97 126.70 L383.19 125.54 L383.42 124.42 L383.64 123.34 L383.87 122.31 L384.09 121.34 L384.31 120.44 L384.54 119.63 L384.76 118.93 L384.99 118.36 L385.21 117.94 L385.44 117.67 L385.66 117.58 L385.88 117.66 L386.11 117.90 L386.33 118.29 L386.56 118.81 L386.78 119.44 L387.01 120.17 L387.23 120.98 L387.45 121.85 L387.68 122.78 L387.90 123.75 L388.13 124.75 L388.35 125.79 L388.57 126.85 L388.80 127.93 L389.02 129.03 L389.25 130.15 L389.47 131.28 L389.70 132.42 L389.92 133.57 L390.14 134.72 L390.37 135.89 L390.59 137.06 L390.82 138.24 L391.04 139.42 L391.26 140.61 L391.49 140.46 L391.71 139.65 L391.94 138.85 L392.16 138.04 L392.39 137.25 L392.61 136.45 L392.83 135.67 L393.06 134.89 L393.28 134.11 L393.51 133.35 L393.73 132.60 L393.96 131.86 L394.18 131.13 L394.40 130.43 L394.63 129.74 L394.85 129.08 L395.08 128.46 L395.30 127.88 L395.52 127.34 L395.75 126.87 L395.97 126.47 L396.20 126.16 L396.42 125.95 L396.65 125.85 L396.87 125.87 L397.09 125.99 L397.32 126.21 L397.54 126.51 L397.77 126.89 L397.99 127.33 L398.22 127.83 L398.44 128.38 L398.66 128.96 L398.89 129.58 L399.11 130.22 L399.34 130.88 L399.56 131.56 L399.78 132.25 L400.01 132.96 L400.23 133.68 L400.46 134.40 L400.68 135.14 L400.91 135.88 L401.13 136.63 L401.35 137.38 L401.58 138.14 L401.80 138.90 L402.03 139.66 L402.25 140.43 L402.48 141.20 L402.70 140.93 L402.92 140.13 L403.15 139.34 L403.37 138.55 L403.60 137.77 L403.82 136.99 L404.04 136.21 L404.27 135.45 L404.49 134.69 L404.72 133.93 L404.94 133.19 L405.17 132.46 L405.39 131.74 L405.61 131.04 L405.84 130.36 L406.06 129.70 L406.29 129.07 L406.51 128.48 L406.73 127.93 L406.96 127.43 L407.18 127.00 L407.41 126.64 L407.63 126.38 L407.86 126.21 L408.08 126.15 L408.30 126.20 L408.53 126.33 L408.75 126.54 L408.98 126.82 L409.20 127.16 L409.43 127.56 L409.65 128.00 L409.87 128.48 L410.10 128.99 L410.32 129.53 L410.55 130.09 L410.77 130.66 L410.99 131.25 L411.22 131.86 L411.44 132.47 L411.67 133.10 L411.89 133.73 L412.12 134.37 L412.34 135.01 L412.56 135.66 L412.79 136.31 L413.01 136.97 L413.24 137.63 L413.46 138.30 L413.69 138.97 L413.91 139.64 L414.13 139.92 L414.36 139.43 L414.58 138.95 L414.81 138.46 L415.03 137.98 L415.25 137.50 L415.48 137.03 L415.70 136.56 L415.93 136.09 L416.15 135.63 L416.38 135.18 L416.60 134.73 L416.82 134.29 L417.05 133.87 L417.27 133.46 L417.50 133.06 L417.72 132.69 L417.94 132.34 L418.17 132.02 L418.39 131.75 L418.62 131.52 L418.84 131.35 L419.07 131.24 L419.29 131.21 L419.51 131.24 L419.74 131.33 L419.96 131.48 L420.19 131.69 L420.41 131.94 L420.64 132.22 L420.86 132.54 L421.08 132.88 L421.31 133.24 L421.53 133.62 L421.76 134.02 L421.98 134.42 L422.20 134.84 L422.43 135.26 L422.65 135.70 L422.88 136.13 L423.10 136.58 L423.33 137.02 L423.55 137.47 L423.77 137.93 L424.00 138.38 L424.22 138.84 L424.45 139.31 L424.67 139.77 L424.89 140.23 L425.12 140.08 L425.34 139.61 L425.57 139.14 L425.79 138.68 L426.02 138.22 L426.24 137.76 L426.46 137.30 L426.69 136.85 L426.91 136.40 L427.14 135.95 L427.36 135.51 L427.59 135.08 L427.81 134.65 L428.03 134.23 L428.26 133.82 L428.48 133.42 L428.71 133.04 L428.93 132.67 L429.15 132.33 L429.38 132.00 L429.60 131.71 L429.83 131.45 L430.05 131.23 L430.28 131.07 L430.50 130.95 L430.72 130.90 L430.95 130.91 L431.17 130.98 L431.40 131.10 L431.62 131.27 L431.85 131.49 L432.07 131.74 L432.29 132.02 L432.52 132.33 L432.74 132.65 L432.97 133.00 L433.19 133.35 L433.41 133.72 L433.64 134.10 L433.86 134.49 L434.09 134.88 L434.31 135.28 L434.54 135.69 L434.76 136.09 L434.98 136.51 L435.21 136.92 L435.43 137.34 L435.66 137.76 L435.88 138.18 L436.11 138.61 L436.33 139.03 L436.55 139.23 L436.78 138.97 L437.00 138.71 L437.23 138.45 L437.45 138.19 L437.67 137.93 L437.90 137.68 L438.12 137.43 L438.35 137.17 L438.57 136.93 L438.80 136.68 L439.02 136.44 L439.24 136.21 L439.47 135.98 L439.69 135.75 L439.92 135.54 L440.14 135.33 L440.36 135.14 L440.59 134.96 L440.81 134.80 L441.04 134.66 L441.26 134.55 L441.49 134.47 L441.71 134.43 L441.93 134.42 L442.16 134.45 L442.38 134.52 L442.61 134.62 L442.83 134.75 L443.06 134.91 L443.28 135.08 L443.50 135.28 L443.73 135.48 L443.95 135.70 L444.18 135.93 L444.40 136.16 L444.62 136.40 L444.85 136.65 L445.07 136.90 L445.30 137.15 L445.52 137.41 L445.75 137.67 L445.97 137.93 L446.19 138.19 L446.42 138.46 L446.64 138.72 L446.87 138.99 L447.09 139.26 L447.31 139.53 L447.54 139.45 L447.76 139.18 L447.99 138.91 L448.21 138.65 L448.44 138.39 L448.66 138.12 L448.88 137.86 L449.11 137.61 L449.33 137.35 L449.56 137.09 L449.78 136.84 L450.01 136.59 L450.23 136.34 L450.45 136.10 L450.68 135.86 L450.90 135.63 L451.13 135.40 L451.35 135.18 L451.57 134.97 L451.80 134.77 L452.02 134.58 L452.25 134.40 L452.47 134.24 L452.70 134.10 L452.92 133.99 L453.14 133.90 L453.37 133.84 L453.59 133.81 L453.82 133.82 L454.04 133.86 L454.27 133.94 L454.49 134.04 L454.71 134.18 L454.94 134.34 L455.16 134.51 L455.39 134.70 L455.61 134.91 L455.83 135.12 L456.06 135.34 L456.28 135.57 L456.51 135.81 L456.73 136.05 L456.96 136.29 L457.18 136.54 L457.40 136.79 L457.63 137.04 L457.85 137.30 L458.08 137.55 L458.30 137.81 L458.52 138.07 L458.75 138.33 L458.97 138.60 L459.20 138.86 L459.42 138.72 L459.65 138.58 L459.87 138.44 L460.09 138.29 L460.32 138.16 L460.54 138.02 L460.77 137.88 L460.99 137.74 L461.22 137.61 L461.44 137.47 L461.66 137.34 L461.89 137.21 L462.11 137.09 L462.34 136.96 L462.56 136.84 L462.78 136.73 L463.01 136.62 L463.23 136.51 L463.46 136.42 L463.68 136.33 L463.91 136.26 L464.13 136.20 L464.35 136.16 L464.58 136.14 L464.80 136.14 L465.03 136.16 L465.25 136.20 L465.48 136.26 L465.70 136.34 L465.92 136.44 L466.15 136.55 L466.37 136.67 L466.60 136.79 L466.82 136.93 L467.04 137.07 L467.27 137.21 L467.49 137.36 L467.72 137.51 L467.94 137.67 L468.17 137.82 L468.39 137.98 L468.61 138.14 L468.84 138.30 L469.06 138.46 L469.29 138.62 L469.51 138.79 L469.74 138.95 L469.96 139.12 L470.18 139.17 L470.41 138.98 L470.63 138.80 L470.86 138.62 L471.08 138.44 L471.30 138.26 L471.53 138.08 L471.75 137.90 L471.98 137.73 L472.20 137.55 L472.43 137.38 L472.65 137.21 L472.87 137.04 L473.10 136.87 L473.32 136.71 L473.55 136.55 L473.77 136.39 L473.99 136.24 L474.22 136.10 L474.44 135.96 L474.67 135.83 L474.89 135.71 L475.12 135.61 L475.34 135.52 L475.56 135.44 L475.79 135.38 L476.01 135.35 L476.24 135.34 L476.46 135.35 L476.69 135.39 L476.91 135.45 L477.13 135.53 L477.36 135.63 L477.58 135.75 L477.81 135.87 L478.03 136.01 L478.25 136.15 L478.48 136.30 L478.70 136.46 L478.93 136.62 L479.15 136.78 L479.38 136.95 L479.60 137.12 L479.82 137.29 L480.05 137.46 L480.27 137.64 L480.50 137.81 L480.72 137.99 L480.95 138.17 L481.17 138.35 L481.39 138.53 L481.62 138.71 L481.84 138.63 L482.07 138.56 L482.29 138.49 L482.51 138.42 L482.74 138.35 L482.96 138.28 L483.19 138.21 L483.41 138.14 L483.64 138.07 L483.86 138.01 L484.08 137.94 L484.31 137.87 L484.53 137.81 L484.76 137.75 L484.98 137.69 L485.20 137.63 L485.43 137.57 L485.65 137.52 L485.88 137.47 L486.10 137.43 L486.33 137.39 L486.55 137.36 L486.77 137.34 L487.00 137.33 L487.22 137.33 L487.45 137.34 L487.67 137.36 L487.90 137.39 L488.12 137.43 L488.34 137.47 L488.57 137.52 L488.79 137.58 L489.02 137.64 L489.24 137.70 L489.46 137.77 L489.69 137.84 L489.91 137.91 L490.14 137.98 L490.36 138.06 L490.59 138.13 L490.81 138.21 L491.03 138.28 L491.26 138.36 L491.48 138.44 L491.71 138.52 L491.93 138.59 L492.16 138.67 L492.38 138.75 L492.60 138.83 L492.83 138.78 L493.05 138.67 L493.28 138.56 L493.50 138.45 L493.72 138.34 L493.95 138.23 L494.17 138.12 L494.40 138.01 L494.62 137.90 L494.85 137.80 L495.07 137.69 L495.29 137.58 L495.52 137.48 L495.74 137.38 L495.97 137.28 L496.19 137.18 L496.41 137.09 L496.64 137.00 L496.86 136.91 L497.09 136.83 L497.31 136.75 L497.54 136.68 L497.76 136.62 L497.98 136.56 L498.21 136.52 L498.43 136.49 L498.66 136.47 L498.88 136.47 L499.11 136.48 L499.33 136.51 L499.55 136.55 L499.78 136.60 L500.00 136.67 L500.23 136.74 L500.45 136.81 L500.67 136.90 L500.90 136.98 L501.12 137.07 L501.35 137.17 L501.57 137.27 L501.80 137.36 L502.02 137.47 L502.24 137.57 L502.47 137.67 L502.69 137.78 L502.92 137.88 L503.14 137.99 L503.37 138.10 L503.59 138.21 L503.81 138.32 L504.04 138.42 L504.26 138.53 L504.49 138.64 L504.71 138.61 L504.93 138.57 L505.16 138.54 L505.38 138.50 L505.61 138.47 L505.83 138.43 L506.06 138.40 L506.28 138.36 L506.50 138.33 L506.73 138.30 L506.95 138.26 L507.18 138.23 L507.40 138.20 L507.62 138.17 L507.85 138.14 L508.07 138.11 L508.30 138.08 L508.52 138.05 L508.75 138.03 L508.97 138.00 L509.19 137.98 L509.42 137.97 L509.64 137.95 L509.87 137.95 L510.09 137.94 L510.32 137.94 L510.54 137.95 L510.76 137.96 L510.99 137.98 L511.21 138.00 L511.44 138.02 L511.66 138.05 L511.88 138.08 L512.11 138.11 L512.33 138.14 L512.56 138.17 L512.78 138.21 L513.01 138.24 L513.23 138.28 L513.45 138.32 L513.68 138.35 L513.90 138.39 L514.13 138.43 L514.35 138.47 L514.58 138.51 L514.80 138.55 L515.02 138.59 L515.25 138.63 L515.47 138.67 L515.70 138.71 L515.92 138.64 L516.14 138.57 L516.37 138.51 L516.59 138.44 L516.82 138.38 L517.04 138.31 L517.27 138.25 L517.49 138.18 L517.71 138.12 L517.94 138.06 L518.16 137.99 L518.39 137.93 L518.61 137.87 L518.83 137.81 L519.06 137.76 L519.28 137.70 L519.51 137.64 L519.73 137.59 L519.96 137.54 L520.18 137.50 L520.40 137.45 L520.63 137.42 L520.85 137.38 L521.08 137.36 L521.30 137.34 L521.53 137.33 L521.75 137.33 L521.97 137.34 L522.20 137.35 L522.42 137.37 L522.65 137.40 L522.87 137.44 L523.09 137.48 L523.32 137.52 L523.54 137.57 L523.77 137.62 L523.99 137.67 L524.22 137.72 L524.44 137.78 L524.66 137.83 L524.89 137.89 L525.11 137.95 L525.34 138.01 L525.56 138.06 L525.79 138.12 L526.01 138.18 L526.23 138.25 L526.46 138.31 L526.68 138.37 L526.91 138.43 L527.13 138.49 L527.35 138.55 L527.58 138.53 L527.80 138.51 L528.03 138.49 L528.25 138.47 L528.48 138.45 L528.70 138.43 L528.92 138.41 L529.15 138.39 L529.37 138.37 L529.60 138.35 L529.82 138.33 L530.04 138.31 L530.27 138.29 L530.49 138.28 L530.72 138.26 L530.94 138.24 L531.17 138.23 L531.39 138.21 L531.61 138.20 L531.84 138.18 L532.06 138.17 L532.29 138.17 L532.51 138.16 L532.74 138.16 L532.96 138.16 L533.18 138.16 L533.41 138.16 L533.63 138.17 L533.86 138.18 L534.08 138.20 L534.30 138.21 L534.53 138.23 L534.75 138.24 L534.98 138.26 L535.20 138.28 L535.43 138.30 L535.65 138.32 L535.87 138.34 L536.10 138.36 L536.32 138.38 L536.55 138.40 L536.77 138.42 L537.00 138.44 L537.22 138.47 L537.44 138.49 L537.67 138.51 L537.89 138.53 L538.12 138.55 L538.34 138.51 L538.56 138.48 L538.79 138.44 L539.01 138.40 L539.24 138.36 L539.46 138.32 L539.69 138.29 L539.91 138.25 L540.13 138.21 L540.36 138.18 L540.58 138.14 L540.81 138.11 L541.03 138.07 L541.25 138.04 L541.48 138.01 L541.70 137.98 L541.93 137.95 L542.15 137.92 L542.38 137.90 L542.60 137.88" stroke="#1aff1a"/>
<path d="M318.40 116.26 L318.62 134.73 L318.85 153.20 L319.07 159.67 L319.30 160.13 L319.52 160.60 L319.75 161.06 L319.97 161.53 L320.19 161.99 L320.42 162.46 L320.64 162.92 L320.87 163.39 L321.09 163.85 L321.31 164.31 L321.54 164.78 L321.76 165.24 L321.99 165.71 L322.21 166.17 L322.44 166.64 L322.66 167.10 L322.88 167.57 L323.11 168.03 L323.33 168.50 L323.56 168.96 L323.78 169.42 L324.00 169.89 L324.23 170.35 L324.45 167.68 L324.68 158.76 L324.90 149.86 L325.13 141.02 L325.35 132.26 L325.57 123.61 L325.80 115.09 L326.02 106.72 L326.25 98.52 L326.47 90.52 L326.70 82.74 L326.92 75.19 L327.14 67.90 L327.37 60.87 L327.59 54.14 L327.82 47.70 L328.04 41.59 L328.26 35.79 L328.49 30.34 L328.71 25.24 L328.94 20.48 L329.16 16.09 L329.39 12.06 L329.61 8.40 L329.83 8.88 L330.06 10.27 L330.28 12.54 L330.51 15.58 L330.73 19.30 L330.96 23.60 L331.18 28.38 L331.40 33.58 L331.63 39.11 L331.85 44.91 L332.08 50.96 L332.30 57.19 L332.52 63.59 L332.75 70.12 L332.97 76.77 L333.20 83.52 L333.42 90.36 L333.65 97.27 L333.87 104.24 L334.09 111.27 L334.32 118.34 L334.54 125.46 L334.77 132.62 L334.99 139.81 L335.21 147.03 L335.44 154.28 L335.66 157.16 L335.89 151.30 L336.11 145.46 L336.34 139.64 L336.56 133.87 L336.78 128.13 L337.01 122.43 L337.23 116.78 L337.46 111.20 L337.68 105.69 L337.91 100.26 L338.13 94.93 L338.35 89.73 L338.58 84.68 L338.80 79.81 L339.03 75.17 L339.25 70.82 L339.47 66.82 L339.70 63.27 L339.92 60.25 L340.15 57.90 L340.37 56.30 L340.60 55.55 L340.82 55.66 L341.04 56.48 L341.27 57.96 L341.49 60.03 L341.72 62.62 L341.94 65.65 L342.17 69.05 L342.39 72.75 L342.61 76.70 L342.84 80.85 L343.06 85.18 L343.29 89.64 L343.51 94.21 L343.73 98.89 L343.96 103.64 L344.18 108.47 L344.41 113.35 L344.63 118.29 L344.86 123.27 L345.08 128.28 L345.30 133.33 L345.53 138.41 L345.75 143.52 L345.98 148.65 L346.20 153.80 L346.43 155.77 L346.65 151.36 L346.87 146.97 L347.10 142.60 L347.32 138.25 L347.55 133.93 L347.77 129.64 L347.99 125.38 L348.22 121.17 L348.44 117.00 L348.67 112.88 L348.89 108.83 L349.12 104.86 L349.34 100.98 L349.56 97.22 L349.79 93.59 L350.01 90.13 L350.24 86.87 L350.46 83.87 L350.68 81.19 L350.91 78.88 L351.13 77.02 L351.36 75.69 L351.58 74.96 L351.81 74.85 L352.03 75.31 L352.25 76.29 L352.48 77.77 L352.70 79.67 L352.93 81.93 L353.15 84.50 L353.38 87.32 L353.60 90.35 L353.82 93.55 L354.05 96.89 L354.27 100.35 L354.50 103.90 L354.72 107.53 L354.94 111.23 L355.17 114.99 L355.39 118.80 L355.62 122.65 L355.84 126.53 L356.07 130.45 L356.29 134.39 L356.51 138.36 L356.74 142.35 L356.96 146.35 L357.19 150.38 L357.41 154.41 L357.63 150.90 L357.86 147.40 L358.08 143.92 L358.31 140.45 L358.53 137.00 L358.76 133.57 L358.98 130.16 L359.20 126.78 L359.43 123.43 L359.65 120.12 L359.88 116.85 L360.10 113.63 L360.33 110.47 L360.55 107.38 L360.77 104.38 L361.00 101.47 L361.22 98.69 L361.45 96.05 L361.67 93.60 L361.89 91.37 L362.12 89.40 L362.34 87.74 L362.57 86.46 L362.79 85.60 L363.02 85.20 L363.24 85.29 L363.46 85.85 L363.69 86.87 L363.91 88.30 L364.14 90.07 L364.36 92.14 L364.59 94.45 L364.81 96.95 L365.03 99.61 L365.26 102.40 L365.48 105.29 L365.71 108.27 L365.93 111.32 L366.15 114.44 L366.38 117.60 L366.60 120.80 L366.83 124.04 L367.05 127.31 L367.28 130.61 L367.50 133.93 L367.72 137.27 L367.95 140.63 L368.17 144.01 L368.40 147.39 L368.62 147.08 L368.84 144.92 L369.07 142.76 L369.29 140.62 L369.52 138.48 L369.74 136.36 L369.97 134.24 L370.19 132.15 L370.41 130.07 L370.64 128.00 L370.86 125.96 L371.09 123.95 L371.31 121.96 L371.54 120.01 L371.76 118.11 L371.98 116.24 L372.21 114.44 L372.43 112.71 L372.66 111.06 L372.88 109.51 L373.10 108.08 L373.33 106.80 L373.55 105.69 L373.78 104.78 L374.00 104.10 L374.23 103.69 L374.45 103.55 L374.67 103.72 L374.90 104.23 L375.12 105.04 L375.35 106.13 L375.57 107.45 L375.80 108.96 L376.02 110.63 L376.24 112.43 L376.47 114.33 L376.69 116.31 L376.92 118.37 L377.14 120.48 L377.36 122.64 L377.59 124.84 L377.81 127.07 L378.04 129.33 L378.26 131.62 L378.49 133.92 L378.71 136.24 L378.93 138.58 L379.16 140.93 L379.38 143.30 L379.61 145.67 L379.83 148.06 L380.06 146.00 L380.28 143.94 L380.50 141.90 L380.73 139.86 L380.95 137.84 L381.18 135.82 L381.40 133.82 L381.62 131.84 L381.85 129.87 L382.07 127.92 L382.30 126.00 L382.52 124.10 L382.75 122.23 L382.97 120.40 L383.19 118.62 L383.42 116.89 L383.64 115.23 L383.87 113.64 L384.09 112.15 L384.31 110.77 L384.54 109.53 L384.76 108.45 L384.99 107.57 L385.21 106.92 L385.44 106.51 L385.66 106.37 L385.88 106.50 L386.11 106.87 L386.33 107.46 L386.56 108.26 L386.78 109.23 L387.01 110.35 L387.23 111.60 L387.45 112.94 L387.68 114.36 L387.90 115.85 L388.13 117.40 L388.35 119.00 L388.57 120.63 L388.80 122.30 L389.02 123.99 L389.25 125.70 L389.47 127.44 L389.70 129.19 L389.92 130.96 L390.14 132.74 L390.37 134.54 L390.59 136.34 L390.82 138.15 L391.04 139.97 L391.26 141.79 L391.49 141.57 L391.71 140.33 L391.94 139.09 L392.16 137.85 L392.39 136.62 L392.61 135.40 L392.83 134.19 L393.06 132.99 L393.28 131.81 L393.51 130.63 L393.73 129.47 L393.96 128.33 L394.18 127.22 L394.40 126.13 L394.63 125.08 L394.85 124.07 L395.08 123.11 L395.30 122.21 L395.52 121.39 L395.75 120.66 L395.97 120.05 L396.20 119.57 L396.42 119.25 L396.65 119.10 L396.87 119.12 L397.09 119.31 L397.32 119.64 L397.54 120.11 L397.77 120.69 L397.99 121.38 L398.22 122.14 L398.44 122.98 L398.66 123.88 L398.89 124.83 L399.11 125.81 L399.34 126.83 L399.56 127.88 L399.78 128.94 L400.01 130.03 L400.23 131.13 L400.46 132.25 L400.68 133.38 L400.91 134.52 L401.13 135.67 L401.35 136.83 L401.58 138.00 L401.80 139.17 L402.03 140.35 L402.25 141.53 L402.48 142.71 L402.70 142.29 L402.92 141.07 L403.15 139.85 L403.37 138.64 L403.60 137.43 L403.82 136.23 L404.04 135.04 L404.27 133.86 L404.49 132.68 L404.72 131.53 L404.94 130.38 L405.17 129.26 L405.39 128.16 L405.61 127.08 L405.84 126.03 L406.06 125.02 L406.29 124.05 L406.51 123.14 L406.73 122.29 L406.96 121.52 L407.18 120.86 L407.41 120.31 L407.63 119.90 L407.86 119.65 L408.08 119.56 L408.30 119.63 L408.53 119.83 L408.75 120.15 L408.98 120.58 L409.20 121.11 L409.43 121.72 L409.65 122.40 L409.87 123.14 L410.10 123.93 L410.32 124.75 L410.55 125.61 L410.77 126.50 L410.99 127.41 L411.22 128.34 L411.44 129.28 L411.67 130.24 L411.89 131.21 L412.12 132.19 L412.34 133.19 L412.56 134.19 L412.79 135.19 L413.01 136.20 L413.24 137.22 L413.46 138.24 L413.69 139.27 L413.91 140.30 L414.13 140.74 L414.36 139.99 L414.58 139.24 L414.81 138.50 L415.03 137.76 L415.25 137.02 L415.48 136.29 L415.70 135.56 L415.93 134.85 L416.15 134.14 L416.38 133.44 L416.60 132.75 L416.82 132.08 L417.05 131.43 L417.27 130.79 L417.50 130.19 L417.72 129.61 L417.94 129.08 L418.17 128.59 L418.39 128.17 L418.62 127.82 L418.84 127.55 L419.07 127.39 L419.29 127.33 L419.51 127.38 L419.74 127.53 L419.96 127.76 L420.19 128.07 L420.41 128.45 L420.64 128.89 L420.86 129.38 L421.08 129.91 L421.31 130.46 L421.53 131.05 L421.76 131.66 L421.98 132.28 L422.20 132.92 L422.43 133.58 L422.65 134.24 L422.88 134.91 L423.10 135.59 L423.33 136.28 L423.55 136.97 L423.77 137.67 L424.00 138.38 L424.22 139.08 L424.45 139.79 L424.67 140.51 L424.89 141.22 L425.12 140.98 L425.34 140.26 L425.57 139.54 L425.79 138.83 L426.02 138.12 L426.24 137.41 L426.46 136.71 L426.69 136.01 L426.91 135.32 L427.14 134.63 L427.36 133.96 L427.59 133.29 L427.81 132.63 L428.03 131.99 L428.26 131.36 L428.48 130.75 L428.71 130.15 L428.93 129.59 L429.15 129.05 L429.38 128.56 L429.60 128.11 L429.83 127.71 L430.05 127.38 L430.28 127.12 L430.50 126.95 L430.72 126.87 L430.95 126.88 L431.17 126.98 L431.40 127.17 L431.62 127.44 L431.85 127.77 L432.07 128.15 L432.29 128.59 L432.52 129.06 L432.74 129.56 L432.97 130.09 L433.19 130.64 L433.41 131.21 L433.64 131.79 L433.86 132.38 L434.09 132.99 L434.31 133.60 L434.54 134.23 L434.76 134.85 L434.98 135.49 L435.21 136.13 L435.43 136.77 L435.66 137.42 L435.88 138.07 L436.11 138.72 L436.33 139.37 L436.55 139.68 L436.78 139.28 L437.00 138.87 L437.23 138.47 L437.45 138.08 L437.67 137.68 L437.90 137.29 L438.12 136.90 L438.35 136.51 L438.57 136.13 L438.80 135.76 L439.02 135.39 L439.24 135.02 L439.47 134.67 L439.69 134.33 L439.92 133.99 L440.14 133.68 L440.36 133.38 L440.59 133.11 L440.81 132.86 L441.04 132.65 L441.26 132.48 L441.49 132.36 L441.71 132.29 L441.93 132.28 L442.16 132.33 L442.38 132.43 L442.61 132.59 L442.83 132.79 L443.06 133.03 L443.28 133.30 L443.50 133.59 L443.73 133.91 L443.95 134.25 L444.18 134.59 L444.40 134.95 L444.62 135.32 L444.85 135.70 L445.07 136.09 L445.30 136.48 L445.52 136.87 L445.75 137.27 L445.97 137.67 L446.19 138.08 L446.42 138.49 L446.64 138.90 L446.87 139.31 L447.09 139.73 L447.31 140.14 L447.54 140.01 L447.76 139.60 L447.99 139.19 L448.21 138.78 L448.44 138.38 L448.66 137.98 L448.88 137.58 L449.11 137.18 L449.33 136.78 L449.56 136.39 L449.78 136.00 L450.01 135.62 L450.23 135.24 L450.45 134.86 L450.68 134.50 L450.90 134.14 L451.13 133.79 L451.35 133.45 L451.57 133.12 L451.80 132.81 L452.02 132.52 L452.25 132.25 L452.47 132.00 L452.70 131.79 L452.92 131.61 L453.14 131.47 L453.37 131.38 L453.59 131.34 L453.82 131.35 L454.04 131.41 L454.27 131.53 L454.49 131.70 L454.71 131.91 L454.94 132.15 L455.16 132.42 L455.39 132.71 L455.61 133.03 L455.83 133.36 L456.06 133.70 L456.28 134.05 L456.51 134.41 L456.73 134.78 L456.96 135.16 L457.18 135.54 L457.40 135.92 L457.63 136.31 L457.85 136.70 L458.08 137.10 L458.30 137.50 L458.52 137.90 L458.75 138.30 L458.97 138.70 L459.20 139.11 L459.42 138.89 L459.65 138.67 L459.87 138.45 L460.09 138.24 L460.32 138.02 L460.54 137.81 L460.77 137.60 L460.99 137.39 L461.22 137.18 L461.44 136.98 L461.66 136.77 L461.89 136.58 L462.11 136.38 L462.34 136.19 L462.56 136.00 L462.78 135.83 L463.01 135.66 L463.23 135.50 L463.46 135.35 L463.68 135.22 L463.91 135.11 L464.13 135.02 L464.35 134.96 L464.58 134.92 L464.80 134.92 L465.03 134.95 L465.25 135.01 L465.48 135.11 L465.70 135.24 L465.92 135.38 L466.15 135.55 L466.37 135.73 L466.60 135.93 L466.82 136.14 L467.04 136.35 L467.27 136.57 L467.49 136.80 L467.72 137.03 L467.94 137.27 L468.17 137.51 L468.39 137.75 L468.61 138.00 L468.84 138.24 L469.06 138.49 L469.29 138.74 L469.51 138.99 L469.74 139.25 L469.96 139.50 L470.18 139.58 L470.41 139.30 L470.63 139.02 L470.86 138.74 L471.08 138.46 L471.30 138.18 L471.53 137.91 L471.75 137.64 L471.98 137.36 L472.20 137.10 L472.43 136.83 L472.65 136.57 L472.87 136.31 L473.10 136.05 L473.32 135.80 L473.55 135.55 L473.77 135.31 L473.99 135.08 L474.22 134.86 L474.44 134.65 L474.67 134.45 L474.89 134.27 L475.12 134.10 L475.34 133.96 L475.56 133.85 L475.79 133.76 L476.01 133.71 L476.24 133.69 L476.46 133.71 L476.69 133.77 L476.91 133.86 L477.13 133.99 L477.36 134.14 L477.58 134.32 L477.81 134.51 L478.03 134.72 L478.25 134.95 L478.48 135.18 L478.70 135.42 L478.93 135.66 L479.15 135.91 L479.38 136.17 L479.60 136.43 L479.82 136.69 L480.05 136.96 L480.27 137.23 L480.50 137.50 L480.72 137.77 L480.95 138.04 L481.17 138.32 L481.39 138.59 L481.62 138.87 L481.84 138.76 L482.07 138.65 L482.29 138.54 L482.51 138.43 L482.74 138.32 L482.96 138.22 L483.19 138.11 L483.41 138.00 L483.64 137.90 L483.86 137.79 L484.08 137.69 L484.31 137.59 L484.53 137.49 L484.76 137.40 L484.98 137.30 L485.20 137.21 L485.43 137.13 L485.65 137.05 L485.88 136.97 L486.10 136.91 L486.33 136.85 L486.55 136.81 L486.77 136.77 L487.00 136.75 L487.22 136.75 L487.45 136.77 L487.67 136.80 L487.90 136.84 L488.12 136.90 L488.34 136.97 L488.57 137.05 L488.79 137.14 L489.02 137.23 L489.24 137.33 L489.46 137.43 L489.69 137.54 L489.91 137.65 L490.14 137.76 L490.36 137.87 L490.59 137.99 L490.81 138.10 L491.03 138.22 L491.26 138.34 L491.48 138.46 L491.71 138.58 L491.93 138.70 L492.16 138.82 L492.38 138.94 L492.60 139.07 L492.83 138.99 L493.05 138.82 L493.28 138.65 L493.50 138.48 L493.72 138.31 L493.95 138.14 L494.17 137.97 L494.40 137.80 L494.62 137.63 L494.85 137.47 L495.07 137.31 L495.29 137.15 L495.52 136.99 L495.74 136.83 L495.97 136.68 L496.19 136.53 L496.41 136.38 L496.64 136.24 L496.86 136.11 L497.09 135.98 L497.31 135.86 L497.54 135.75 L497.76 135.66 L497.98 135.57 L498.21 135.51 L498.43 135.46 L498.66 135.44 L498.88 135.43 L499.11 135.45 L499.33 135.49 L499.55 135.56 L499.78 135.64 L500.00 135.73 L500.23 135.84 L500.45 135.96 L500.67 136.09 L500.90 136.22 L501.12 136.36 L501.35 136.51 L501.57 136.65 L501.80 136.81 L502.02 136.96 L502.24 137.12 L502.47 137.28 L502.69 137.44 L502.92 137.61 L503.14 137.77 L503.37 137.94 L503.59 138.10 L503.81 138.27 L504.04 138.44 L504.26 138.61 L504.49 138.78 L504.71 138.72 L504.93 138.67 L505.16 138.61 L505.38 138.56 L505.61 138.50 L505.83 138.45 L506.06 138.40 L506.28 138.34 L506.50 138.29 L506.73 138.24 L506.95 138.19 L507.18 138.14 L507.40 138.09 L507.62 138.04 L507.85 137.99 L508.07 137.95 L508.30 137.90 L508.52 137.86 L508.75 137.83 L508.97 137.79 L509.19 137.76 L509.42 137.73 L509.64 137.71 L509.87 137.70 L510.09 137.69 L510.32 137.70 L510.54 137.71 L510.76 137.72 L510.99 137.75 L511.21 137.78 L511.44 137.82 L511.66 137.86 L511.88 137.90 L512.11 137.95 L512.33 138.00 L512.56 138.05 L512.78 138.11 L513.01 138.16 L513.23 138.22 L513.45 138.27 L513.68 138.33 L513.90 138.39 L514.13 138.45 L514.35 138.51 L514.58 138.57 L514.80 138.63 L515.02 138.69 L515.25 138.75 L515.47 138.81 L515.70 138.87 L515.92 138.77 L516.14 138.67 L516.37 138.57 L516.59 138.46 L516.82 138.36 L517.04 138.26 L517.27 138.16 L517.49 138.07 L517.71 137.97 L517.94 137.87 L518.16 137.78 L518.39 137.68 L518.61 137.59 L518.83 137.50 L519.06 137.41 L519.28 137.32 L519.51 137.24 L519.73 137.16 L519.96 137.08 L520.18 137.01 L520.40 136.94 L520.63 136.89 L520.85 136.84 L521.08 136.80 L521.30 136.77 L521.53 136.75 L521.75 136.75 L521.97 136.76 L522.20 136.79 L522.42 136.82 L522.65 136.87 L522.87 136.92 L523.09 136.98 L523.32 137.05 L523.54 137.12 L523.77 137.19 L523.99 137.27 L524.22 137.36 L524.44 137.44 L524.66 137.53 L524.89 137.61 L525.11 137.70 L525.34 137.79 L525.56 137.88 L525.79 137.98 L526.01 138.07 L526.23 138.16 L526.46 138.26 L526.68 138.35 L526.91 138.44 L527.13 138.54 L527.35 138.64 L527.58 138.60 L527.80 138.57 L528.03 138.54 L528.25 138.51 L528.48 138.48 L528.70 138.45 L528.92 138.42 L529.15 138.38 L529.37 138.35 L529.60 138.32 L529.82 138.29 L530.04 138.27 L530.27 138.24 L530.49 138.21 L530.72 138.18 L530.94 138.16 L531.17 138.13 L531.39 138.11 L531.61 138.09 L531.84 138.07 L532.06 138.05 L532.29 138.04 L532.51 138.03 L532.74 138.02 L532.96 138.02 L533.18 138.03 L533.41 138.04 L533.63 138.05 L533.86 138.07 L534.08 138.09 L534.30 138.11 L534.53 138.13 L534.75 138.16 L534.98 138.19 L535.20 138.22 L535.43 138.25 L535.65 138.28 L535.87 138.31 L536.10 138.34 L536.32 138.37 L536.55 138.40 L536.77 138.44 L537.00 138.47 L537.22 138.50 L537.44 138.53 L537.67 138.57 L537.89 138.60 L538.12 138.64 L538.34 138.58 L538.56 138.52 L538.79 138.46 L539.01 138.40 L539.24 138.34 L539.46 138.28 L539.69 138.22 L539.91 138.17 L540.13 138.11 L540.36 138.06 L540.58 138.00 L540.81 137.95 L541.03 137.89 L541.25 137.84 L541.48 137.79 L541.70 137.75 L541.93 137.70 L542.15 137.66 L542.38 137.63 L542.60 137.60" stroke="#ff1aff"/>
</g>
<rect x="473.1" y="8.2" width="70.5" height="60.3" fill="#fff" stroke="#b8b8b8" stroke-width="0.9"/>
<path d="M477.8 15.1 H495.5" stroke="#000000" stroke-width="1.1"/>
<path d="M477.8 26.9 H495.5" stroke="#ff1a1a" stroke-width="1.1"/>
<path d="M477.8 38.9 H495.5" stroke="#1a1aff" stroke-width="1.1"/>
<path d="M477.8 51.1 H495.5" stroke="#1aff1a" stroke-width="1.1"/>
<path d="M477.8 62.9 H495.5" stroke="#ff1aff" stroke-width="1.1"/>
<g font-family='"Liberation Serif", "Noto Serif CJK SC", serif' font-size="9.8" fill="#111" stroke="#111" stroke-width="0.18">
<text x="498.2" y="17.9">Re=13,900</text>
<text x="498.2" y="29.7">Re=28,400</text>
<text x="498.2" y="41.7">Re=41,000</text>
<text x="498.2" y="53.9">Re=56,000</text>
<text x="498.2" y="65.7">Re=69,700</text>
</g>
<g font-family='"Liberation Serif", "Noto Serif CJK SC", serif' font-size="9.8" fill="#111" stroke="#111" stroke-width="0.15">
<text transform="translate(294.6 85.8) rotate(-90)" text-anchor="middle">Friction Work(J/s)</text>
<text x="430.5" y="196" text-anchor="middle">Time(s)</text>
</g>
<text x="417.3" y="214.6" text-anchor="middle" font-family='"Liberation Serif", "Noto Serif CJK SC", serif' font-size="14.6" fill="#111">(<tspan font-weight="bold">b</tspan>)</text>
<path d="M35.20 226.40 V392.50 H260.80" fill="none" stroke="#333" stroke-width="1"/>
<path d="M35.20 392.50 h-3.3 M35.20 364.82 h-3.3 M35.20 337.13 h-3.3 M35.20 309.45 h-3.3 M35.20 281.77 h-3.3 M35.20 254.08 h-3.3 M35.20 226.40 h-3.3 M35.20 378.66 h-1.9 M35.20 350.98 h-1.9 M35.20 323.29 h-1.9 M35.20 295.61 h-1.9 M35.20 267.93 h-1.9 M35.20 240.24 h-1.9 M35.20 392.50 v3.5 M80.32 392.50 v3.5 M125.44 392.50 v3.5 M170.56 392.50 v3.5 M215.68 392.50 v3.5 M260.80 392.50 v3.5 M57.76 392.50 v2.1 M102.88 392.50 v2.1 M148.00 392.50 v2.1 M193.12 392.50 v2.1 M238.24 392.50 v2.1" fill="none" stroke="#333" stroke-width="0.9"/>
<g font-family='"Liberation Serif", "Noto Serif CJK SC", serif' font-size="7.4" fill="#505050">
<text transform="translate(29.0 395.4) scale(1.04 1)" text-anchor="end">0</text>
<text transform="translate(29.0 367.7) scale(1.04 1)" text-anchor="end">5</text>
<text transform="translate(29.0 340.0) scale(1.04 1)" text-anchor="end">10</text>
<text transform="translate(29.0 312.3) scale(1.04 1)" text-anchor="end">15</text>
<text transform="translate(29.0 284.7) scale(1.04 1)" text-anchor="end">20</text>
<text transform="translate(29.0 257.0) scale(1.04 1)" text-anchor="end">25</text>
<text transform="translate(29.0 229.3) scale(1.04 1)" text-anchor="end">30</text>
<text transform="translate(35.4 404.5) scale(1.04 1)" text-anchor="middle">0</text>
<text transform="translate(80.5 404.5) scale(1.04 1)" text-anchor="middle">3</text>
<text transform="translate(125.6 404.5) scale(1.04 1)" text-anchor="middle">6</text>
<text transform="translate(170.8 404.5) scale(1.04 1)" text-anchor="middle">9</text>
<text transform="translate(215.9 404.5) scale(1.04 1)" text-anchor="middle">12</text>
<text transform="translate(261.0 404.5) scale(1.04 1)" text-anchor="middle">15</text>
</g>
<g fill="none" stroke-width="1.15" stroke-linejoin="round" stroke-linecap="butt">
<path d="M35.20 392.50 L35.43 391.34 L35.65 391.24 L35.88 391.10 L36.10 390.94 L36.33 390.75 L36.55 390.54 L36.78 390.33 L37.00 390.12 L37.23 389.93 L37.46 389.75 L37.68 389.60 L37.91 389.49 L38.13 389.42 L38.36 389.37 L38.58 389.30 L38.81 389.20 L39.04 389.07 L39.26 388.93 L39.49 388.79 L39.71 388.66 L39.94 388.56 L40.16 388.49 L40.39 388.44 L40.61 388.37 L40.84 388.28 L41.07 388.17 L41.29 388.04 L41.52 387.88 L41.74 387.71 L41.97 387.52 L42.19 387.32 L42.42 387.10 L42.64 386.87 L42.87 386.64 L43.10 386.41 L43.32 386.17 L43.55 385.93 L43.77 385.70 L44.00 385.48 L44.22 385.27 L44.45 385.07 L44.68 384.88 L44.90 384.72 L45.13 384.57 L45.35 384.44 L45.58 384.34 L45.80 384.25 L46.03 384.19 L46.25 384.29 L46.48 384.41 L46.71 384.57 L46.93 384.77 L47.16 385.00 L47.38 385.25 L47.61 385.53 L47.83 385.84 L48.06 386.17 L48.28 386.51 L48.51 386.87 L48.74 387.23 L48.96 387.60 L49.19 387.97 L49.41 388.33 L49.64 388.69 L49.86 389.03 L50.09 389.36 L50.32 389.67 L50.54 389.95 L50.77 390.20 L50.99 390.43 L51.22 390.63 L51.44 390.79 L51.67 390.91 L51.89 391.01 L52.12 390.99 L52.35 390.96 L52.57 390.92 L52.80 390.88 L53.02 390.83 L53.25 390.77 L53.47 390.71 L53.70 390.64 L53.92 390.57 L54.15 390.50 L54.38 390.42 L54.60 390.34 L54.83 390.27 L55.05 390.19 L55.28 390.12 L55.50 390.05 L55.73 389.99 L55.96 389.93 L56.18 389.87 L56.41 389.83 L56.63 389.79 L56.86 389.76 L57.08 389.74 L57.31 389.75 L57.53 389.78 L57.76 389.82 L57.99 389.87 L58.21 389.93 L58.44 390.00 L58.66 390.08 L58.89 390.16 L59.11 390.25 L59.34 390.35 L59.56 390.44 L59.79 390.54 L60.02 390.65 L60.24 390.75 L60.47 390.85 L60.69 390.94 L60.92 391.04 L61.14 391.13 L61.37 391.21 L61.60 391.29 L61.82 391.36 L62.05 391.42 L62.27 391.47 L62.50 391.51 L62.72 391.54 L62.95 391.55 L63.17 391.49 L63.40 391.42 L63.63 391.32 L63.85 391.21 L64.08 391.08 L64.30 390.94 L64.53 390.78 L64.75 390.62 L64.98 390.44 L65.20 390.26 L65.43 390.07 L65.66 389.88 L65.88 389.70 L66.11 389.52 L66.33 389.34 L66.56 389.18 L66.78 389.03 L67.01 388.89 L67.24 388.77 L67.46 388.66 L67.69 388.57 L67.91 388.51 L68.14 388.46 L68.36 388.50 L68.59 388.56 L68.81 388.64 L69.04 388.73 L69.27 388.84 L69.49 388.96 L69.72 389.09 L69.94 389.24 L70.17 389.39 L70.39 389.56 L70.62 389.73 L70.84 389.90 L71.07 390.08 L71.30 390.26 L71.52 390.44 L71.75 390.62 L71.97 390.79 L72.20 390.96 L72.42 391.12 L72.65 391.26 L72.88 391.40 L73.10 391.53 L73.33 391.64 L73.55 391.74 L73.78 391.82 L74.00 391.88 L74.23 391.93 L74.45 391.93 L74.68 391.90 L74.91 391.86 L75.13 391.82 L75.36 391.76 L75.58 391.70 L75.81 391.63 L76.03 391.55 L76.26 391.47 L76.48 391.38 L76.71 391.29 L76.94 391.20 L77.16 391.11 L77.39 391.02 L77.61 390.93 L77.84 390.85 L78.06 390.77 L78.29 390.69 L78.52 390.62 L78.74 390.56 L78.97 390.51 L79.19 390.46 L79.42 390.43 L79.64 390.40 L79.87 390.41 L80.09 390.44 L80.32 390.48 L80.55 390.53 L80.77 390.59 L81.00 390.66 L81.22 390.73 L81.45 390.81 L81.67 390.90 L81.90 390.99 L82.12 391.08 L82.35 391.17 L82.58 391.26 L82.80 391.36 L83.03 391.45 L83.25 391.53 L83.48 391.61 L83.70 391.69 L83.93 391.75 L84.16 391.81 L84.38 391.86 L84.61 391.90 L84.83 391.93 L85.06 391.94 L85.28 391.92 L85.51 391.90 L85.73 391.87 L85.96 391.83 L86.19 391.79 L86.41 391.74 L86.64 391.69 L86.86 391.64 L87.09 391.58 L87.31 391.52 L87.54 391.46 L87.76 391.39 L87.99 391.33 L88.22 391.27 L88.44 391.21 L88.67 391.15 L88.89 391.09 L89.12 391.04 L89.34 390.99 L89.57 390.95 L89.80 390.92 L90.02 390.89 L90.25 390.86 L90.47 390.84 L90.70 390.85 L90.92 390.87 L91.15 390.90 L91.37 390.93 L91.60 390.97 L91.83 391.01 L92.05 391.06 L92.28 391.11 L92.50 391.17 L92.73 391.23 L92.95 391.30 L93.18 391.36 L93.40 391.43 L93.63 391.49 L93.86 391.56 L94.08 391.62 L94.31 391.68 L94.53 391.74 L94.76 391.80 L94.98 391.85 L95.21 391.90 L95.44 391.94 L95.66 391.98 L95.89 392.01 L96.11 392.03 L96.34 392.05 L96.56 392.05 L96.79 392.03 L97.01 392.01 L97.24 391.98 L97.47 391.95 L97.69 391.91 L97.92 391.87 L98.14 391.82 L98.37 391.77 L98.59 391.72 L98.82 391.66 L99.04 391.61 L99.27 391.55 L99.50 391.49 L99.72 391.44 L99.95 391.38 L100.17 391.33 L100.40 391.28 L100.62 391.23 L100.85 391.18 L101.08 391.14 L101.30 391.10 L101.53 391.07 L101.75 391.05 L101.98 391.03 L102.20 391.01 L102.43 391.01 L102.65 391.03 L102.88 391.06 L103.11 391.09 L103.33 391.13 L103.56 391.17 L103.78 391.22 L104.01 391.27 L104.23 391.33 L104.46 391.39 L104.68 391.45 L104.91 391.51 L105.14 391.57 L105.36 391.63 L105.59 391.69 L105.81 391.75 L106.04 391.81 L106.26 391.86 L106.49 391.90 L106.72 391.94 L106.94 391.98 L107.17 392.01 L107.39 392.03 L107.62 392.05 L107.84 392.05 L108.07 392.04 L108.29 392.02 L108.52 392.01 L108.75 391.98 L108.97 391.96 L109.20 391.93 L109.42 391.90 L109.65 391.87 L109.87 391.83 L110.10 391.80 L110.32 391.76 L110.55 391.72 L110.78 391.69 L111.00 391.65 L111.23 391.62 L111.45 391.58 L111.68 391.55 L111.90 391.52 L112.13 391.49 L112.36 391.47 L112.58 391.44 L112.81 391.43 L113.03 391.41 L113.26 391.40 L113.48 391.40 L113.71 391.41 L113.93 391.43 L114.16 391.45 L114.39 391.48 L114.61 391.51 L114.84 391.55 L115.06 391.59 L115.29 391.63 L115.51 391.67 L115.74 391.72 L115.96 391.77 L116.19 391.82 L116.42 391.87 L116.64 391.92 L116.87 391.97 L117.09 392.01 L117.32 392.06 L117.54 392.10 L117.77 392.14 L118.00 392.17 L118.22 392.20 L118.45 392.23 L118.67 392.25 L118.90 392.27 L119.12 392.28 L119.35 392.27 L119.57 392.26 L119.80 392.24 L120.03 392.22 L120.25 392.19 L120.48 392.17 L120.70 392.14 L120.93 392.11 L121.15 392.07 L121.38 392.03 L121.60 392.00 L121.83 391.96 L122.06 391.92 L122.28 391.88 L122.51 391.84 L122.73 391.80 L122.96 391.76 L123.18 391.72 L123.41 391.69 L123.64 391.66 L123.86 391.62 L124.09 391.60 L124.31 391.57 L124.54 391.55 L124.76 391.53 L124.99 391.52 L125.21 391.51 L125.44 391.51 L125.67 391.53 L125.89 391.55 L126.12 391.58 L126.34 391.62 L126.57 391.66 L126.79 391.71 L127.02 391.75 L127.24 391.81 L127.47 391.86 L127.70 391.91 L127.92 391.97 L128.15 392.02 L128.37 392.08 L128.60 392.13 L128.82 392.17 L129.05 392.22 L129.28 392.26 L129.50 392.29 L129.73 392.32 L129.95 392.34 L130.18 392.36 L130.40 392.36 L130.63 392.35 L130.85 392.34 L131.08 392.32 L131.31 392.30 L131.53 392.28 L131.76 392.26 L131.98 392.24 L132.21 392.21 L132.43 392.18 L132.66 392.16 L132.88 392.13 L133.11 392.10 L133.34 392.07 L133.56 392.04 L133.79 392.01 L134.01 391.99 L134.24 391.96 L134.46 391.94 L134.69 391.91 L134.92 391.89 L135.14 391.88 L135.37 391.86 L135.59 391.85 L135.82 391.84 L136.04 391.84 L136.27 391.85 L136.49 391.86 L136.72 391.87 L136.95 391.89 L137.17 391.91 L137.40 391.94 L137.62 391.96 L137.85 391.99 L138.07 392.02 L138.30 392.05 L138.52 392.08 L138.75 392.12 L138.98 392.15 L139.20 392.18 L139.43 392.22 L139.65 392.25 L139.88 392.28 L140.10 392.31 L140.33 392.34 L140.56 392.36 L140.78 392.39 L141.01 392.41 L141.23 392.42 L141.46 392.44 L141.68 392.45 L141.91 392.46 L142.13 392.46 L142.36 392.45 L142.59 392.43 L142.81 392.42 L143.04 392.39 L143.26 392.37 L143.49 392.34 L143.71 392.31 L143.94 392.28 L144.16 392.25 L144.39 392.22 L144.62 392.18 L144.84 392.15 L145.07 392.11 L145.29 392.08 L145.52 392.05 L145.74 392.01 L145.97 391.98 L146.20 391.96 L146.42 391.93 L146.65 391.91 L146.87 391.89 L147.10 391.88 L147.32 391.86 L147.55 391.85 L147.77 391.86 L148.00 391.87 L148.23 391.89 L148.45 391.90 L148.68 391.92 L148.90 391.95 L149.13 391.97 L149.35 392.00 L149.58 392.02 L149.80 392.05 L150.03 392.08 L150.26 392.12 L150.48 392.15 L150.71 392.18 L150.93 392.21 L151.16 392.24 L151.38 392.27 L151.61 392.29 L151.84 392.32 L152.06 392.34 L152.29 392.36 L152.51 392.38 L152.74 392.39 L152.96 392.41 L153.19 392.41 L153.41 392.41 L153.64 392.41 L153.87 392.40 L154.09 392.39 L154.32 392.38 L154.54 392.36 L154.77 392.35 L154.99 392.33 L155.22 392.31 L155.44 392.29 L155.67 392.27 L155.90 392.26 L156.12 392.24 L156.35 392.22 L156.57 392.20 L156.80 392.18 L157.02 392.17 L157.25 392.15 L157.48 392.14 L157.70 392.13 L157.93 392.12 L158.15 392.11 L158.38 392.11 L158.60 392.11 L158.83 392.12 L159.05 392.13 L159.28 392.14 L159.51 392.15 L159.73 392.16 L159.96 392.17 L160.18 392.19 L160.41 392.21 L160.63 392.22 L160.86 392.24 L161.08 392.26 L161.31 392.28 L161.54 392.30 L161.76 392.32 L161.99 392.34 L162.21 392.35 L162.44 392.37 L162.66 392.39 L162.89 392.41 L163.12 392.42 L163.34 392.43 L163.57 392.45 L163.79 392.46 L164.02 392.46 L164.24 392.47 L164.47 392.48 L164.69 392.47 L164.92 392.47 L165.15 392.46 L165.37 392.45 L165.60 392.44 L165.82 392.42 L166.05 392.41 L166.27 392.39 L166.50 392.37 L166.72 392.35 L166.95 392.33 L167.18 392.31 L167.40 392.29 L167.63 392.27 L167.85 392.25 L168.08 392.23 L168.30 392.21 L168.53 392.19 L168.76 392.18 L168.98 392.16 L169.21 392.15 L169.43 392.14 L169.66 392.13 L169.88 392.12 L170.11 392.11 L170.33 392.11 L170.56 392.11 L170.79 392.12 L171.01 392.13 L171.24 392.14 L171.46 392.16 L171.69 392.17 L171.91 392.19 L172.14 392.20 L172.36 392.22 L172.59 392.24 L172.82 392.26 L173.04 392.28 L173.27 392.30 L173.49 392.32 L173.72 392.34 L173.94 392.36 L174.17 392.38 L174.40 392.39 L174.62 392.41 L174.85 392.42 L175.07 392.43 L175.30 392.44 L175.52 392.45 L175.75 392.46 L175.97 392.46 L176.20 392.45 L176.43 392.45 L176.65 392.44 L176.88 392.43 L177.10 392.43 L177.33 392.42 L177.55 392.41 L177.78 392.40 L178.00 392.38 L178.23 392.37 L178.46 392.36 L178.68 392.35 L178.91 392.34 L179.13 392.33 L179.36 392.31 L179.58 392.30 L179.81 392.29 L180.04 392.29 L180.26 392.28 L180.49 392.27 L180.71 392.27 L180.94 392.26 L181.16 392.26 L181.39 392.27 L181.61 392.27 L181.84 392.28 L182.07 392.28 L182.29 392.29 L182.52 392.30 L182.74 392.31 L182.97 392.32 L183.19 392.33 L183.42 392.35 L183.64 392.36 L183.87 392.37 L184.10 392.38 L184.32 392.39 L184.55 392.41 L184.77 392.42 L185.00 392.43 L185.22 392.44 L185.45 392.45 L185.68 392.46 L185.90 392.47 L186.13 392.47 L186.35 392.48 L186.58 392.48 L186.80 392.49 L187.03 392.48 L187.25 392.48 L187.48 392.47 L187.71 392.46 L187.93 392.46 L188.16 392.45 L188.38 392.44 L188.61 392.42 L188.83 392.41 L189.06 392.40 L189.28 392.39 L189.51 392.37 L189.74 392.36 L189.96 392.34 L190.19 392.33 L190.41 392.32 L190.64 392.31 L190.86 392.29 L191.09 392.28 L191.32 392.27 L191.54 392.26 L191.77 392.26 L191.99 392.25 L192.22 392.24 L192.44 392.24 L192.67 392.24 L192.89 392.25 L193.12 392.25 L193.35 392.26 L193.57 392.27 L193.80 392.28 L194.02 392.29 L194.25 392.30 L194.47 392.31 L194.70 392.32 L194.92 392.34 L195.15 392.35 L195.38 392.36 L195.60 392.38 L195.83 392.39 L196.05 392.40 L196.28 392.42 L196.50 392.43 L196.73 392.44 L196.96 392.45 L197.18 392.46 L197.41 392.46 L197.63 392.47 L197.86 392.47 L198.08 392.48 L198.31 392.48 L198.53 392.47 L198.76 392.47 L198.99 392.47 L199.21 392.46 L199.44 392.46 L199.66 392.45 L199.89 392.45 L200.11 392.44 L200.34 392.44 L200.56 392.43 L200.79 392.43 L201.02 392.42 L201.24 392.41 L201.47 392.41 L201.69 392.40 L201.92 392.40 L202.14 392.39 L202.37 392.39 L202.60 392.38 L202.82 392.38 L203.05 392.38 L203.27 392.37 L203.50 392.37 L203.72 392.37 L203.95 392.37 L204.17 392.37 L204.40 392.38 L204.63 392.38 L204.85 392.39 L205.08 392.39 L205.30 392.40 L205.53 392.40 L205.75 392.41 L205.98 392.42 L206.20 392.42 L206.43 392.43 L206.66 392.44 L206.88 392.44 L207.11 392.45 L207.33 392.45 L207.56 392.46 L207.78 392.47 L208.01 392.47 L208.24 392.48 L208.46 392.48 L208.69 392.48 L208.91 392.49 L209.14 392.49 L209.36 392.49 L209.59 392.49 L209.81 392.49 L210.04 392.48 L210.27 392.48 L210.49 392.47 L210.72 392.47 L210.94 392.46 L211.17 392.45 L211.39 392.45 L211.62 392.44 L211.84 392.43 L212.07 392.42 L212.30 392.41 L212.52 392.41 L212.75 392.40 L212.97 392.39 L213.20 392.38 L213.42 392.38 L213.65 392.37 L213.88 392.36 L214.10 392.36 L214.33 392.36 L214.55 392.35 L214.78 392.35 L215.00 392.35 L215.23 392.35 L215.45 392.35 L215.68 392.36 L215.91 392.36 L216.13 392.37 L216.36 392.37 L216.58 392.38 L216.81 392.38 L217.03 392.39 L217.26 392.40 L217.48 392.41 L217.71 392.41 L217.94 392.42 L218.16 392.43 L218.39 392.44 L218.61 392.44 L218.84 392.45 L219.06 392.46 L219.29 392.46 L219.52 392.47 L219.74 392.47 L219.97 392.48 L220.19 392.48 L220.42 392.48 L220.64 392.49 L220.87 392.49 L221.09 392.48 L221.32 392.48 L221.55 392.48 L221.77 392.48 L222.00 392.48 L222.22 392.47 L222.45 392.47 L222.67 392.47 L222.90 392.46 L223.12 392.46 L223.35 392.46 L223.58 392.45 L223.80 392.45 L224.03 392.45 L224.25 392.44 L224.48 392.44 L224.70 392.44 L224.93 392.43 L225.16 392.43 L225.38 392.43 L225.61 392.43 L225.83 392.43 L226.06 392.43 L226.28 392.43 L226.51 392.43 L226.73 392.43 L226.96 392.43 L227.19 392.43 L227.41 392.43 L227.64 392.44 L227.86 392.44 L228.09 392.44 L228.31 392.45 L228.54 392.45 L228.76 392.45 L228.99 392.46 L229.22 392.46 L229.44 392.47 L229.67 392.47 L229.89 392.47 L230.12 392.48 L230.34 392.48 L230.57 392.48 L230.80 392.49 L231.02 392.49 L231.25 392.49 L231.47 392.49 L231.70 392.49 L231.92 392.49 L232.15 392.49 L232.37 392.49 L232.60 392.49 L232.83 392.49 L233.05 392.48 L233.28 392.48 L233.50 392.48 L233.73 392.47 L233.95 392.47 L234.18 392.46 L234.40 392.46 L234.63 392.45 L234.86 392.45 L235.08 392.44 L235.31 392.44 L235.53 392.43 L235.76 392.43 L235.98 392.43 L236.21 392.42 L236.44 392.42 L236.66 392.41 L236.89 392.41 L237.11 392.41 L237.34 392.41 L237.56 392.40 L237.79 392.40 L238.01 392.40 L238.24 392.41 L238.47 392.41 L238.69 392.41 L238.92 392.41 L239.14 392.42 L239.37 392.42 L239.59 392.43 L239.82 392.43 L240.04 392.43 L240.27 392.44 L240.50 392.44 L240.72 392.45 L240.95 392.45 L241.17 392.46 L241.40 392.46 L241.62 392.47 L241.85 392.47 L242.08 392.48 L242.30 392.48 L242.53 392.48 L242.75 392.49 L242.98 392.49 L243.20 392.49 L243.43 392.49 L243.65 392.49 L243.88 392.49 L244.11 392.49 L244.33 392.49 L244.56 392.49 L244.78 392.49 L245.01 392.48 L245.23 392.48 L245.46 392.48 L245.68 392.48 L245.91 392.48 L246.14 392.48 L246.36 392.47 L246.59 392.47 L246.81 392.47 L247.04 392.47 L247.26 392.47 L247.49 392.46 L247.72 392.46 L247.94 392.46 L248.17 392.46 L248.39 392.46 L248.62 392.46 L248.84 392.46 L249.07 392.46 L249.29 392.46 L249.52 392.46 L249.75 392.46 L249.97 392.46 L250.20 392.46 L250.42 392.47 L250.65 392.47 L250.87 392.47 L251.10 392.47 L251.32 392.47 L251.55 392.47 L251.78 392.48 L252.00 392.48 L252.23 392.48 L252.45 392.48 L252.68 392.48 L252.90 392.49 L253.13 392.49 L253.36 392.49 L253.58 392.49 L253.81 392.49 L254.03 392.49 L254.26 392.49 L254.48 392.49 L254.71 392.49 L254.93 392.49 L255.16 392.49 L255.39 392.49 L255.61 392.49 L255.84 392.49 L256.06 392.49 L256.29 392.49 L256.51 392.48 L256.74 392.48 L256.96 392.48 L257.19 392.48 L257.42 392.48 L257.64 392.47 L257.87 392.47 L258.09 392.47 L258.32 392.47 L258.54 392.46 L258.77 392.46 L259.00 392.46 L259.22 392.46 L259.45 392.46 L259.67 392.46 L259.90 392.45 L260.12 392.45 L260.35 392.45 L260.57 392.45 L260.80 392.45" stroke="#000000"/>
<path d="M35.20 392.50 L35.43 384.03 L35.65 383.74 L35.88 383.35 L36.10 382.87 L36.33 382.32 L36.55 381.72 L36.78 381.10 L37.00 380.49 L37.23 379.92 L37.46 379.41 L37.68 378.98 L37.91 378.65 L38.13 378.43 L38.36 378.36 L38.58 378.31 L38.81 378.23 L39.04 378.13 L39.26 378.02 L39.49 377.91 L39.71 377.82 L39.94 377.74 L40.16 377.68 L40.39 377.59 L40.61 377.33 L40.84 376.97 L41.07 376.52 L41.29 375.98 L41.52 375.36 L41.74 374.67 L41.97 373.91 L42.19 373.09 L42.42 372.23 L42.64 371.33 L42.87 370.40 L43.10 369.45 L43.32 368.50 L43.55 367.56 L43.77 366.64 L44.00 365.75 L44.22 364.90 L44.45 364.10 L44.68 363.36 L44.90 362.69 L45.13 362.10 L45.35 361.59 L45.58 361.17 L45.80 360.84 L46.03 360.61 L46.25 360.96 L46.48 361.46 L46.71 362.08 L46.93 362.84 L47.16 363.72 L47.38 364.71 L47.61 365.81 L47.83 367.00 L48.06 368.27 L48.28 369.61 L48.51 370.99 L48.74 372.41 L48.96 373.84 L49.19 375.27 L49.41 376.69 L49.64 378.07 L49.86 379.41 L50.09 380.68 L50.32 381.87 L50.54 382.97 L50.77 383.96 L50.99 384.84 L51.22 385.60 L51.44 386.23 L51.67 386.72 L51.89 387.07 L52.12 386.95 L52.35 386.78 L52.57 386.56 L52.80 386.29 L53.02 385.97 L53.25 385.61 L53.47 385.22 L53.70 384.80 L53.92 384.35 L54.15 383.89 L54.38 383.41 L54.60 382.93 L54.83 382.45 L55.05 381.98 L55.28 381.52 L55.50 381.09 L55.73 380.69 L55.96 380.32 L56.18 379.99 L56.41 379.70 L56.63 379.46 L56.86 379.27 L57.08 379.14 L57.31 379.18 L57.53 379.34 L57.76 379.54 L57.99 379.79 L58.21 380.09 L58.44 380.43 L58.66 380.80 L58.89 381.21 L59.11 381.65 L59.34 382.11 L59.56 382.60 L59.79 383.09 L60.02 383.59 L60.24 384.08 L60.47 384.58 L60.69 385.06 L60.92 385.52 L61.14 385.96 L61.37 386.37 L61.60 386.74 L61.82 387.08 L62.05 387.38 L62.27 387.63 L62.50 387.84 L62.72 387.99 L62.95 388.03 L63.17 387.85 L63.40 387.62 L63.63 387.32 L63.85 386.96 L64.08 386.55 L64.30 386.09 L64.53 385.58 L64.75 385.04 L64.98 384.48 L65.20 383.89 L65.43 383.29 L65.66 382.69 L65.88 382.09 L66.11 381.51 L66.33 380.95 L66.56 380.42 L66.78 379.93 L67.01 379.49 L67.24 379.09 L67.46 378.75 L67.69 378.47 L67.91 378.26 L68.14 378.10 L68.36 378.25 L68.59 378.45 L68.81 378.71 L69.04 379.02 L69.27 379.37 L69.49 379.78 L69.72 380.22 L69.94 380.71 L70.17 381.22 L70.39 381.77 L70.62 382.34 L70.84 382.92 L71.07 383.52 L71.30 384.12 L71.52 384.72 L71.75 385.31 L71.97 385.88 L72.20 386.43 L72.42 386.96 L72.65 387.46 L72.88 387.92 L73.10 388.33 L73.33 388.71 L73.55 389.03 L73.78 389.30 L74.00 389.52 L74.23 389.69 L74.45 389.68 L74.68 389.56 L74.91 389.42 L75.13 389.23 L75.36 389.02 L75.58 388.77 L75.81 388.50 L76.03 388.20 L76.26 387.88 L76.48 387.55 L76.71 387.21 L76.94 386.86 L77.16 386.51 L77.39 386.16 L77.61 385.82 L77.84 385.49 L78.06 385.18 L78.29 384.89 L78.52 384.63 L78.74 384.39 L78.97 384.19 L79.19 384.01 L79.42 383.88 L79.64 383.78 L79.87 383.81 L80.09 383.93 L80.32 384.08 L80.55 384.27 L80.77 384.50 L81.00 384.76 L81.22 385.04 L81.45 385.35 L81.67 385.68 L81.90 386.03 L82.12 386.38 L82.35 386.74 L82.58 387.10 L82.80 387.46 L83.03 387.80 L83.25 388.13 L83.48 388.44 L83.70 388.73 L83.93 388.99 L84.16 389.21 L84.38 389.40 L84.61 389.56 L84.83 389.68 L85.06 389.71 L85.28 389.63 L85.51 389.52 L85.73 389.38 L85.96 389.22 L86.19 389.03 L86.41 388.82 L86.64 388.59 L86.86 388.34 L87.09 388.08 L87.31 387.81 L87.54 387.52 L87.76 387.24 L87.99 386.96 L88.22 386.68 L88.44 386.40 L88.67 386.14 L88.89 385.89 L89.12 385.66 L89.34 385.45 L89.57 385.26 L89.80 385.10 L90.02 384.96 L90.25 384.85 L90.47 384.77 L90.70 384.80 L90.92 384.90 L91.15 385.04 L91.37 385.20 L91.60 385.39 L91.83 385.61 L92.05 385.86 L92.28 386.13 L92.50 386.41 L92.73 386.72 L92.95 387.03 L93.18 387.35 L93.40 387.68 L93.63 388.01 L93.86 388.34 L94.08 388.66 L94.31 388.97 L94.53 389.27 L94.76 389.55 L94.98 389.81 L95.21 390.05 L95.44 390.26 L95.66 390.44 L95.89 390.60 L96.11 390.72 L96.34 390.82 L96.56 390.80 L96.79 390.73 L97.01 390.64 L97.24 390.52 L97.47 390.39 L97.69 390.23 L97.92 390.06 L98.14 389.87 L98.37 389.67 L98.59 389.46 L98.82 389.24 L99.04 389.01 L99.27 388.78 L99.50 388.55 L99.72 388.32 L99.95 388.10 L100.17 387.88 L100.40 387.67 L100.62 387.48 L100.85 387.29 L101.08 387.13 L101.30 386.98 L101.53 386.85 L101.75 386.74 L101.98 386.66 L102.20 386.59 L102.43 386.61 L102.65 386.69 L102.88 386.79 L103.11 386.91 L103.33 387.06 L103.56 387.23 L103.78 387.41 L104.01 387.61 L104.23 387.82 L104.46 388.05 L104.68 388.28 L104.91 388.52 L105.14 388.75 L105.36 388.99 L105.59 389.22 L105.81 389.44 L106.04 389.65 L106.26 389.85 L106.49 390.03 L106.72 390.19 L106.94 390.32 L107.17 390.44 L107.39 390.53 L107.62 390.60 L107.84 390.60 L108.07 390.56 L108.29 390.51 L108.52 390.45 L108.75 390.38 L108.97 390.30 L109.20 390.21 L109.42 390.11 L109.65 390.00 L109.87 389.89 L110.10 389.78 L110.32 389.66 L110.55 389.54 L110.78 389.42 L111.00 389.30 L111.23 389.18 L111.45 389.07 L111.68 388.97 L111.90 388.87 L112.13 388.78 L112.36 388.70 L112.58 388.62 L112.81 388.56 L113.03 388.51 L113.26 388.48 L113.48 388.47 L113.71 388.52 L113.93 388.58 L114.16 388.66 L114.39 388.75 L114.61 388.85 L114.84 388.97 L115.06 389.10 L115.29 389.24 L115.51 389.39 L115.74 389.55 L115.96 389.71 L116.19 389.87 L116.42 390.03 L116.64 390.20 L116.87 390.35 L117.09 390.51 L117.32 390.65 L117.54 390.79 L117.77 390.92 L118.00 391.03 L118.22 391.14 L118.45 391.22 L118.67 391.30 L118.90 391.35 L119.12 391.39 L119.35 391.36 L119.57 391.32 L119.80 391.27 L120.03 391.20 L120.25 391.13 L120.48 391.04 L120.70 390.95 L120.93 390.85 L121.15 390.74 L121.38 390.62 L121.60 390.51 L121.83 390.38 L122.06 390.26 L122.28 390.13 L122.51 390.01 L122.73 389.88 L122.96 389.76 L123.18 389.65 L123.41 389.54 L123.64 389.43 L123.86 389.34 L124.09 389.25 L124.31 389.17 L124.54 389.10 L124.76 389.05 L124.99 389.00 L125.21 388.97 L125.44 388.99 L125.67 389.05 L125.89 389.14 L126.12 389.25 L126.34 389.38 L126.57 389.52 L126.79 389.68 L127.02 389.86 L127.24 390.04 L127.47 390.23 L127.70 390.43 L127.92 390.62 L128.15 390.82 L128.37 391.01 L128.60 391.19 L128.82 391.36 L129.05 391.52 L129.28 391.65 L129.50 391.78 L129.73 391.88 L129.95 391.96 L130.18 392.02 L130.40 392.01 L130.63 391.98 L130.85 391.94 L131.08 391.89 L131.31 391.83 L131.53 391.76 L131.76 391.69 L131.98 391.61 L132.21 391.52 L132.43 391.43 L132.66 391.33 L132.88 391.23 L133.11 391.14 L133.34 391.04 L133.56 390.94 L133.79 390.84 L134.01 390.75 L134.24 390.66 L134.46 390.58 L134.69 390.51 L134.92 390.44 L135.14 390.38 L135.37 390.33 L135.59 390.29 L135.82 390.26 L136.04 390.25 L136.27 390.28 L136.49 390.32 L136.72 390.37 L136.95 390.44 L137.17 390.51 L137.40 390.59 L137.62 390.68 L137.85 390.77 L138.07 390.87 L138.30 390.98 L138.52 391.08 L138.75 391.20 L138.98 391.31 L139.20 391.42 L139.43 391.53 L139.65 391.64 L139.88 391.75 L140.10 391.85 L140.33 391.94 L140.56 392.03 L140.78 392.11 L141.01 392.18 L141.23 392.24 L141.46 392.30 L141.68 392.34 L141.91 392.37 L142.13 392.36 L142.36 392.32 L142.59 392.27 L142.81 392.21 L143.04 392.14 L143.26 392.06 L143.49 391.97 L143.71 391.87 L143.94 391.76 L144.16 391.65 L144.39 391.54 L144.62 391.42 L144.84 391.30 L145.07 391.18 L145.29 391.07 L145.52 390.96 L145.74 390.85 L145.97 390.75 L146.20 390.66 L146.42 390.57 L146.65 390.50 L146.87 390.43 L147.10 390.38 L147.32 390.34 L147.55 390.31 L147.77 390.33 L148.00 390.37 L148.23 390.42 L148.45 390.47 L148.68 390.54 L148.90 390.62 L149.13 390.70 L149.35 390.79 L149.58 390.88 L149.80 390.98 L150.03 391.09 L150.26 391.19 L150.48 391.30 L150.71 391.40 L150.93 391.51 L151.16 391.61 L151.38 391.71 L151.61 391.80 L151.84 391.88 L152.06 391.96 L152.29 392.03 L152.51 392.09 L152.74 392.14 L152.96 392.18 L153.19 392.21 L153.41 392.21 L153.64 392.19 L153.87 392.16 L154.09 392.12 L154.32 392.08 L154.54 392.03 L154.77 391.98 L154.99 391.92 L155.22 391.86 L155.44 391.80 L155.67 391.73 L155.90 391.67 L156.12 391.60 L156.35 391.54 L156.57 391.48 L156.80 391.42 L157.02 391.37 L157.25 391.32 L157.48 391.27 L157.70 391.23 L157.93 391.20 L158.15 391.18 L158.38 391.16 L158.60 391.18 L158.83 391.20 L159.05 391.23 L159.28 391.26 L159.51 391.30 L159.73 391.34 L159.96 391.39 L160.18 391.45 L160.41 391.50 L160.63 391.56 L160.86 391.62 L161.08 391.69 L161.31 391.75 L161.54 391.82 L161.76 391.88 L161.99 391.94 L162.21 392.01 L162.44 392.07 L162.66 392.12 L162.89 392.18 L163.12 392.23 L163.34 392.27 L163.57 392.31 L163.79 392.35 L164.02 392.38 L164.24 392.40 L164.47 392.42 L164.69 392.41 L164.92 392.39 L165.15 392.36 L165.37 392.33 L165.60 392.29 L165.82 392.24 L166.05 392.19 L166.27 392.13 L166.50 392.07 L166.72 392.00 L166.95 391.93 L167.18 391.86 L167.40 391.79 L167.63 391.72 L167.85 391.65 L168.08 391.59 L168.30 391.52 L168.53 391.46 L168.76 391.40 L168.98 391.35 L169.21 391.30 L169.43 391.26 L169.66 391.23 L169.88 391.20 L170.11 391.17 L170.33 391.17 L170.56 391.19 L170.79 391.21 L171.01 391.25 L171.24 391.29 L171.46 391.33 L171.69 391.38 L171.91 391.44 L172.14 391.50 L172.36 391.56 L172.59 391.63 L172.82 391.69 L173.04 391.76 L173.27 391.83 L173.49 391.90 L173.72 391.96 L173.94 392.03 L174.17 392.08 L174.40 392.14 L174.62 392.19 L174.85 392.24 L175.07 392.28 L175.30 392.31 L175.52 392.33 L175.75 392.35 L175.97 392.35 L176.20 392.34 L176.43 392.32 L176.65 392.30 L176.88 392.28 L177.10 392.25 L177.33 392.21 L177.55 392.18 L177.78 392.14 L178.00 392.10 L178.23 392.06 L178.46 392.02 L178.68 391.98 L178.91 391.94 L179.13 391.91 L179.36 391.87 L179.58 391.83 L179.81 391.80 L180.04 391.77 L180.26 391.75 L180.49 391.73 L180.71 391.71 L180.94 391.70 L181.16 391.69 L181.39 391.71 L181.61 391.72 L181.84 391.74 L182.07 391.77 L182.29 391.79 L182.52 391.82 L182.74 391.86 L182.97 391.89 L183.19 391.93 L183.42 391.97 L183.64 392.02 L183.87 392.06 L184.10 392.10 L184.32 392.14 L184.55 392.18 L184.77 392.22 L185.00 392.26 L185.22 392.30 L185.45 392.33 L185.68 392.36 L185.90 392.39 L186.13 392.41 L186.35 392.43 L186.58 392.44 L186.80 392.45 L187.03 392.44 L187.25 392.43 L187.48 392.40 L187.71 392.38 L187.93 392.35 L188.16 392.32 L188.38 392.28 L188.61 392.24 L188.83 392.20 L189.06 392.16 L189.28 392.11 L189.51 392.07 L189.74 392.02 L189.96 391.97 L190.19 391.93 L190.41 391.88 L190.64 391.84 L190.86 391.80 L191.09 391.76 L191.32 391.73 L191.54 391.70 L191.77 391.67 L191.99 391.65 L192.22 391.63 L192.44 391.62 L192.67 391.62 L192.89 391.64 L193.12 391.66 L193.35 391.68 L193.57 391.71 L193.80 391.74 L194.02 391.78 L194.25 391.81 L194.47 391.86 L194.70 391.90 L194.92 391.94 L195.15 391.99 L195.38 392.04 L195.60 392.08 L195.83 392.13 L196.05 392.17 L196.28 392.21 L196.50 392.25 L196.73 392.29 L196.96 392.32 L197.18 392.35 L197.41 392.38 L197.63 392.40 L197.86 392.41 L198.08 392.42 L198.31 392.42 L198.53 392.41 L198.76 392.40 L198.99 392.39 L199.21 392.38 L199.44 392.36 L199.66 392.35 L199.89 392.33 L200.11 392.31 L200.34 392.29 L200.56 392.27 L200.79 392.25 L201.02 392.23 L201.24 392.21 L201.47 392.19 L201.69 392.17 L201.92 392.15 L202.14 392.13 L202.37 392.11 L202.60 392.10 L202.82 392.09 L203.05 392.08 L203.27 392.07 L203.50 392.06 L203.72 392.06 L203.95 392.07 L204.17 392.07 L204.40 392.09 L204.63 392.10 L204.85 392.11 L205.08 392.13 L205.30 392.15 L205.53 392.17 L205.75 392.19 L205.98 392.21 L206.20 392.23 L206.43 392.26 L206.66 392.28 L206.88 392.30 L207.11 392.33 L207.33 392.35 L207.56 392.37 L207.78 392.39 L208.01 392.40 L208.24 392.42 L208.46 392.44 L208.69 392.45 L208.91 392.46 L209.14 392.47 L209.36 392.47 L209.59 392.46 L209.81 392.45 L210.04 392.44 L210.27 392.43 L210.49 392.41 L210.72 392.39 L210.94 392.37 L211.17 392.34 L211.39 392.32 L211.62 392.29 L211.84 392.26 L212.07 392.24 L212.30 392.21 L212.52 392.18 L212.75 392.15 L212.97 392.13 L213.20 392.10 L213.42 392.08 L213.65 392.06 L213.88 392.04 L214.10 392.02 L214.33 392.01 L214.55 392.00 L214.78 391.99 L215.00 391.98 L215.23 391.99 L215.45 392.00 L215.68 392.01 L215.91 392.03 L216.13 392.05 L216.36 392.06 L216.58 392.09 L216.81 392.11 L217.03 392.13 L217.26 392.16 L217.48 392.18 L217.71 392.21 L217.94 392.24 L218.16 392.26 L218.39 392.29 L218.61 392.31 L218.84 392.33 L219.06 392.36 L219.29 392.38 L219.52 392.40 L219.74 392.41 L219.97 392.43 L220.19 392.44 L220.42 392.45 L220.64 392.45 L220.87 392.45 L221.09 392.45 L221.32 392.44 L221.55 392.43 L221.77 392.43 L222.00 392.42 L222.22 392.41 L222.45 392.40 L222.67 392.39 L222.90 392.38 L223.12 392.37 L223.35 392.35 L223.58 392.34 L223.80 392.33 L224.03 392.32 L224.25 392.31 L224.48 392.30 L224.70 392.29 L224.93 392.28 L225.16 392.27 L225.38 392.26 L225.61 392.26 L225.83 392.25 L226.06 392.25 L226.28 392.25 L226.51 392.25 L226.73 392.26 L226.96 392.26 L227.19 392.27 L227.41 392.28 L227.64 392.29 L227.86 392.30 L228.09 392.31 L228.31 392.32 L228.54 392.33 L228.76 392.35 L228.99 392.36 L229.22 392.37 L229.44 392.39 L229.67 392.40 L229.89 392.41 L230.12 392.42 L230.34 392.43 L230.57 392.44 L230.80 392.45 L231.02 392.46 L231.25 392.47 L231.47 392.47 L231.70 392.48 L231.92 392.48 L232.15 392.48 L232.37 392.47 L232.60 392.46 L232.83 392.45 L233.05 392.44 L233.28 392.43 L233.50 392.42 L233.73 392.41 L233.95 392.39 L234.18 392.38 L234.40 392.36 L234.63 392.34 L234.86 392.33 L235.08 392.31 L235.31 392.29 L235.53 392.28 L235.76 392.26 L235.98 392.25 L236.21 392.23 L236.44 392.22 L236.66 392.21 L236.89 392.20 L237.11 392.19 L237.34 392.18 L237.56 392.17 L237.79 392.17 L238.01 392.17 L238.24 392.18 L238.47 392.19 L238.69 392.20 L238.92 392.21 L239.14 392.22 L239.37 392.23 L239.59 392.25 L239.82 392.26 L240.04 392.28 L240.27 392.29 L240.50 392.31 L240.72 392.33 L240.95 392.34 L241.17 392.36 L241.40 392.38 L241.62 392.39 L241.85 392.41 L242.08 392.42 L242.30 392.43 L242.53 392.44 L242.75 392.45 L242.98 392.46 L243.20 392.47 L243.43 392.47 L243.65 392.47 L243.88 392.47 L244.11 392.47 L244.33 392.46 L244.56 392.46 L244.78 392.45 L245.01 392.45 L245.23 392.44 L245.46 392.44 L245.68 392.43 L245.91 392.42 L246.14 392.42 L246.36 392.41 L246.59 392.40 L246.81 392.40 L247.04 392.39 L247.26 392.38 L247.49 392.38 L247.72 392.37 L247.94 392.37 L248.17 392.37 L248.39 392.36 L248.62 392.36 L248.84 392.36 L249.07 392.36 L249.29 392.36 L249.52 392.37 L249.75 392.37 L249.97 392.37 L250.20 392.38 L250.42 392.38 L250.65 392.39 L250.87 392.39 L251.10 392.40 L251.32 392.41 L251.55 392.41 L251.78 392.42 L252.00 392.43 L252.23 392.43 L252.45 392.44 L252.68 392.45 L252.90 392.45 L253.13 392.46 L253.36 392.46 L253.58 392.47 L253.81 392.47 L254.03 392.47 L254.26 392.48 L254.48 392.48 L254.71 392.48 L254.93 392.48 L255.16 392.48 L255.39 392.47 L255.61 392.47 L255.84 392.47 L256.06 392.46 L256.29 392.45 L256.51 392.45 L256.74 392.44 L256.96 392.43 L257.19 392.43 L257.42 392.42 L257.64 392.41 L257.87 392.40 L258.09 392.40 L258.32 392.39 L258.54 392.38 L258.77 392.37 L259.00 392.37 L259.22 392.36 L259.45 392.35 L259.67 392.35 L259.90 392.34 L260.12 392.34 L260.35 392.34 L260.57 392.33 L260.80 392.33" stroke="#ff1a1a"/>
<path d="M35.20 392.50 L35.43 375.04 L35.65 374.53 L35.88 373.83 L36.10 372.97 L36.33 371.99 L36.55 370.93 L36.78 369.83 L37.00 368.75 L37.23 367.73 L37.46 366.81 L37.68 366.05 L37.91 365.46 L38.13 365.07 L38.36 365.01 L38.58 365.08 L38.81 365.19 L39.04 365.31 L39.26 365.45 L39.49 365.59 L39.71 365.72 L39.94 365.83 L40.16 365.90 L40.39 365.79 L40.61 365.26 L40.84 364.55 L41.07 363.66 L41.29 362.59 L41.52 361.37 L41.74 360.00 L41.97 358.50 L42.19 356.88 L42.42 355.17 L42.64 353.38 L42.87 351.54 L43.10 349.66 L43.32 347.78 L43.55 345.92 L43.77 344.09 L44.00 342.33 L44.22 340.65 L44.45 339.06 L44.68 337.60 L44.90 336.28 L45.13 335.11 L45.35 334.10 L45.58 333.27 L45.80 332.62 L46.03 332.15 L46.25 332.82 L46.48 333.76 L46.71 334.95 L46.93 336.38 L47.16 338.05 L47.38 339.94 L47.61 342.03 L47.83 344.29 L48.06 346.69 L48.28 349.23 L48.51 351.85 L48.74 354.54 L48.96 357.26 L49.19 359.98 L49.41 362.67 L49.64 365.29 L49.86 367.82 L50.09 370.23 L50.32 372.49 L50.54 374.58 L50.77 376.46 L50.99 378.13 L51.22 379.57 L51.44 380.76 L51.67 381.70 L51.89 382.37 L52.12 382.08 L52.35 381.68 L52.57 381.16 L52.80 380.53 L53.02 379.79 L53.25 378.96 L53.47 378.04 L53.70 377.06 L53.92 376.01 L54.15 374.93 L54.38 373.82 L54.60 372.69 L54.83 371.57 L55.05 370.48 L55.28 369.42 L55.50 368.41 L55.73 367.47 L55.96 366.61 L56.18 365.84 L56.41 365.17 L56.63 364.61 L56.86 364.17 L57.08 363.85 L57.31 363.94 L57.53 364.29 L57.76 364.74 L57.99 365.31 L58.21 365.97 L58.44 366.72 L58.66 367.56 L58.89 368.47 L59.11 369.45 L59.34 370.48 L59.56 371.55 L59.79 372.65 L60.02 373.76 L60.24 374.87 L60.47 375.97 L60.69 377.04 L60.92 378.07 L61.14 379.04 L61.37 379.96 L61.60 380.80 L61.82 381.55 L62.05 382.21 L62.27 382.77 L62.50 383.23 L62.72 383.58 L62.95 383.67 L63.17 383.33 L63.40 382.88 L63.63 382.30 L63.85 381.61 L64.08 380.81 L64.30 379.93 L64.53 378.96 L64.75 377.92 L64.98 376.82 L65.20 375.69 L65.43 374.53 L65.66 373.37 L65.88 372.22 L66.11 371.10 L66.33 370.02 L66.56 369.00 L66.78 368.06 L67.01 367.20 L67.24 366.44 L67.46 365.79 L67.69 365.25 L67.91 364.83 L68.14 364.54 L68.36 364.83 L68.59 365.23 L68.81 365.73 L69.04 366.34 L69.27 367.05 L69.49 367.84 L69.72 368.72 L69.94 369.68 L70.17 370.70 L70.39 371.78 L70.62 372.90 L70.84 374.06 L71.07 375.24 L71.30 376.42 L71.52 377.60 L71.75 378.77 L71.97 379.91 L72.20 381.00 L72.42 382.04 L72.65 383.02 L72.88 383.93 L73.10 384.76 L73.33 385.49 L73.55 386.13 L73.78 386.67 L74.00 387.11 L74.23 387.43 L74.45 387.39 L74.68 387.13 L74.91 386.79 L75.13 386.36 L75.36 385.86 L75.58 385.29 L75.81 384.66 L76.03 383.97 L76.26 383.24 L76.48 382.47 L76.71 381.68 L76.94 380.87 L77.16 380.05 L77.39 379.25 L77.61 378.46 L77.84 377.70 L78.06 376.98 L78.29 376.31 L78.52 375.70 L78.74 375.16 L78.97 374.68 L79.19 374.28 L79.42 373.97 L79.64 373.73 L79.87 373.81 L80.09 374.08 L80.32 374.44 L80.55 374.88 L80.77 375.40 L81.00 376.00 L81.22 376.66 L81.45 377.38 L81.67 378.14 L81.90 378.94 L82.12 379.76 L82.35 380.60 L82.58 381.43 L82.80 382.25 L83.03 383.05 L83.25 383.82 L83.48 384.53 L83.70 385.19 L83.93 385.79 L84.16 386.31 L84.38 386.76 L84.61 387.12 L84.83 387.39 L85.06 387.48 L85.28 387.32 L85.51 387.10 L85.73 386.83 L85.96 386.51 L86.19 386.13 L86.41 385.72 L86.64 385.26 L86.86 384.77 L87.09 384.25 L87.31 383.71 L87.54 383.15 L87.76 382.59 L87.99 382.03 L88.22 381.47 L88.44 380.93 L88.67 380.41 L88.89 379.92 L89.12 379.46 L89.34 379.05 L89.57 378.67 L89.80 378.35 L90.02 378.08 L90.25 377.86 L90.47 377.70 L90.70 377.76 L90.92 377.95 L91.15 378.21 L91.37 378.52 L91.60 378.88 L91.83 379.30 L92.05 379.76 L92.28 380.27 L92.50 380.81 L92.73 381.38 L92.95 381.98 L93.18 382.59 L93.40 383.21 L93.63 383.84 L93.86 384.46 L94.08 385.06 L94.31 385.65 L94.53 386.21 L94.76 386.74 L94.98 387.24 L95.21 387.69 L95.44 388.09 L95.66 388.43 L95.89 388.72 L96.11 388.96 L96.34 389.13 L96.56 389.11 L96.79 388.96 L97.01 388.77 L97.24 388.53 L97.47 388.26 L97.69 387.94 L97.92 387.59 L98.14 387.21 L98.37 386.80 L98.59 386.37 L98.82 385.92 L99.04 385.46 L99.27 384.99 L99.50 384.52 L99.72 384.05 L99.95 383.59 L100.17 383.15 L100.40 382.72 L100.62 382.32 L100.85 381.95 L101.08 381.61 L101.30 381.31 L101.53 381.05 L101.75 380.83 L101.98 380.65 L102.20 380.52 L102.43 380.55 L102.65 380.68 L102.88 380.86 L103.11 381.07 L103.33 381.33 L103.56 381.62 L103.78 381.94 L104.01 382.29 L104.23 382.66 L104.46 383.05 L104.68 383.45 L104.91 383.86 L105.14 384.28 L105.36 384.69 L105.59 385.09 L105.81 385.47 L106.04 385.84 L106.26 386.18 L106.49 386.49 L106.72 386.77 L106.94 387.01 L107.17 387.21 L107.39 387.37 L107.62 387.49 L107.84 387.48 L108.07 387.42 L108.29 387.33 L108.52 387.23 L108.75 387.10 L108.97 386.96 L109.20 386.80 L109.42 386.63 L109.65 386.45 L109.87 386.25 L110.10 386.05 L110.32 385.84 L110.55 385.63 L110.78 385.43 L111.00 385.22 L111.23 385.02 L111.45 384.82 L111.68 384.64 L111.90 384.47 L112.13 384.31 L112.36 384.17 L112.58 384.04 L112.81 383.94 L113.03 383.85 L113.26 383.78 L113.48 383.78 L113.71 383.89 L113.93 384.04 L114.16 384.23 L114.39 384.45 L114.61 384.71 L114.84 385.00 L115.06 385.31 L115.29 385.65 L115.51 386.01 L115.74 386.38 L115.96 386.77 L116.19 387.16 L116.42 387.56 L116.64 387.95 L116.87 388.33 L117.09 388.70 L117.32 389.06 L117.54 389.39 L117.77 389.69 L118.00 389.97 L118.22 390.22 L118.45 390.43 L118.67 390.60 L118.90 390.74 L119.12 390.84 L119.35 390.77 L119.57 390.67 L119.80 390.55 L120.03 390.40 L120.25 390.22 L120.48 390.03 L120.70 389.81 L120.93 389.58 L121.15 389.32 L121.38 389.06 L121.60 388.78 L121.83 388.50 L122.06 388.21 L122.28 387.92 L122.51 387.63 L122.73 387.34 L122.96 387.06 L123.18 386.79 L123.41 386.54 L123.64 386.30 L123.86 386.07 L124.09 385.87 L124.31 385.69 L124.54 385.53 L124.76 385.40 L124.99 385.29 L125.21 385.21 L125.44 385.26 L125.67 385.39 L125.89 385.57 L126.12 385.79 L126.34 386.05 L126.57 386.35 L126.79 386.68 L127.02 387.04 L127.24 387.42 L127.47 387.81 L127.70 388.21 L127.92 388.62 L128.15 389.02 L128.37 389.41 L128.60 389.78 L128.82 390.13 L129.05 390.45 L129.28 390.73 L129.50 390.98 L129.73 391.19 L129.95 391.36 L130.18 391.47 L130.40 391.47 L130.63 391.40 L130.85 391.32 L131.08 391.21 L131.31 391.09 L131.53 390.94 L131.76 390.78 L131.98 390.61 L132.21 390.43 L132.43 390.23 L132.66 390.03 L132.88 389.82 L133.11 389.61 L133.34 389.40 L133.56 389.19 L133.79 388.99 L134.01 388.79 L134.24 388.61 L134.46 388.44 L134.69 388.28 L134.92 388.13 L135.14 388.01 L135.37 387.90 L135.59 387.82 L135.82 387.75 L136.04 387.73 L136.27 387.80 L136.49 387.89 L136.72 388.00 L136.95 388.13 L137.17 388.28 L137.40 388.45 L137.62 388.64 L137.85 388.84 L138.07 389.05 L138.30 389.27 L138.52 389.50 L138.75 389.74 L138.98 389.98 L139.20 390.22 L139.43 390.45 L139.65 390.68 L139.88 390.91 L140.10 391.12 L140.33 391.32 L140.56 391.51 L140.78 391.68 L141.01 391.83 L141.23 391.96 L141.46 392.07 L141.68 392.16 L141.91 392.22 L142.13 392.20 L142.36 392.12 L142.59 392.02 L142.81 391.89 L143.04 391.74 L143.26 391.57 L143.49 391.37 L143.71 391.16 L143.94 390.94 L144.16 390.71 L144.39 390.46 L144.62 390.22 L144.84 389.96 L145.07 389.72 L145.29 389.47 L145.52 389.23 L145.74 389.00 L145.97 388.79 L146.20 388.59 L146.42 388.41 L146.65 388.26 L146.87 388.12 L147.10 388.01 L147.32 387.92 L147.55 387.86 L147.77 387.91 L148.00 387.99 L148.23 388.09 L148.45 388.21 L148.68 388.35 L148.90 388.51 L149.13 388.68 L149.35 388.87 L149.58 389.08 L149.80 389.29 L150.03 389.51 L150.26 389.73 L150.48 389.95 L150.71 390.18 L150.93 390.40 L151.16 390.61 L151.38 390.82 L151.61 391.01 L151.84 391.19 L152.06 391.36 L152.29 391.50 L152.51 391.63 L152.74 391.74 L152.96 391.82 L153.19 391.89 L153.41 391.88 L153.64 391.83 L153.87 391.77 L154.09 391.70 L154.32 391.61 L154.54 391.51 L154.77 391.40 L154.99 391.28 L155.22 391.15 L155.44 391.02 L155.67 390.88 L155.90 390.74 L156.12 390.60 L156.35 390.47 L156.57 390.34 L156.80 390.21 L157.02 390.10 L157.25 389.99 L157.48 389.90 L157.70 389.82 L157.93 389.76 L158.15 389.70 L158.38 389.67 L158.60 389.70 L158.83 389.75 L159.05 389.81 L159.28 389.88 L159.51 389.96 L159.73 390.05 L159.96 390.16 L160.18 390.27 L160.41 390.39 L160.63 390.51 L160.86 390.64 L161.08 390.78 L161.31 390.91 L161.54 391.05 L161.76 391.19 L161.99 391.32 L162.21 391.46 L162.44 391.58 L162.66 391.70 L162.89 391.82 L163.12 391.92 L163.34 392.02 L163.57 392.11 L163.79 392.18 L164.02 392.24 L164.24 392.29 L164.47 392.33 L164.69 392.32 L164.92 392.27 L165.15 392.21 L165.37 392.13 L165.60 392.05 L165.82 391.95 L166.05 391.83 L166.27 391.71 L166.50 391.58 L166.72 391.44 L166.95 391.30 L167.18 391.15 L167.40 391.01 L167.63 390.86 L167.85 390.71 L168.08 390.57 L168.30 390.43 L168.53 390.30 L168.76 390.18 L168.98 390.06 L169.21 389.96 L169.43 389.88 L169.66 389.80 L169.88 389.74 L170.11 389.69 L170.33 389.68 L170.56 389.72 L170.79 389.78 L171.01 389.85 L171.24 389.93 L171.46 390.03 L171.69 390.13 L171.91 390.25 L172.14 390.38 L172.36 390.51 L172.59 390.65 L172.82 390.79 L173.04 390.94 L173.27 391.08 L173.49 391.22 L173.72 391.36 L173.94 391.49 L174.17 391.62 L174.40 391.74 L174.62 391.85 L174.85 391.94 L175.07 392.02 L175.30 392.09 L175.52 392.15 L175.75 392.19 L175.97 392.19 L176.20 392.16 L176.43 392.12 L176.65 392.08 L176.88 392.02 L177.10 391.96 L177.33 391.90 L177.55 391.82 L177.78 391.74 L178.00 391.66 L178.23 391.58 L178.46 391.49 L178.68 391.41 L178.91 391.32 L179.13 391.24 L179.36 391.16 L179.58 391.09 L179.81 391.02 L180.04 390.96 L180.26 390.91 L180.49 390.86 L180.71 390.83 L180.94 390.80 L181.16 390.79 L181.39 390.82 L181.61 390.85 L181.84 390.89 L182.07 390.95 L182.29 391.00 L182.52 391.07 L182.74 391.14 L182.97 391.22 L183.19 391.30 L183.42 391.39 L183.64 391.47 L183.87 391.56 L184.10 391.65 L184.32 391.74 L184.55 391.83 L184.77 391.91 L185.00 391.99 L185.22 392.07 L185.45 392.14 L185.68 392.20 L185.90 392.26 L186.13 392.31 L186.35 392.35 L186.58 392.38 L186.80 392.40 L187.03 392.38 L187.25 392.34 L187.48 392.30 L187.71 392.24 L187.93 392.18 L188.16 392.11 L188.38 392.04 L188.61 391.95 L188.83 391.87 L189.06 391.77 L189.28 391.68 L189.51 391.58 L189.74 391.48 L189.96 391.38 L190.19 391.29 L190.41 391.19 L190.64 391.10 L190.86 391.02 L191.09 390.94 L191.32 390.87 L191.54 390.80 L191.77 390.75 L191.99 390.70 L192.22 390.66 L192.44 390.63 L192.67 390.64 L192.89 390.67 L193.12 390.71 L193.35 390.76 L193.57 390.82 L193.80 390.89 L194.02 390.97 L194.25 391.05 L194.47 391.13 L194.70 391.23 L194.92 391.32 L195.15 391.42 L195.38 391.52 L195.60 391.61 L195.83 391.71 L196.05 391.80 L196.28 391.89 L196.50 391.97 L196.73 392.05 L196.96 392.12 L197.18 392.18 L197.41 392.24 L197.63 392.28 L197.86 392.32 L198.08 392.34 L198.31 392.33 L198.53 392.31 L198.76 392.29 L198.99 392.27 L199.21 392.24 L199.44 392.21 L199.66 392.17 L199.89 392.14 L200.11 392.10 L200.34 392.05 L200.56 392.01 L200.79 391.97 L201.02 391.92 L201.24 391.88 L201.47 391.84 L201.69 391.79 L201.92 391.75 L202.14 391.72 L202.37 391.68 L202.60 391.65 L202.82 391.63 L203.05 391.60 L203.27 391.58 L203.50 391.57 L203.72 391.57 L203.95 391.58 L204.17 391.60 L204.40 391.62 L204.63 391.65 L204.85 391.68 L205.08 391.72 L205.30 391.76 L205.53 391.80 L205.75 391.84 L205.98 391.89 L206.20 391.94 L206.43 391.99 L206.66 392.03 L206.88 392.08 L207.11 392.13 L207.33 392.18 L207.56 392.22 L207.78 392.26 L208.01 392.30 L208.24 392.33 L208.46 392.36 L208.69 392.39 L208.91 392.41 L209.14 392.43 L209.36 392.44 L209.59 392.43 L209.81 392.40 L210.04 392.38 L210.27 392.35 L210.49 392.31 L210.72 392.27 L210.94 392.22 L211.17 392.17 L211.39 392.11 L211.62 392.06 L211.84 392.00 L212.07 391.94 L212.30 391.88 L212.52 391.82 L212.75 391.77 L212.97 391.71 L213.20 391.66 L213.42 391.61 L213.65 391.56 L213.88 391.52 L214.10 391.49 L214.33 391.46 L214.55 391.43 L214.78 391.41 L215.00 391.41 L215.23 391.42 L215.45 391.44 L215.68 391.47 L215.91 391.50 L216.13 391.54 L216.36 391.58 L216.58 391.62 L216.81 391.67 L217.03 391.72 L217.26 391.77 L217.48 391.83 L217.71 391.88 L217.94 391.94 L218.16 391.99 L218.39 392.05 L218.61 392.10 L218.84 392.15 L219.06 392.20 L219.29 392.24 L219.52 392.28 L219.74 392.31 L219.97 392.34 L220.19 392.37 L220.42 392.39 L220.64 392.40 L220.87 392.39 L221.09 392.39 L221.32 392.37 L221.55 392.36 L221.77 392.34 L222.00 392.33 L222.22 392.31 L222.45 392.29 L222.67 392.26 L222.90 392.24 L223.12 392.21 L223.35 392.19 L223.58 392.16 L223.80 392.14 L224.03 392.12 L224.25 392.09 L224.48 392.07 L224.70 392.05 L224.93 392.03 L225.16 392.01 L225.38 392.00 L225.61 391.98 L225.83 391.97 L226.06 391.97 L226.28 391.96 L226.51 391.97 L226.73 391.98 L226.96 392.00 L227.19 392.01 L227.41 392.03 L227.64 392.05 L227.86 392.07 L228.09 392.10 L228.31 392.12 L228.54 392.15 L228.76 392.17 L228.99 392.20 L229.22 392.23 L229.44 392.26 L229.67 392.28 L229.89 392.31 L230.12 392.33 L230.34 392.36 L230.57 392.38 L230.80 392.40 L231.02 392.42 L231.25 392.43 L231.47 392.44 L231.70 392.45 L231.92 392.46 L232.15 392.45 L232.37 392.44 L232.60 392.42 L232.83 392.40 L233.05 392.38 L233.28 392.36 L233.50 392.33 L233.73 392.30 L233.95 392.27 L234.18 392.24 L234.40 392.20 L234.63 392.17 L234.86 392.13 L235.08 392.10 L235.31 392.06 L235.53 392.03 L235.76 391.99 L235.98 391.96 L236.21 391.93 L236.44 391.90 L236.66 391.88 L236.89 391.86 L237.11 391.84 L237.34 391.82 L237.56 391.81 L237.79 391.80 L238.01 391.81 L238.24 391.82 L238.47 391.84 L238.69 391.86 L238.92 391.88 L239.14 391.91 L239.37 391.93 L239.59 391.96 L239.82 391.99 L240.04 392.03 L240.27 392.06 L240.50 392.10 L240.72 392.13 L240.95 392.17 L241.17 392.20 L241.40 392.24 L241.62 392.27 L241.85 392.30 L242.08 392.33 L242.30 392.35 L242.53 392.38 L242.75 392.40 L242.98 392.41 L243.20 392.43 L243.43 392.44 L243.65 392.44 L243.88 392.43 L244.11 392.43 L244.33 392.42 L244.56 392.41 L244.78 392.40 L245.01 392.39 L245.23 392.38 L245.46 392.36 L245.68 392.35 L245.91 392.34 L246.14 392.32 L246.36 392.31 L246.59 392.29 L246.81 392.28 L247.04 392.26 L247.26 392.25 L247.49 392.24 L247.72 392.23 L247.94 392.22 L248.17 392.21 L248.39 392.21 L248.62 392.20 L248.84 392.20 L249.07 392.21 L249.29 392.21 L249.52 392.22 L249.75 392.22 L249.97 392.23 L250.20 392.24 L250.42 392.25 L250.65 392.27 L250.87 392.28 L251.10 392.29 L251.32 392.30 L251.55 392.32 L251.78 392.33 L252.00 392.34 L252.23 392.36 L252.45 392.37 L252.68 392.38 L252.90 392.40 L253.13 392.41 L253.36 392.42 L253.58 392.43 L253.81 392.44 L254.03 392.44 L254.26 392.45 L254.48 392.46 L254.71 392.46 L254.93 392.46 L255.16 392.45 L255.39 392.45 L255.61 392.44 L255.84 392.43 L256.06 392.42 L256.29 392.40 L256.51 392.39 L256.74 392.38 L256.96 392.36 L257.19 392.35 L257.42 392.33 L257.64 392.31 L257.87 392.30 L258.09 392.28 L258.32 392.26 L258.54 392.25 L258.77 392.23 L259.00 392.22 L259.22 392.20 L259.45 392.19 L259.67 392.18 L259.90 392.17 L260.12 392.16 L260.35 392.15 L260.57 392.15 L260.80 392.14" stroke="#1a1aff"/>
<path d="M35.20 392.50 L35.43 355.63 L35.65 355.05 L35.88 354.27 L36.10 353.30 L36.33 352.20 L36.55 351.01 L36.78 349.77 L37.00 348.56 L37.23 347.41 L37.46 346.39 L37.68 345.53 L37.91 344.87 L38.13 344.43 L38.36 344.38 L38.58 344.51 L38.81 344.69 L39.04 344.91 L39.26 345.16 L39.49 345.41 L39.71 345.63 L39.94 345.82 L40.16 345.94 L40.39 345.76 L40.61 344.86 L40.84 343.65 L41.07 342.12 L41.29 340.31 L41.52 338.23 L41.74 335.89 L41.97 333.33 L42.19 330.57 L42.42 327.65 L42.64 324.60 L42.87 321.46 L43.10 318.27 L43.32 315.07 L43.55 311.89 L43.77 308.77 L44.00 305.76 L44.22 302.89 L44.45 300.20 L44.68 297.71 L44.90 295.45 L45.13 293.45 L45.35 291.74 L45.58 290.32 L45.80 289.21 L46.03 288.41 L46.25 289.59 L46.48 291.22 L46.71 293.31 L46.93 295.82 L47.16 298.74 L47.38 302.04 L47.61 305.69 L47.83 309.64 L48.06 313.86 L48.28 318.29 L48.51 322.88 L48.74 327.59 L48.96 332.34 L49.19 337.10 L49.41 341.81 L49.64 346.40 L49.86 350.83 L50.09 355.04 L50.32 359.00 L50.54 362.64 L50.77 365.95 L50.99 368.87 L51.22 371.38 L51.44 373.47 L51.67 375.10 L51.89 376.28 L52.12 375.69 L52.35 374.86 L52.57 373.79 L52.80 372.49 L53.02 370.97 L53.25 369.26 L53.47 367.37 L53.70 365.34 L53.92 363.19 L54.15 360.96 L54.38 358.66 L54.60 356.35 L54.83 354.04 L55.05 351.79 L55.28 349.60 L55.50 347.53 L55.73 345.59 L55.96 343.82 L56.18 342.24 L56.41 340.86 L56.63 339.71 L56.86 338.80 L57.08 338.13 L57.31 338.30 L57.53 338.97 L57.76 339.86 L57.99 340.95 L58.21 342.23 L58.44 343.70 L58.66 345.32 L58.89 347.09 L59.11 348.99 L59.34 350.99 L59.56 353.06 L59.79 355.19 L60.02 357.34 L60.24 359.50 L60.47 361.62 L60.69 363.70 L60.92 365.70 L61.14 367.59 L61.37 369.36 L61.60 370.99 L61.82 372.45 L62.05 373.73 L62.27 374.82 L62.50 375.71 L62.72 376.39 L62.95 376.58 L63.17 376.00 L63.40 375.22 L63.63 374.23 L63.85 373.05 L64.08 371.68 L64.30 370.16 L64.53 368.50 L64.75 366.71 L64.98 364.84 L65.20 362.89 L65.43 360.91 L65.66 358.92 L65.88 356.95 L66.11 355.03 L66.33 353.18 L66.56 351.43 L66.78 349.81 L67.01 348.34 L67.24 347.04 L67.46 345.92 L67.69 345.00 L67.91 344.28 L68.14 343.78 L68.36 344.29 L68.59 345.00 L68.81 345.90 L69.04 346.99 L69.27 348.25 L69.49 349.67 L69.72 351.24 L69.94 352.94 L70.17 354.77 L70.39 356.69 L70.62 358.69 L70.84 360.76 L71.07 362.85 L71.30 364.97 L71.52 367.07 L71.75 369.15 L71.97 371.18 L72.20 373.13 L72.42 374.99 L72.65 376.73 L72.88 378.35 L73.10 379.82 L73.33 381.14 L73.55 382.28 L73.78 383.24 L74.00 384.02 L74.23 384.60 L74.45 384.50 L74.68 383.97 L74.91 383.29 L75.13 382.44 L75.36 381.44 L75.58 380.30 L75.81 379.04 L76.03 377.66 L76.26 376.20 L76.48 374.66 L76.71 373.07 L76.94 371.45 L77.16 369.82 L77.39 368.21 L77.61 366.64 L77.84 365.12 L78.06 363.68 L78.29 362.34 L78.52 361.12 L78.74 360.03 L78.97 359.08 L79.19 358.28 L79.42 357.65 L79.64 357.18 L79.87 357.31 L80.09 357.81 L80.32 358.48 L80.55 359.30 L80.77 360.28 L81.00 361.39 L81.22 362.61 L81.45 363.95 L81.67 365.37 L81.90 366.85 L82.12 368.39 L82.35 369.94 L82.58 371.49 L82.80 373.02 L83.03 374.51 L83.25 375.93 L83.48 377.26 L83.70 378.49 L83.93 379.60 L84.16 380.57 L84.38 381.40 L84.61 382.06 L84.83 382.57 L85.06 382.74 L85.28 382.47 L85.51 382.10 L85.73 381.63 L85.96 381.08 L86.19 380.44 L86.41 379.72 L86.64 378.94 L86.86 378.10 L87.09 377.21 L87.31 376.28 L87.54 375.33 L87.76 374.37 L87.99 373.40 L88.22 372.45 L88.44 371.53 L88.67 370.64 L88.89 369.79 L89.12 369.01 L89.34 368.30 L89.57 367.66 L89.80 367.10 L90.02 366.64 L90.25 366.27 L90.47 365.99 L90.70 366.11 L90.92 366.48 L91.15 366.97 L91.37 367.57 L91.60 368.27 L91.83 369.07 L92.05 369.96 L92.28 370.94 L92.50 371.98 L92.73 373.08 L92.95 374.22 L93.18 375.40 L93.40 376.60 L93.63 377.80 L93.86 378.99 L94.08 380.16 L94.31 381.29 L94.53 382.37 L94.76 383.39 L94.98 384.34 L95.21 385.20 L95.44 385.97 L95.66 386.64 L95.89 387.20 L96.11 387.65 L96.34 387.98 L96.56 387.92 L96.79 387.61 L97.01 387.22 L97.24 386.73 L97.47 386.15 L97.69 385.50 L97.92 384.77 L98.14 383.97 L98.37 383.12 L98.59 382.22 L98.82 381.29 L99.04 380.32 L99.27 379.35 L99.50 378.36 L99.72 377.39 L99.95 376.43 L100.17 375.51 L100.40 374.62 L100.62 373.79 L100.85 373.02 L101.08 372.31 L101.30 371.68 L101.53 371.14 L101.75 370.68 L101.98 370.31 L102.20 370.04 L102.43 370.11 L102.65 370.40 L102.88 370.79 L103.11 371.27 L103.33 371.84 L103.56 372.48 L103.78 373.20 L104.01 373.98 L104.23 374.81 L104.46 375.68 L104.68 376.58 L104.91 377.49 L105.14 378.41 L105.36 379.33 L105.59 380.22 L105.81 381.08 L106.04 381.89 L106.26 382.65 L106.49 383.34 L106.72 383.96 L106.94 384.50 L107.17 384.95 L107.39 385.31 L107.62 385.57 L107.84 385.57 L108.07 385.42 L108.29 385.24 L108.52 385.01 L108.75 384.74 L108.97 384.44 L109.20 384.10 L109.42 383.73 L109.65 383.34 L109.87 382.92 L110.10 382.49 L110.32 382.04 L110.55 381.59 L110.78 381.14 L111.00 380.70 L111.23 380.27 L111.45 379.85 L111.68 379.46 L111.90 379.09 L112.13 378.75 L112.36 378.44 L112.58 378.17 L112.81 377.95 L113.03 377.76 L113.26 377.62 L113.48 377.60 L113.71 377.80 L113.93 378.07 L114.16 378.41 L114.39 378.81 L114.61 379.27 L114.84 379.79 L115.06 380.35 L115.29 380.96 L115.51 381.61 L115.74 382.28 L115.96 382.98 L116.19 383.68 L116.42 384.39 L116.64 385.09 L116.87 385.78 L117.09 386.45 L117.32 387.08 L117.54 387.68 L117.77 388.23 L118.00 388.73 L118.22 389.17 L118.45 389.55 L118.67 389.86 L118.90 390.11 L119.12 390.29 L119.35 390.14 L119.57 389.94 L119.80 389.68 L120.03 389.37 L120.25 389.02 L120.48 388.61 L120.70 388.17 L120.93 387.68 L121.15 387.17 L121.38 386.62 L121.60 386.05 L121.83 385.47 L122.06 384.87 L122.28 384.27 L122.51 383.67 L122.73 383.08 L122.96 382.51 L123.18 381.96 L123.41 381.43 L123.64 380.93 L123.86 380.47 L124.09 380.06 L124.31 379.68 L124.54 379.36 L124.76 379.09 L124.99 378.87 L125.21 378.70 L125.44 378.78 L125.67 379.04 L125.89 379.38 L126.12 379.80 L126.34 380.30 L126.57 380.87 L126.79 381.50 L127.02 382.18 L127.24 382.90 L127.47 383.65 L127.70 384.42 L127.92 385.19 L128.15 385.96 L128.37 386.70 L128.60 387.41 L128.82 388.07 L129.05 388.69 L129.28 389.23 L129.50 389.71 L129.73 390.10 L129.95 390.42 L130.18 390.64 L130.40 390.64 L130.63 390.52 L130.85 390.37 L131.08 390.17 L131.31 389.95 L131.53 389.69 L131.76 389.40 L131.98 389.09 L132.21 388.76 L132.43 388.40 L132.66 388.04 L132.88 387.66 L133.11 387.28 L133.34 386.90 L133.56 386.53 L133.79 386.16 L134.01 385.81 L134.24 385.47 L134.46 385.16 L134.69 384.87 L134.92 384.62 L135.14 384.39 L135.37 384.20 L135.59 384.04 L135.82 383.92 L136.04 383.89 L136.27 384.01 L136.49 384.17 L136.72 384.37 L136.95 384.61 L137.17 384.88 L137.40 385.19 L137.62 385.52 L137.85 385.88 L138.07 386.27 L138.30 386.67 L138.52 387.09 L138.75 387.52 L138.98 387.95 L139.20 388.38 L139.43 388.81 L139.65 389.22 L139.88 389.63 L140.10 390.01 L140.33 390.37 L140.56 390.71 L140.78 391.01 L141.01 391.29 L141.23 391.52 L141.46 391.72 L141.68 391.88 L141.91 392.00 L142.13 391.96 L142.36 391.82 L142.59 391.63 L142.81 391.40 L143.04 391.12 L143.26 390.81 L143.49 390.47 L143.71 390.09 L143.94 389.69 L144.16 389.26 L144.39 388.82 L144.62 388.38 L144.84 387.92 L145.07 387.47 L145.29 387.03 L145.52 386.60 L145.74 386.19 L145.97 385.80 L146.20 385.45 L146.42 385.12 L146.65 384.84 L146.87 384.59 L147.10 384.39 L147.32 384.23 L147.55 384.11 L147.77 384.22 L148.00 384.36 L148.23 384.54 L148.45 384.75 L148.68 385.01 L148.90 385.29 L149.13 385.61 L149.35 385.95 L149.58 386.32 L149.80 386.70 L150.03 387.09 L150.26 387.50 L150.48 387.90 L150.71 388.31 L150.93 388.71 L151.16 389.09 L151.38 389.46 L151.61 389.81 L151.84 390.14 L152.06 390.44 L152.29 390.70 L152.51 390.93 L152.74 391.12 L152.96 391.28 L153.19 391.39 L153.41 391.38 L153.64 391.30 L153.87 391.19 L154.09 391.05 L154.32 390.89 L154.54 390.71 L154.77 390.51 L154.99 390.29 L155.22 390.06 L155.44 389.82 L155.67 389.57 L155.90 389.32 L156.12 389.07 L156.35 388.83 L156.57 388.59 L156.80 388.37 L157.02 388.16 L157.25 387.97 L157.48 387.81 L157.70 387.66 L157.93 387.54 L158.15 387.45 L158.38 387.39 L158.60 387.45 L158.83 387.53 L159.05 387.64 L159.28 387.77 L159.51 387.92 L159.73 388.08 L159.96 388.27 L160.18 388.47 L160.41 388.68 L160.63 388.91 L160.86 389.15 L161.08 389.39 L161.31 389.64 L161.54 389.88 L161.76 390.13 L161.99 390.38 L162.21 390.61 L162.44 390.84 L162.66 391.06 L162.89 391.27 L163.12 391.46 L163.34 391.63 L163.57 391.79 L163.79 391.92 L164.02 392.03 L164.24 392.13 L164.47 392.19 L164.69 392.17 L164.92 392.09 L165.15 391.98 L165.37 391.84 L165.60 391.68 L165.82 391.50 L166.05 391.30 L166.27 391.08 L166.50 390.84 L166.72 390.59 L166.95 390.33 L167.18 390.07 L167.40 389.80 L167.63 389.53 L167.85 389.27 L168.08 389.01 L168.30 388.76 L168.53 388.53 L168.76 388.31 L168.98 388.10 L169.21 387.92 L169.43 387.76 L169.66 387.63 L169.88 387.52 L170.11 387.43 L170.33 387.41 L170.56 387.48 L170.79 387.58 L171.01 387.71 L171.24 387.86 L171.46 388.03 L171.69 388.23 L171.91 388.44 L172.14 388.66 L172.36 388.91 L172.59 389.16 L172.82 389.41 L173.04 389.67 L173.27 389.94 L173.49 390.19 L173.72 390.44 L173.94 390.68 L174.17 390.91 L174.40 391.12 L174.62 391.32 L174.85 391.49 L175.07 391.64 L175.30 391.77 L175.52 391.87 L175.75 391.94 L175.97 391.94 L176.20 391.89 L176.43 391.82 L176.65 391.74 L176.88 391.64 L177.10 391.53 L177.33 391.41 L177.55 391.28 L177.78 391.14 L178.00 390.99 L178.23 390.84 L178.46 390.68 L178.68 390.53 L178.91 390.38 L179.13 390.23 L179.36 390.09 L179.58 389.96 L179.81 389.83 L180.04 389.72 L180.26 389.63 L180.49 389.55 L180.71 389.48 L180.94 389.43 L181.16 389.42 L181.39 389.46 L181.61 389.52 L181.84 389.60 L182.07 389.69 L182.29 389.80 L182.52 389.92 L182.74 390.05 L182.97 390.19 L183.19 390.33 L183.42 390.49 L183.64 390.65 L183.87 390.81 L184.10 390.97 L184.32 391.13 L184.55 391.29 L184.77 391.44 L185.00 391.59 L185.22 391.72 L185.45 391.85 L185.68 391.96 L185.90 392.06 L186.13 392.15 L186.35 392.22 L186.58 392.28 L186.80 392.32 L187.03 392.28 L187.25 392.21 L187.48 392.13 L187.71 392.04 L187.93 391.93 L188.16 391.80 L188.38 391.66 L188.61 391.51 L188.83 391.35 L189.06 391.19 L189.28 391.01 L189.51 390.84 L189.74 390.66 L189.96 390.48 L190.19 390.31 L190.41 390.14 L190.64 389.97 L190.86 389.82 L191.09 389.68 L191.32 389.55 L191.54 389.43 L191.77 389.33 L191.99 389.25 L192.22 389.18 L192.44 389.13 L192.67 389.14 L192.89 389.20 L193.12 389.27 L193.35 389.37 L193.57 389.47 L193.80 389.59 L194.02 389.73 L194.25 389.88 L194.47 390.03 L194.70 390.20 L194.92 390.37 L195.15 390.55 L195.38 390.72 L195.60 390.90 L195.83 391.07 L196.05 391.24 L196.28 391.40 L196.50 391.55 L196.73 391.69 L196.96 391.82 L197.18 391.93 L197.41 392.03 L197.63 392.11 L197.86 392.17 L198.08 392.21 L198.31 392.19 L198.53 392.16 L198.76 392.13 L198.99 392.08 L199.21 392.03 L199.44 391.98 L199.66 391.91 L199.89 391.84 L200.11 391.77 L200.34 391.70 L200.56 391.62 L200.79 391.54 L201.02 391.46 L201.24 391.38 L201.47 391.30 L201.69 391.22 L201.92 391.15 L202.14 391.09 L202.37 391.02 L202.60 390.97 L202.82 390.92 L203.05 390.88 L203.27 390.85 L203.50 390.82 L203.72 390.81 L203.95 390.84 L204.17 390.87 L204.40 390.91 L204.63 390.96 L204.85 391.02 L205.08 391.09 L205.30 391.16 L205.53 391.23 L205.75 391.31 L205.98 391.40 L206.20 391.48 L206.43 391.57 L206.66 391.66 L206.88 391.75 L207.11 391.83 L207.33 391.91 L207.56 391.99 L207.78 392.07 L208.01 392.14 L208.24 392.20 L208.46 392.25 L208.69 392.30 L208.91 392.34 L209.14 392.37 L209.36 392.39 L209.59 392.37 L209.81 392.33 L210.04 392.28 L210.27 392.22 L210.49 392.15 L210.72 392.08 L210.94 391.99 L211.17 391.90 L211.39 391.80 L211.62 391.70 L211.84 391.60 L212.07 391.49 L212.30 391.39 L212.52 391.28 L212.75 391.18 L212.97 391.08 L213.20 390.98 L213.42 390.89 L213.65 390.81 L213.88 390.74 L214.10 390.67 L214.33 390.62 L214.55 390.57 L214.78 390.54 L215.00 390.53 L215.23 390.56 L215.45 390.59 L215.68 390.64 L215.91 390.70 L216.13 390.76 L216.36 390.84 L216.58 390.92 L216.81 391.00 L217.03 391.09 L217.26 391.19 L217.48 391.29 L217.71 391.39 L217.94 391.49 L218.16 391.59 L218.39 391.68 L218.61 391.78 L218.84 391.87 L219.06 391.95 L219.29 392.03 L219.52 392.10 L219.74 392.16 L219.97 392.22 L220.19 392.26 L220.42 392.30 L220.64 392.32 L220.87 392.31 L221.09 392.29 L221.32 392.27 L221.55 392.25 L221.77 392.22 L222.00 392.19 L222.22 392.15 L222.45 392.11 L222.67 392.07 L222.90 392.03 L223.12 391.98 L223.35 391.94 L223.58 391.89 L223.80 391.85 L224.03 391.81 L224.25 391.76 L224.48 391.72 L224.70 391.68 L224.93 391.65 L225.16 391.62 L225.38 391.59 L225.61 391.57 L225.83 391.55 L226.06 391.54 L226.28 391.53 L226.51 391.55 L226.73 391.56 L226.96 391.59 L227.19 391.62 L227.41 391.65 L227.64 391.69 L227.86 391.73 L228.09 391.77 L228.31 391.81 L228.54 391.86 L228.76 391.91 L228.99 391.96 L229.22 392.01 L229.44 392.06 L229.67 392.11 L229.89 392.16 L230.12 392.20 L230.34 392.24 L230.57 392.28 L230.80 392.32 L231.02 392.35 L231.25 392.38 L231.47 392.40 L231.70 392.42 L231.92 392.43 L232.15 392.41 L232.37 392.39 L232.60 392.36 L232.83 392.33 L233.05 392.29 L233.28 392.24 L233.50 392.19 L233.73 392.14 L233.95 392.08 L234.18 392.02 L234.40 391.96 L234.63 391.90 L234.86 391.83 L235.08 391.77 L235.31 391.71 L235.53 391.64 L235.76 391.58 L235.98 391.53 L236.21 391.47 L236.44 391.42 L236.66 391.38 L236.89 391.34 L237.11 391.31 L237.34 391.28 L237.56 391.26 L237.79 391.24 L238.01 391.26 L238.24 391.28 L238.47 391.31 L238.69 391.34 L238.92 391.38 L239.14 391.43 L239.37 391.48 L239.59 391.53 L239.82 391.59 L240.04 391.65 L240.27 391.71 L240.50 391.77 L240.72 391.84 L240.95 391.90 L241.17 391.96 L241.40 392.03 L241.62 392.08 L241.85 392.14 L242.08 392.19 L242.30 392.24 L242.53 392.28 L242.75 392.31 L242.98 392.35 L243.20 392.37 L243.43 392.39 L243.65 392.39 L243.88 392.38 L244.11 392.37 L244.33 392.35 L244.56 392.34 L244.78 392.32 L245.01 392.30 L245.23 392.28 L245.46 392.25 L245.68 392.23 L245.91 392.20 L246.14 392.18 L246.36 392.15 L246.59 392.12 L246.81 392.10 L247.04 392.08 L247.26 392.05 L247.49 392.03 L247.72 392.01 L247.94 392.00 L248.17 391.98 L248.39 391.97 L248.62 391.96 L248.84 391.96 L249.07 391.97 L249.29 391.98 L249.52 391.99 L249.75 392.00 L249.97 392.02 L250.20 392.04 L250.42 392.06 L250.65 392.08 L250.87 392.10 L251.10 392.12 L251.32 392.14 L251.55 392.17 L251.78 392.19 L252.00 392.22 L252.23 392.24 L252.45 392.27 L252.68 392.29 L252.90 392.31 L253.13 392.33 L253.36 392.35 L253.58 392.37 L253.81 392.39 L254.03 392.40 L254.26 392.41 L254.48 392.42 L254.71 392.43 L254.93 392.42 L255.16 392.41 L255.39 392.40 L255.61 392.39 L255.84 392.37 L256.06 392.35 L256.29 392.33 L256.51 392.30 L256.74 392.28 L256.96 392.25 L257.19 392.22 L257.42 392.19 L257.64 392.16 L257.87 392.13 L258.09 392.10 L258.32 392.07 L258.54 392.04 L258.77 392.01 L259.00 391.99 L259.22 391.96 L259.45 391.94 L259.67 391.92 L259.90 391.90 L260.12 391.88 L260.35 391.87 L260.57 391.86 L260.80 391.85" stroke="#1aff1a"/>
<path d="M35.20 392.50 L35.43 330.63 L35.65 329.92 L35.88 328.95 L36.10 327.76 L36.33 326.39 L36.55 324.91 L36.78 323.39 L37.00 321.88 L37.23 320.46 L37.46 319.19 L37.68 318.13 L37.91 317.31 L38.13 316.77 L38.36 316.78 L38.58 317.11 L38.81 317.60 L39.04 318.20 L39.26 318.86 L39.49 319.52 L39.71 320.12 L39.94 320.61 L40.16 320.95 L40.39 320.73 L40.61 319.36 L40.84 317.51 L41.07 315.20 L41.29 312.45 L41.52 309.28 L41.74 305.73 L41.97 301.84 L42.19 297.65 L42.42 293.21 L42.64 288.58 L42.87 283.81 L43.10 278.96 L43.32 274.09 L43.55 269.26 L43.77 264.53 L44.00 259.96 L44.22 255.60 L44.45 251.50 L44.68 247.72 L44.90 244.29 L45.13 241.26 L45.35 238.65 L45.58 236.50 L45.80 234.81 L46.03 233.60 L46.25 235.41 L46.48 237.94 L46.71 241.15 L46.93 245.03 L47.16 249.55 L47.38 254.64 L47.61 260.27 L47.83 266.38 L48.06 272.88 L48.28 279.72 L48.51 286.81 L48.74 294.07 L48.96 301.42 L49.19 308.77 L49.41 316.03 L49.64 323.12 L49.86 329.96 L50.09 336.47 L50.32 342.57 L50.54 348.20 L50.77 353.30 L50.99 357.81 L51.22 361.69 L51.44 364.91 L51.67 367.43 L51.89 369.25 L52.12 368.24 L52.35 366.82 L52.57 364.98 L52.80 362.75 L53.02 360.16 L53.25 357.23 L53.47 354.00 L53.70 350.52 L53.92 346.84 L54.15 343.01 L54.38 339.08 L54.60 335.12 L54.83 331.17 L55.05 327.31 L55.28 323.57 L55.50 320.02 L55.73 316.70 L55.96 313.67 L56.18 310.96 L56.41 308.60 L56.63 306.63 L56.86 305.07 L57.08 303.92 L57.31 304.20 L57.53 305.33 L57.76 306.82 L57.99 308.65 L58.21 310.81 L58.44 313.26 L58.66 315.99 L58.89 318.96 L59.11 322.14 L59.34 325.49 L59.56 328.98 L59.79 332.55 L60.02 336.16 L60.24 339.78 L60.47 343.35 L60.69 346.83 L60.92 350.19 L61.14 353.37 L61.37 356.34 L61.60 359.07 L61.82 361.52 L62.05 363.68 L62.27 365.51 L62.50 367.00 L62.72 368.13 L62.95 368.47 L63.17 367.59 L63.40 366.39 L63.63 364.88 L63.85 363.07 L64.08 360.99 L64.30 358.66 L64.53 356.11 L64.75 353.39 L64.98 350.52 L65.20 347.55 L65.43 344.52 L65.66 341.47 L65.88 338.46 L66.11 335.51 L66.33 332.69 L66.56 330.02 L66.78 327.54 L67.01 325.29 L67.24 323.29 L67.46 321.58 L67.69 320.17 L67.91 319.08 L68.14 318.31 L68.36 319.10 L68.59 320.19 L68.81 321.56 L69.04 323.22 L69.27 325.14 L69.49 327.32 L69.72 329.72 L69.94 332.33 L70.17 335.12 L70.39 338.06 L70.62 341.13 L70.84 344.28 L71.07 347.49 L71.30 350.72 L71.52 353.95 L71.75 357.12 L71.97 360.22 L72.20 363.21 L72.42 366.05 L72.65 368.72 L72.88 371.20 L73.10 373.45 L73.33 375.46 L73.55 377.21 L73.78 378.68 L74.00 379.86 L74.23 380.75 L74.45 380.56 L74.68 379.69 L74.91 378.55 L75.13 377.14 L75.36 375.48 L75.58 373.58 L75.81 371.48 L76.03 369.19 L76.26 366.75 L76.48 364.19 L76.71 361.55 L76.94 358.85 L77.16 356.15 L77.39 353.47 L77.61 350.85 L77.84 348.32 L78.06 345.93 L78.29 343.70 L78.52 341.66 L78.74 339.84 L78.97 338.26 L79.19 336.94 L79.42 335.89 L79.64 335.11 L79.87 335.33 L80.09 336.17 L80.32 337.29 L80.55 338.68 L80.77 340.31 L81.00 342.17 L81.22 344.23 L81.45 346.46 L81.67 348.85 L81.90 351.34 L82.12 353.91 L82.35 356.51 L82.58 359.12 L82.80 361.68 L83.03 364.18 L83.25 366.56 L83.48 368.80 L83.70 370.86 L83.93 372.72 L84.16 374.35 L84.38 375.73 L84.61 376.85 L84.83 377.70 L85.06 378.00 L85.28 377.58 L85.51 377.00 L85.73 376.29 L85.96 375.43 L86.19 374.45 L86.41 373.35 L86.64 372.14 L86.86 370.84 L87.09 369.47 L87.31 368.04 L87.54 366.58 L87.76 365.09 L87.99 363.61 L88.22 362.14 L88.44 360.71 L88.67 359.34 L88.89 358.05 L89.12 356.84 L89.34 355.74 L89.57 354.75 L89.80 353.90 L90.02 353.18 L90.25 352.61 L90.47 352.19 L90.70 352.37 L90.92 352.95 L91.15 353.71 L91.37 354.64 L91.60 355.74 L91.83 356.99 L92.05 358.37 L92.28 359.89 L92.50 361.51 L92.73 363.22 L92.95 365.01 L93.18 366.84 L93.40 368.71 L93.63 370.58 L93.86 372.43 L94.08 374.25 L94.31 376.01 L94.53 377.70 L94.76 379.29 L94.98 380.76 L95.21 382.10 L95.44 383.30 L95.66 384.34 L95.89 385.22 L96.11 385.92 L96.34 386.44 L96.56 386.33 L96.79 385.83 L97.01 385.18 L97.24 384.38 L97.47 383.45 L97.69 382.38 L97.92 381.19 L98.14 379.90 L98.37 378.51 L98.59 377.04 L98.82 375.52 L99.04 373.95 L99.27 372.35 L99.50 370.75 L99.72 369.17 L99.95 367.61 L100.17 366.10 L100.40 364.66 L100.62 363.30 L100.85 362.04 L101.08 360.89 L101.30 359.87 L101.53 358.97 L101.75 358.23 L101.98 357.63 L102.20 357.18 L102.43 357.31 L102.65 357.80 L102.88 358.45 L103.11 359.26 L103.33 360.20 L103.56 361.28 L103.78 362.48 L104.01 363.78 L104.23 365.17 L104.46 366.63 L104.68 368.14 L104.91 369.67 L105.14 371.21 L105.36 372.74 L105.59 374.24 L105.81 375.67 L106.04 377.04 L106.26 378.31 L106.49 379.47 L106.72 380.50 L106.94 381.40 L107.17 382.16 L107.39 382.76 L107.62 383.20 L107.84 383.19 L108.07 382.95 L108.29 382.64 L108.52 382.26 L108.75 381.81 L108.97 381.29 L109.20 380.72 L109.42 380.10 L109.65 379.43 L109.87 378.73 L110.10 378.00 L110.32 377.26 L110.55 376.50 L110.78 375.74 L111.00 374.99 L111.23 374.27 L111.45 373.56 L111.68 372.90 L111.90 372.27 L112.13 371.70 L112.36 371.19 L112.58 370.74 L112.81 370.36 L113.03 370.04 L113.26 369.81 L113.48 369.77 L113.71 370.08 L113.93 370.49 L114.16 371.01 L114.39 371.63 L114.61 372.35 L114.84 373.15 L115.06 374.02 L115.29 374.97 L115.51 375.97 L115.74 377.01 L115.96 378.09 L116.19 379.18 L116.42 380.28 L116.64 381.36 L116.87 382.43 L117.09 383.46 L117.32 384.44 L117.54 385.36 L117.77 386.22 L118.00 386.99 L118.22 387.67 L118.45 388.26 L118.67 388.75 L118.90 389.13 L119.12 389.40 L119.35 389.17 L119.57 388.86 L119.80 388.46 L120.03 387.98 L120.25 387.43 L120.48 386.80 L120.70 386.10 L120.93 385.35 L121.15 384.54 L121.38 383.69 L121.60 382.81 L121.83 381.90 L122.06 380.97 L122.28 380.04 L122.51 379.10 L122.73 378.19 L122.96 377.29 L123.18 376.43 L123.41 375.61 L123.64 374.84 L123.86 374.12 L124.09 373.47 L124.31 372.89 L124.54 372.39 L124.76 371.96 L124.99 371.62 L125.21 371.36 L125.44 371.48 L125.67 371.87 L125.89 372.40 L126.12 373.04 L126.34 373.81 L126.57 374.68 L126.79 375.65 L127.02 376.69 L127.24 377.79 L127.47 378.94 L127.70 380.12 L127.92 381.30 L128.15 382.47 L128.37 383.61 L128.60 384.69 L128.82 385.71 L129.05 386.65 L129.28 387.48 L129.50 388.21 L129.73 388.82 L129.95 389.30 L130.18 389.65 L130.40 389.64 L130.63 389.46 L130.85 389.22 L131.08 388.92 L131.31 388.57 L131.53 388.18 L131.76 387.73 L131.98 387.25 L132.21 386.74 L132.43 386.20 L132.66 385.63 L132.88 385.06 L133.11 384.47 L133.34 383.89 L133.56 383.31 L133.79 382.75 L134.01 382.20 L134.24 381.69 L134.46 381.21 L134.69 380.77 L134.92 380.37 L135.14 380.02 L135.37 379.73 L135.59 379.49 L135.82 379.30 L136.04 379.26 L136.27 379.44 L136.49 379.69 L136.72 380.00 L136.95 380.36 L137.17 380.78 L137.40 381.25 L137.62 381.77 L137.85 382.32 L138.07 382.91 L138.30 383.53 L138.52 384.18 L138.75 384.83 L138.98 385.50 L139.20 386.16 L139.43 386.82 L139.65 387.46 L139.88 388.08 L140.10 388.67 L140.33 389.23 L140.56 389.74 L140.78 390.21 L141.01 390.63 L141.23 391.00 L141.46 391.30 L141.68 391.55 L141.91 391.73 L142.13 391.67 L142.36 391.45 L142.59 391.16 L142.81 390.80 L143.04 390.38 L143.26 389.90 L143.49 389.37 L143.71 388.79 L143.94 388.17 L144.16 387.52 L144.39 386.84 L144.62 386.15 L144.84 385.46 L145.07 384.76 L145.29 384.08 L145.52 383.42 L145.74 382.79 L145.97 382.20 L146.20 381.65 L146.42 381.15 L146.65 380.71 L146.87 380.33 L147.10 380.02 L147.32 379.77 L147.55 379.60 L147.77 379.75 L148.00 379.97 L148.23 380.25 L148.45 380.58 L148.68 380.97 L148.90 381.41 L149.13 381.90 L149.35 382.43 L149.58 382.99 L149.80 383.57 L150.03 384.18 L150.26 384.80 L150.48 385.43 L150.71 386.05 L150.93 386.66 L151.16 387.26 L151.38 387.83 L151.61 388.37 L151.84 388.87 L152.06 389.32 L152.29 389.73 L152.51 390.08 L152.74 390.38 L152.96 390.62 L153.19 390.79 L153.41 390.78 L153.64 390.65 L153.87 390.48 L154.09 390.28 L154.32 390.03 L154.54 389.75 L154.77 389.44 L154.99 389.11 L155.22 388.75 L155.44 388.38 L155.67 388.00 L155.90 387.61 L156.12 387.23 L156.35 386.85 L156.57 386.49 L156.80 386.14 L157.02 385.83 L157.25 385.54 L157.48 385.28 L157.70 385.06 L157.93 384.88 L158.15 384.74 L158.38 384.64 L158.60 384.73 L158.83 384.86 L159.05 385.02 L159.28 385.22 L159.51 385.45 L159.73 385.70 L159.96 385.99 L160.18 386.30 L160.41 386.63 L160.63 386.98 L160.86 387.34 L161.08 387.71 L161.31 388.09 L161.54 388.48 L161.76 388.86 L161.99 389.23 L162.21 389.60 L162.44 389.95 L162.66 390.29 L162.89 390.61 L163.12 390.90 L163.34 391.17 L163.57 391.40 L163.79 391.61 L164.02 391.78 L164.24 391.92 L164.47 392.03 L164.69 391.99 L164.92 391.86 L165.15 391.69 L165.37 391.49 L165.60 391.24 L165.82 390.96 L166.05 390.65 L166.27 390.31 L166.50 389.95 L166.72 389.56 L166.95 389.17 L167.18 388.76 L167.40 388.35 L167.63 387.94 L167.85 387.53 L168.08 387.13 L168.30 386.75 L168.53 386.39 L168.76 386.05 L168.98 385.74 L169.21 385.46 L169.43 385.21 L169.66 385.00 L169.88 384.83 L170.11 384.70 L170.33 384.67 L170.56 384.78 L170.79 384.94 L171.01 385.13 L171.24 385.36 L171.46 385.63 L171.69 385.92 L171.91 386.25 L172.14 386.60 L172.36 386.97 L172.59 387.36 L172.82 387.75 L173.04 388.15 L173.27 388.56 L173.49 388.95 L173.72 389.34 L173.94 389.71 L174.17 390.06 L174.40 390.38 L174.62 390.68 L174.85 390.95 L175.07 391.18 L175.30 391.37 L175.52 391.53 L175.75 391.64 L175.97 391.63 L176.20 391.56 L176.43 391.45 L176.65 391.33 L176.88 391.18 L177.10 391.01 L177.33 390.82 L177.55 390.62 L177.78 390.40 L178.00 390.17 L178.23 389.94 L178.46 389.70 L178.68 389.47 L178.91 389.23 L179.13 389.01 L179.36 388.79 L179.58 388.59 L179.81 388.40 L180.04 388.23 L180.26 388.08 L180.49 387.95 L180.71 387.85 L180.94 387.78 L181.16 387.76 L181.39 387.83 L181.61 387.92 L181.84 388.04 L182.07 388.18 L182.29 388.34 L182.52 388.53 L182.74 388.72 L182.97 388.94 L183.19 389.17 L183.42 389.40 L183.64 389.65 L183.87 389.90 L184.10 390.15 L184.32 390.39 L184.55 390.64 L184.77 390.87 L185.00 391.10 L185.22 391.31 L185.45 391.50 L185.68 391.67 L185.90 391.83 L186.13 391.96 L186.35 392.07 L186.58 392.16 L186.80 392.22 L187.03 392.16 L187.25 392.06 L187.48 391.94 L187.71 391.79 L187.93 391.62 L188.16 391.43 L188.38 391.21 L188.61 390.98 L188.83 390.74 L189.06 390.48 L189.28 390.21 L189.51 389.94 L189.74 389.67 L189.96 389.39 L190.19 389.13 L190.41 388.87 L190.64 388.62 L190.86 388.38 L191.09 388.16 L191.32 387.96 L191.54 387.78 L191.77 387.63 L191.99 387.50 L192.22 387.39 L192.44 387.32 L192.67 387.34 L192.89 387.42 L193.12 387.54 L193.35 387.68 L193.57 387.84 L193.80 388.03 L194.02 388.24 L194.25 388.46 L194.47 388.71 L194.70 388.96 L194.92 389.23 L195.15 389.49 L195.38 389.77 L195.60 390.04 L195.83 390.30 L196.05 390.56 L196.28 390.81 L196.50 391.04 L196.73 391.26 L196.96 391.45 L197.18 391.62 L197.41 391.77 L197.63 391.89 L197.86 391.99 L198.08 392.06 L198.31 392.03 L198.53 391.98 L198.76 391.93 L198.99 391.86 L199.21 391.78 L199.44 391.69 L199.66 391.60 L199.89 391.49 L200.11 391.38 L200.34 391.26 L200.56 391.14 L200.79 391.02 L201.02 390.90 L201.24 390.77 L201.47 390.65 L201.69 390.54 L201.92 390.43 L202.14 390.32 L202.37 390.23 L202.60 390.15 L202.82 390.07 L203.05 390.01 L203.27 389.96 L203.50 389.92 L203.72 389.91 L203.95 389.95 L204.17 390.00 L204.40 390.06 L204.63 390.14 L204.85 390.23 L205.08 390.33 L205.30 390.43 L205.53 390.55 L205.75 390.67 L205.98 390.80 L206.20 390.94 L206.43 391.07 L206.66 391.21 L206.88 391.34 L207.11 391.47 L207.33 391.60 L207.56 391.72 L207.78 391.84 L208.01 391.94 L208.24 392.04 L208.46 392.12 L208.69 392.19 L208.91 392.25 L209.14 392.30 L209.36 392.33 L209.59 392.29 L209.81 392.24 L210.04 392.16 L210.27 392.07 L210.49 391.97 L210.72 391.85 L210.94 391.72 L211.17 391.58 L211.39 391.43 L211.62 391.27 L211.84 391.11 L212.07 390.95 L212.30 390.78 L212.52 390.62 L212.75 390.46 L212.97 390.31 L213.20 390.16 L213.42 390.02 L213.65 389.90 L213.88 389.79 L214.10 389.69 L214.33 389.60 L214.55 389.53 L214.78 389.48 L215.00 389.47 L215.23 389.51 L215.45 389.57 L215.68 389.64 L215.91 389.73 L216.13 389.83 L216.36 389.94 L216.58 390.06 L216.81 390.20 L217.03 390.34 L217.26 390.48 L217.48 390.63 L217.71 390.79 L217.94 390.94 L218.16 391.09 L218.39 391.24 L218.61 391.39 L218.84 391.53 L219.06 391.66 L219.29 391.78 L219.52 391.88 L219.74 391.98 L219.97 392.06 L220.19 392.13 L220.42 392.18 L220.64 392.22 L220.87 392.21 L221.09 392.18 L221.32 392.15 L221.55 392.11 L221.77 392.07 L222.00 392.02 L222.22 391.96 L222.45 391.90 L222.67 391.84 L222.90 391.77 L223.12 391.71 L223.35 391.64 L223.58 391.57 L223.80 391.50 L224.03 391.43 L224.25 391.37 L224.48 391.30 L224.70 391.25 L224.93 391.19 L225.16 391.14 L225.38 391.10 L225.61 391.07 L225.83 391.04 L226.06 391.02 L226.28 391.01 L226.51 391.03 L226.73 391.06 L226.96 391.10 L227.19 391.14 L227.41 391.19 L227.64 391.25 L227.86 391.31 L228.09 391.38 L228.31 391.45 L228.54 391.52 L228.76 391.59 L228.99 391.67 L229.22 391.75 L229.44 391.82 L229.67 391.90 L229.89 391.97 L230.12 392.04 L230.34 392.11 L230.57 392.17 L230.80 392.22 L231.02 392.27 L231.25 392.31 L231.47 392.34 L231.70 392.37 L231.92 392.39 L232.15 392.36 L232.37 392.33 L232.60 392.29 L232.83 392.24 L233.05 392.17 L233.28 392.11 L233.50 392.03 L233.73 391.95 L233.95 391.86 L234.18 391.77 L234.40 391.67 L234.63 391.57 L234.86 391.48 L235.08 391.38 L235.31 391.28 L235.53 391.18 L235.76 391.09 L235.98 391.00 L236.21 390.92 L236.44 390.85 L236.66 390.78 L236.89 390.72 L237.11 390.66 L237.34 390.62 L237.56 390.59 L237.79 390.56 L238.01 390.59 L238.24 390.62 L238.47 390.66 L238.69 390.72 L238.92 390.78 L239.14 390.85 L239.37 390.92 L239.59 391.01 L239.82 391.10 L240.04 391.19 L240.27 391.28 L240.50 391.38 L240.72 391.48 L240.95 391.58 L241.17 391.68 L241.40 391.77 L241.62 391.86 L241.85 391.94 L242.08 392.02 L242.30 392.09 L242.53 392.16 L242.75 392.21 L242.98 392.26 L243.20 392.30 L243.43 392.33 L243.65 392.33 L243.88 392.31 L244.11 392.30 L244.33 392.28 L244.56 392.25 L244.78 392.22 L245.01 392.19 L245.23 392.16 L245.46 392.12 L245.68 392.08 L245.91 392.04 L246.14 392.00 L246.36 391.96 L246.59 391.92 L246.81 391.88 L247.04 391.85 L247.26 391.81 L247.49 391.78 L247.72 391.75 L247.94 391.73 L248.17 391.71 L248.39 391.69 L248.62 391.68 L248.84 391.67 L249.07 391.68 L249.29 391.70 L249.52 391.71 L249.75 391.74 L249.97 391.76 L250.20 391.79 L250.42 391.82 L250.65 391.85 L250.87 391.88 L251.10 391.92 L251.32 391.95 L251.55 391.99 L251.78 392.03 L252.00 392.07 L252.23 392.10 L252.45 392.14 L252.68 392.18 L252.90 392.21 L253.13 392.24 L253.36 392.27 L253.58 392.30 L253.81 392.32 L254.03 392.34 L254.26 392.36 L254.48 392.38 L254.71 392.39 L254.93 392.38 L255.16 392.37 L255.39 392.35 L255.61 392.33 L255.84 392.30 L256.06 392.27 L256.29 392.23 L256.51 392.20 L256.74 392.16 L256.96 392.11 L257.19 392.07 L257.42 392.02 L257.64 391.98 L257.87 391.93 L258.09 391.88 L258.32 391.84 L258.54 391.79 L258.77 391.75 L259.00 391.71 L259.22 391.67 L259.45 391.64 L259.67 391.60 L259.90 391.58 L260.12 391.55 L260.35 391.53 L260.57 391.51 L260.80 391.50" stroke="#ff1aff"/>
</g>
<rect x="187.2" y="222.3" width="70.0" height="60.8" fill="#fff" stroke="#b8b8b8" stroke-width="0.9"/>
<path d="M190.6 229.3 H209.1" stroke="#000000" stroke-width="1.1"/>
<path d="M190.6 241.5 H209.1" stroke="#ff1a1a" stroke-width="1.1"/>
<path d="M190.6 253.5 H209.1" stroke="#1a1aff" stroke-width="1.1"/>
<path d="M190.6 265.6 H209.1" stroke="#1aff1a" stroke-width="1.1"/>
<path d="M190.6 277.6 H209.1" stroke="#ff1aff" stroke-width="1.1"/>
<g font-family='"Liberation Serif", "Noto Serif CJK SC", serif' font-size="9.8" fill="#111" stroke="#111" stroke-width="0.18">
<text x="211.6" y="232.1">Re=13,900</text>
<text x="211.6" y="244.3">Re=28,400</text>
<text x="211.6" y="256.3">Re=41,000</text>
<text x="211.6" y="268.4">Re=56,000</text>
<text x="211.6" y="280.4">Re=69,700</text>
</g>
<g font-family='"Liberation Serif", "Noto Serif CJK SC", serif' font-size="9.8" fill="#111" stroke="#111" stroke-width="0.15">
<text transform="translate(12 306) rotate(-90)" text-anchor="middle">Friction work(J/s)</text>
<text x="147.5" y="416.5" text-anchor="middle">Time(s)</text>
</g>
<text x="133.6" y="438.8" text-anchor="middle" font-family='"Liberation Serif", "Noto Serif CJK SC", serif' font-size="14.6" fill="#111">(<tspan font-weight="bold">c</tspan>)</text>
</svg>
</body>
</html>
